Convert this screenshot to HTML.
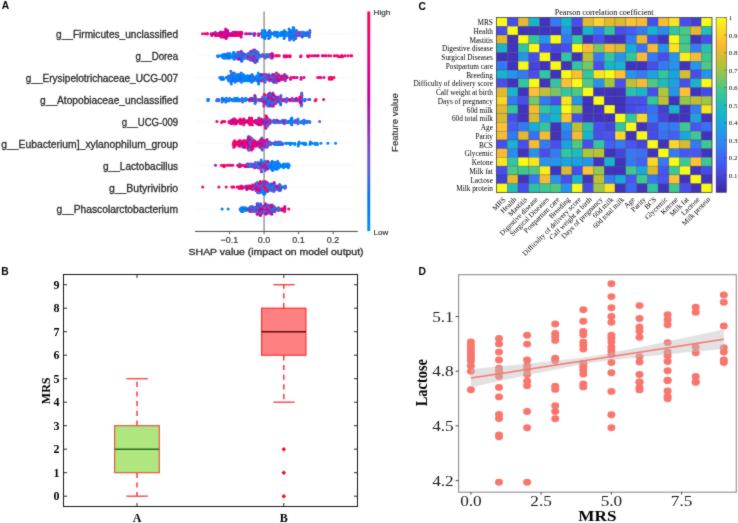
<!DOCTYPE html>
<html><head><meta charset="utf-8"><style>
html,body{margin:0;padding:0;background:#fff;width:738px;height:523px;overflow:hidden}
svg{display:block;will-change:transform}
</style></head><body>
<svg width="738" height="523" viewBox="0 0 738 523">
<defs><filter id="sb" x="0" y="0" width="100%" height="100%" color-interpolation-filters="sRGB"><feConvolveMatrix order="3" kernelMatrix="1 2 1 2 20 2 1 2 1" divisor="32" edgeMode="duplicate"/></filter></defs>
<g filter="url(#sb)">
<rect width="738" height="523" fill="#fff"/>
<text x="1.8" y="9.2" font-family='"Liberation Sans", sans-serif' font-weight="bold" font-size="10.3" fill="#000">A</text>
<text x="56.0" y="38.2" font-family='"Liberation Sans", sans-serif' font-size="10.3" fill="#2a2a2a" stroke="#2a2a2a" stroke-width="0.3" textLength="122.1" lengthAdjust="spacingAndGlyphs">g__Firmicutes_unclassified</text>
<line x1="196" x2="357" y1="33.8" y2="33.8" stroke="#ccc" stroke-width="0.6" stroke-dasharray="0.6 2.4"/>
<text x="135.5" y="60.1" font-family='"Liberation Sans", sans-serif' font-size="10.3" fill="#2a2a2a" stroke="#2a2a2a" stroke-width="0.3" textLength="42.6" lengthAdjust="spacingAndGlyphs">g__Dorea</text>
<line x1="196" x2="357" y1="55.7" y2="55.7" stroke="#ccc" stroke-width="0.6" stroke-dasharray="0.6 2.4"/>
<text x="25.8" y="82.0" font-family='"Liberation Sans", sans-serif' font-size="10.3" fill="#2a2a2a" stroke="#2a2a2a" stroke-width="0.3" textLength="152.3" lengthAdjust="spacingAndGlyphs">g__Erysipelotrichaceae_UCG-007</text>
<line x1="196" x2="357" y1="77.6" y2="77.6" stroke="#ccc" stroke-width="0.6" stroke-dasharray="0.6 2.4"/>
<text x="40.1" y="103.9" font-family='"Liberation Sans", sans-serif' font-size="10.3" fill="#2a2a2a" stroke="#2a2a2a" stroke-width="0.3" textLength="138.0" lengthAdjust="spacingAndGlyphs">g__Atopobiaceae_unclassified</text>
<line x1="196" x2="357" y1="99.5" y2="99.5" stroke="#ccc" stroke-width="0.6" stroke-dasharray="0.6 2.4"/>
<text x="121.8" y="125.8" font-family='"Liberation Sans", sans-serif' font-size="10.3" fill="#2a2a2a" stroke="#2a2a2a" stroke-width="0.3" textLength="56.3" lengthAdjust="spacingAndGlyphs">g__UCG-009</text>
<line x1="196" x2="357" y1="121.4" y2="121.4" stroke="#ccc" stroke-width="0.6" stroke-dasharray="0.6 2.4"/>
<text x="1.3" y="147.7" font-family='"Liberation Sans", sans-serif' font-size="10.3" fill="#2a2a2a" stroke="#2a2a2a" stroke-width="0.3" textLength="176.8" lengthAdjust="spacingAndGlyphs">g__Eubacterium]_xylanophilum_group</text>
<line x1="196" x2="357" y1="143.3" y2="143.3" stroke="#ccc" stroke-width="0.6" stroke-dasharray="0.6 2.4"/>
<text x="103.0" y="169.6" font-family='"Liberation Sans", sans-serif' font-size="10.3" fill="#2a2a2a" stroke="#2a2a2a" stroke-width="0.3" textLength="75.1" lengthAdjust="spacingAndGlyphs">g__Lactobacillus</text>
<line x1="196" x2="357" y1="165.2" y2="165.2" stroke="#ccc" stroke-width="0.6" stroke-dasharray="0.6 2.4"/>
<text x="108.9" y="191.5" font-family='"Liberation Sans", sans-serif' font-size="10.3" fill="#2a2a2a" stroke="#2a2a2a" stroke-width="0.3" textLength="69.2" lengthAdjust="spacingAndGlyphs">g__Butyrivibrio</text>
<line x1="196" x2="357" y1="187.1" y2="187.1" stroke="#ccc" stroke-width="0.6" stroke-dasharray="0.6 2.4"/>
<text x="56.6" y="213.4" font-family='"Liberation Sans", sans-serif' font-size="10.3" fill="#2a2a2a" stroke="#2a2a2a" stroke-width="0.3" textLength="121.5" lengthAdjust="spacingAndGlyphs">g__Phascolarctobacterium</text>
<line x1="196" x2="357" y1="209.0" y2="209.0" stroke="#ccc" stroke-width="0.6" stroke-dasharray="0.6 2.4"/>
<line x1="264.1" x2="264.1" y1="11.6" y2="231" stroke="#999" stroke-width="1.5"/>
<line x1="195.0" x2="357.8" y1="231.45" y2="231.45" stroke="#444" stroke-width="1"/>
<line x1="229.6" x2="229.6" y1="231.4" y2="234.2" stroke="#444" stroke-width="0.9"/>
<text x="229.4" y="242.9" text-anchor="middle" font-family='"Liberation Sans", sans-serif' font-size="9" fill="#333" stroke="#333" stroke-width="0.2">−0.1</text>
<line x1="264.1" x2="264.1" y1="231.4" y2="234.2" stroke="#444" stroke-width="0.9"/>
<text x="263.9" y="242.9" text-anchor="middle" font-family='"Liberation Sans", sans-serif' font-size="9" fill="#333" stroke="#333" stroke-width="0.2">0.0</text>
<line x1="298.7" x2="298.7" y1="231.4" y2="234.2" stroke="#444" stroke-width="0.9"/>
<text x="298.5" y="242.9" text-anchor="middle" font-family='"Liberation Sans", sans-serif' font-size="9" fill="#333" stroke="#333" stroke-width="0.2">0.1</text>
<line x1="333.2" x2="333.2" y1="231.4" y2="234.2" stroke="#444" stroke-width="0.9"/>
<text x="333.0" y="242.9" text-anchor="middle" font-family='"Liberation Sans", sans-serif' font-size="9" fill="#333" stroke="#333" stroke-width="0.2">0.2</text>
<text x="188.6" y="255" font-family='"Liberation Sans", sans-serif' font-size="9.6" fill="#2a2a2a" stroke="#2a2a2a" stroke-width="0.3" textLength="175" lengthAdjust="spacingAndGlyphs">SHAP value (impact on model output)</text>
<defs><linearGradient id="shapg" x1="0" y1="0" x2="0" y2="1"><stop offset="0.00" stop-color="#ff0051"/><stop offset="0.05" stop-color="#fe005c"/><stop offset="0.10" stop-color="#f90067"/><stop offset="0.15" stop-color="#f20072"/><stop offset="0.20" stop-color="#e9007c"/><stop offset="0.25" stop-color="#e00086"/><stop offset="0.30" stop-color="#d5008f"/><stop offset="0.35" stop-color="#c90098"/><stop offset="0.40" stop-color="#bb00a0"/><stop offset="0.45" stop-color="#ac16a7"/><stop offset="0.50" stop-color="#9b23ad"/><stop offset="0.55" stop-color="#9135ba"/><stop offset="0.60" stop-color="#8443c6"/><stop offset="0.65" stop-color="#754fd1"/><stop offset="0.70" stop-color="#635adb"/><stop offset="0.75" stop-color="#4b63e3"/><stop offset="0.80" stop-color="#246cea"/><stop offset="0.85" stop-color="#0075f0"/><stop offset="0.90" stop-color="#007cf5"/><stop offset="0.95" stop-color="#0084f9"/><stop offset="1.00" stop-color="#008bfb"/></linearGradient></defs>
<rect x="367.3" y="11.5" width="2.9" height="219.6" fill="url(#shapg)"/>
<text x="373.6" y="15.0" font-family='"Liberation Sans", sans-serif' font-size="8.1" fill="#333" stroke="#333" stroke-width="0.2">High</text>
<text x="373.6" y="234.8" font-family='"Liberation Sans", sans-serif' font-size="8.0" fill="#333" stroke="#333" stroke-width="0.2">Low</text>
<text transform="translate(398.4,122.6) rotate(-90)" text-anchor="middle" font-family='"Liberation Sans", sans-serif' font-size="9.6" fill="#333" stroke="#333" stroke-width="0.2">Feature value</text>
<g><circle cx="301.5" cy="35.4" r="1.5" fill="#007bf4"/><circle cx="260.3" cy="33.8" r="1.5" fill="#fd005f"/><circle cx="309.4" cy="37.0" r="1.5" fill="#4465e5"/><circle cx="233.7" cy="33.8" r="1.5" fill="#d20091"/><circle cx="215.3" cy="32.2" r="1.5" fill="#794ccf"/><circle cx="292.9" cy="33.8" r="1.5" fill="#0081f8"/><circle cx="240.8" cy="35.4" r="1.5" fill="#f7006a"/><circle cx="291.0" cy="32.2" r="1.5" fill="#0076f1"/><circle cx="215.4" cy="33.8" r="1.5" fill="#a61caa"/><circle cx="291.5" cy="38.5" r="1.5" fill="#774ed0"/><circle cx="269.1" cy="33.8" r="1.5" fill="#3c68e7"/><circle cx="272.0" cy="33.8" r="1.5" fill="#007bf4"/><circle cx="258.4" cy="33.8" r="1.5" fill="#6658d9"/><circle cx="241.4" cy="33.8" r="1.5" fill="#9f21ac"/><circle cx="220.9" cy="32.2" r="1.5" fill="#f5006e"/><circle cx="241.9" cy="33.8" r="1.5" fill="#d30091"/><circle cx="258.6" cy="35.4" r="1.5" fill="#d7008d"/><circle cx="225.7" cy="32.2" r="1.5" fill="#ef0075"/><circle cx="229.3" cy="33.8" r="1.5" fill="#db008b"/><circle cx="225.5" cy="32.2" r="1.5" fill="#e00086"/><circle cx="217.8" cy="35.4" r="1.5" fill="#c5009a"/><circle cx="241.2" cy="37.0" r="1.5" fill="#c3009c"/><circle cx="276.1" cy="33.8" r="1.5" fill="#007df5"/><circle cx="272.9" cy="33.8" r="1.5" fill="#0072ef"/><circle cx="290.3" cy="33.8" r="1.5" fill="#0074f0"/><circle cx="281.4" cy="33.8" r="1.5" fill="#0080f7"/><circle cx="305.6" cy="33.8" r="1.5" fill="#9136ba"/><circle cx="275.1" cy="35.4" r="1.5" fill="#0084f9"/><circle cx="247.1" cy="33.8" r="1.5" fill="#8740c4"/><circle cx="235.9" cy="35.4" r="1.5" fill="#ea007b"/><circle cx="289.5" cy="38.5" r="1.5" fill="#008bfb"/><circle cx="226.0" cy="33.8" r="1.5" fill="#e50081"/><circle cx="292.6" cy="35.4" r="1.5" fill="#0081f7"/><circle cx="234.7" cy="35.4" r="1.5" fill="#fb0062"/><circle cx="250.9" cy="33.8" r="1.5" fill="#0077f2"/><circle cx="274.3" cy="32.2" r="1.5" fill="#008bfb"/><circle cx="295.6" cy="35.4" r="1.5" fill="#ae13a6"/><circle cx="268.7" cy="38.5" r="1.5" fill="#0071ee"/><circle cx="212.7" cy="33.8" r="1.5" fill="#e30083"/><circle cx="207.5" cy="33.8" r="1.5" fill="#f6006b"/><circle cx="299.4" cy="33.8" r="1.5" fill="#008bfb"/><circle cx="232.4" cy="33.8" r="1.5" fill="#f80069"/><circle cx="296.6" cy="35.4" r="1.5" fill="#4f62e2"/><circle cx="264.9" cy="38.5" r="1.5" fill="#007cf5"/><circle cx="211.8" cy="35.4" r="1.5" fill="#c70099"/><circle cx="295.6" cy="38.5" r="1.5" fill="#9430b6"/><circle cx="222.9" cy="33.8" r="1.5" fill="#cd0095"/><circle cx="308.3" cy="35.4" r="1.5" fill="#8641c4"/><circle cx="238.1" cy="35.4" r="1.5" fill="#a61ca9"/><circle cx="284.3" cy="30.6" r="1.5" fill="#008bfb"/><circle cx="290.5" cy="38.5" r="1.5" fill="#008bfb"/><circle cx="283.0" cy="35.4" r="1.5" fill="#007bf4"/><circle cx="239.4" cy="33.8" r="1.5" fill="#de0088"/><circle cx="262.4" cy="32.2" r="1.5" fill="#0076f2"/><circle cx="305.2" cy="35.4" r="1.5" fill="#008bfb"/><circle cx="222.0" cy="35.4" r="1.5" fill="#9a26af"/><circle cx="222.9" cy="32.2" r="1.5" fill="#a020ab"/><circle cx="276.6" cy="35.4" r="1.5" fill="#0085f9"/><circle cx="291.5" cy="30.6" r="1.5" fill="#008bfb"/><circle cx="245.6" cy="33.8" r="1.5" fill="#cc0096"/><circle cx="286.2" cy="35.4" r="1.5" fill="#0083f8"/><circle cx="277.4" cy="33.8" r="1.5" fill="#007cf5"/><circle cx="292.6" cy="32.2" r="1.5" fill="#754fd1"/><circle cx="219.8" cy="35.4" r="1.5" fill="#c70099"/><circle cx="292.0" cy="35.4" r="1.5" fill="#008bfb"/><circle cx="280.0" cy="35.4" r="1.5" fill="#007ef6"/><circle cx="264.5" cy="35.4" r="1.5" fill="#006fed"/><circle cx="309.8" cy="30.6" r="1.5" fill="#126eec"/><circle cx="237.8" cy="33.8" r="1.5" fill="#e20084"/><circle cx="303.3" cy="33.8" r="1.5" fill="#0072ef"/><circle cx="283.8" cy="33.8" r="1.5" fill="#0084f9"/><circle cx="262.1" cy="37.0" r="1.5" fill="#0088fa"/><circle cx="262.5" cy="35.4" r="1.5" fill="#0089fa"/><circle cx="280.6" cy="33.8" r="1.5" fill="#008bfb"/><circle cx="224.3" cy="37.0" r="1.5" fill="#ff0051"/><circle cx="290.8" cy="35.4" r="1.5" fill="#008bfb"/><circle cx="216.3" cy="33.8" r="1.5" fill="#9332b7"/><circle cx="230.2" cy="35.4" r="1.5" fill="#ff0051"/><circle cx="289.5" cy="35.4" r="1.5" fill="#008bfb"/><circle cx="254.4" cy="33.8" r="1.5" fill="#f30070"/><circle cx="277.8" cy="32.2" r="1.5" fill="#0085f9"/><circle cx="214.0" cy="33.8" r="1.5" fill="#af12a6"/><circle cx="224.2" cy="32.2" r="1.5" fill="#e8007d"/><circle cx="211.0" cy="33.8" r="1.5" fill="#e10085"/><circle cx="288.6" cy="32.2" r="1.5" fill="#0087fa"/><circle cx="280.6" cy="35.4" r="1.5" fill="#007df6"/><circle cx="221.4" cy="32.2" r="1.5" fill="#a41daa"/><circle cx="226.3" cy="37.0" r="1.5" fill="#c90098"/><circle cx="274.8" cy="33.8" r="1.5" fill="#0088fa"/><circle cx="286.0" cy="32.2" r="1.5" fill="#0073ef"/><circle cx="263.6" cy="37.0" r="1.5" fill="#0081f7"/><circle cx="264.8" cy="30.6" r="1.5" fill="#0082f8"/><circle cx="307.9" cy="33.8" r="1.5" fill="#0070ed"/><circle cx="236.7" cy="35.4" r="1.5" fill="#ec0079"/><circle cx="225.5" cy="33.8" r="1.5" fill="#bc009f"/><circle cx="265.2" cy="32.2" r="1.5" fill="#046fed"/><circle cx="296.4" cy="30.6" r="1.5" fill="#0070ee"/><circle cx="308.4" cy="33.8" r="1.5" fill="#007cf5"/><circle cx="235.0" cy="33.8" r="1.5" fill="#c0009d"/><circle cx="232.7" cy="35.4" r="1.5" fill="#cc0096"/><circle cx="294.3" cy="32.2" r="1.5" fill="#0087fa"/><circle cx="298.4" cy="32.2" r="1.5" fill="#8146c9"/><circle cx="241.6" cy="32.2" r="1.5" fill="#fe005c"/><circle cx="207.1" cy="33.8" r="1.5" fill="#f20072"/><circle cx="240.1" cy="32.2" r="1.5" fill="#ad15a6"/><circle cx="295.8" cy="32.2" r="1.5" fill="#008bfb"/><circle cx="304.1" cy="35.4" r="1.5" fill="#754fd1"/><circle cx="232.0" cy="35.4" r="1.5" fill="#d00093"/><circle cx="224.6" cy="37.0" r="1.5" fill="#c3009c"/><circle cx="291.4" cy="32.2" r="1.5" fill="#006fed"/><circle cx="240.1" cy="35.4" r="1.5" fill="#e7007e"/><circle cx="293.5" cy="33.8" r="1.5" fill="#0083f8"/><circle cx="262.5" cy="33.8" r="1.5" fill="#4b63e3"/><circle cx="217.6" cy="33.8" r="1.5" fill="#ee0077"/><circle cx="303.1" cy="35.4" r="1.5" fill="#008bfb"/><circle cx="284.1" cy="38.5" r="1.5" fill="#007af4"/><circle cx="289.4" cy="37.0" r="1.5" fill="#6b55d7"/><circle cx="227.0" cy="37.0" r="1.5" fill="#eb007a"/><circle cx="301.8" cy="32.2" r="1.5" fill="#7251d3"/><circle cx="221.0" cy="37.0" r="1.5" fill="#e50081"/><circle cx="269.5" cy="37.0" r="1.5" fill="#0078f2"/><circle cx="282.5" cy="32.2" r="1.5" fill="#007ff7"/><circle cx="268.5" cy="32.2" r="1.5" fill="#0070ed"/><circle cx="293.2" cy="35.4" r="1.5" fill="#0072ee"/><circle cx="300.3" cy="32.2" r="1.5" fill="#3b68e7"/><circle cx="202.5" cy="33.8" r="1.5" fill="#f20071"/><circle cx="275.5" cy="33.8" r="1.5" fill="#0086f9"/><circle cx="297.3" cy="33.8" r="1.5" fill="#008bfb"/><circle cx="290.4" cy="30.6" r="1.5" fill="#008bfb"/><circle cx="222.7" cy="37.0" r="1.5" fill="#a81aa9"/><circle cx="232.9" cy="32.2" r="1.5" fill="#d10092"/><circle cx="220.2" cy="32.2" r="1.5" fill="#be009e"/><circle cx="293.9" cy="29.1" r="1.5" fill="#0077f2"/><circle cx="288.7" cy="33.8" r="1.5" fill="#0073ef"/><circle cx="299.9" cy="33.8" r="1.5" fill="#a11fab"/><circle cx="227.7" cy="35.4" r="1.5" fill="#a81aa9"/><circle cx="271.5" cy="33.8" r="1.5" fill="#0072ef"/><circle cx="261.9" cy="33.8" r="1.5" fill="#008afb"/><circle cx="267.4" cy="35.4" r="1.5" fill="#007cf5"/><circle cx="293.9" cy="37.0" r="1.5" fill="#0087fa"/><circle cx="269.5" cy="30.6" r="1.5" fill="#0073ef"/><circle cx="289.6" cy="40.1" r="1.5" fill="#6758d9"/><circle cx="281.2" cy="32.2" r="1.5" fill="#007df5"/><circle cx="284.2" cy="32.2" r="1.5" fill="#0076f2"/><circle cx="297.7" cy="35.4" r="1.5" fill="#8641c4"/><circle cx="293.8" cy="40.1" r="1.5" fill="#0087fa"/><circle cx="267.7" cy="33.8" r="1.5" fill="#5161e1"/><circle cx="288.3" cy="35.4" r="1.5" fill="#007af4"/><circle cx="254.2" cy="35.4" r="1.5" fill="#982ab2"/><circle cx="284.2" cy="35.4" r="1.5" fill="#0081f7"/><circle cx="218.5" cy="33.8" r="1.5" fill="#b40ba3"/><circle cx="225.3" cy="35.4" r="1.5" fill="#f10073"/><circle cx="309.4" cy="33.8" r="1.5" fill="#007af4"/><circle cx="225.7" cy="29.1" r="1.5" fill="#fd005e"/><circle cx="231.3" cy="33.8" r="1.5" fill="#c5009a"/><circle cx="307.2" cy="35.4" r="1.5" fill="#008bfb"/><circle cx="264.0" cy="33.8" r="1.5" fill="#0075f1"/><circle cx="253.3" cy="33.8" r="1.5" fill="#5a5ede"/><circle cx="285.2" cy="33.8" r="1.5" fill="#007af4"/><circle cx="233.3" cy="32.2" r="1.5" fill="#9332b7"/><circle cx="292.0" cy="37.0" r="1.5" fill="#0072ee"/><circle cx="293.0" cy="37.0" r="1.5" fill="#007ff7"/><circle cx="309.4" cy="35.4" r="1.5" fill="#595edf"/><circle cx="219.6" cy="33.8" r="1.5" fill="#f6006c"/><circle cx="230.0" cy="33.8" r="1.5" fill="#b509a3"/><circle cx="235.6" cy="33.8" r="1.5" fill="#e8007e"/><circle cx="255.0" cy="33.8" r="1.5" fill="#dd0089"/><circle cx="225.8" cy="30.6" r="1.5" fill="#b804a2"/><circle cx="234.7" cy="32.2" r="1.5" fill="#cb0096"/><circle cx="288.9" cy="33.8" r="1.5" fill="#008bfb"/><circle cx="223.2" cy="35.4" r="1.5" fill="#fd0060"/><circle cx="262.4" cy="30.6" r="1.5" fill="#0082f8"/><circle cx="274.6" cy="35.4" r="1.5" fill="#008bfb"/><circle cx="289.0" cy="29.1" r="1.5" fill="#2c6bea"/><circle cx="234.0" cy="35.4" r="1.5" fill="#e8007e"/><circle cx="301.9" cy="35.4" r="1.5" fill="#0078f3"/><circle cx="227.7" cy="30.6" r="1.5" fill="#db008a"/><circle cx="227.8" cy="35.4" r="1.5" fill="#f30070"/><circle cx="215.2" cy="35.4" r="1.5" fill="#ff0059"/><circle cx="249.0" cy="33.8" r="1.5" fill="#d8008c"/><circle cx="295.4" cy="33.8" r="1.5" fill="#6f53d5"/><circle cx="309.8" cy="32.2" r="1.5" fill="#8a3ec1"/><circle cx="269.8" cy="35.4" r="1.5" fill="#007cf5"/><circle cx="293.5" cy="38.5" r="1.5" fill="#008bfb"/><circle cx="269.6" cy="35.4" r="1.5" fill="#226deb"/><circle cx="303.7" cy="32.2" r="1.5" fill="#3a68e7"/><circle cx="298.1" cy="33.8" r="1.5" fill="#7152d4"/><circle cx="240.0" cy="33.8" r="1.5" fill="#b30da4"/><circle cx="222.3" cy="33.8" r="1.5" fill="#c6009a"/><circle cx="301.7" cy="32.2" r="1.5" fill="#6758d9"/><circle cx="295.3" cy="35.4" r="1.5" fill="#9037bb"/><circle cx="228.6" cy="33.8" r="1.5" fill="#ea007b"/><circle cx="270.3" cy="37.0" r="1.5" fill="#008bfb"/><circle cx="275.6" cy="32.2" r="1.5" fill="#0072ee"/><circle cx="307.1" cy="35.4" r="1.5" fill="#007ff6"/><circle cx="289.4" cy="32.2" r="1.5" fill="#007df6"/><circle cx="290.0" cy="30.6" r="1.5" fill="#0081f7"/><circle cx="299.9" cy="35.4" r="1.5" fill="#336ae8"/><circle cx="280.0" cy="33.8" r="1.5" fill="#008bfb"/><circle cx="293.7" cy="30.6" r="1.5" fill="#008bfb"/><circle cx="302.1" cy="33.8" r="1.5" fill="#4366e5"/><circle cx="227.7" cy="32.2" r="1.5" fill="#d30090"/><circle cx="237.9" cy="32.2" r="1.5" fill="#ff0051"/><circle cx="306.6" cy="33.8" r="1.5" fill="#0082f8"/><circle cx="205.1" cy="33.8" r="1.5" fill="#e7007f"/><circle cx="220.9" cy="35.4" r="1.5" fill="#f70069"/><circle cx="267.3" cy="33.8" r="1.5" fill="#0089fa"/><circle cx="270.6" cy="32.2" r="1.5" fill="#6857d8"/><circle cx="294.3" cy="33.8" r="1.5" fill="#754fd1"/><circle cx="286.6" cy="33.8" r="1.5" fill="#008afb"/><circle cx="216.8" cy="35.4" r="1.5" fill="#e00085"/><circle cx="213.1" cy="33.8" r="1.5" fill="#d5008f"/><circle cx="218.4" cy="35.4" r="1.5" fill="#f00074"/><circle cx="220.6" cy="33.8" r="1.5" fill="#c2009c"/><circle cx="224.3" cy="35.4" r="1.5" fill="#cc0096"/><circle cx="226.5" cy="35.4" r="1.5" fill="#ca0097"/><circle cx="296.0" cy="37.0" r="1.5" fill="#008bfb"/><circle cx="293.3" cy="27.5" r="1.5" fill="#0077f2"/><circle cx="236.5" cy="33.8" r="1.5" fill="#fe005c"/><circle cx="295.2" cy="32.2" r="1.5" fill="#5b5dde"/><circle cx="277.4" cy="37.0" r="1.5" fill="#008bfb"/><circle cx="287.8" cy="33.8" r="1.5" fill="#008bfb"/><circle cx="265.3" cy="33.8" r="1.5" fill="#008bfb"/><circle cx="263.8" cy="35.4" r="1.5" fill="#0081f7"/><circle cx="270.4" cy="33.8" r="1.5" fill="#007ff7"/><circle cx="306.8" cy="32.2" r="1.5" fill="#0080f7"/><circle cx="290.1" cy="37.0" r="1.5" fill="#276cea"/><circle cx="224.5" cy="33.8" r="1.5" fill="#f20072"/><circle cx="292.0" cy="33.8" r="1.5" fill="#0084f9"/><circle cx="226.7" cy="33.8" r="1.5" fill="#aa18a8"/><circle cx="263.4" cy="32.2" r="1.5" fill="#008bfb"/><circle cx="265.2" cy="37.0" r="1.5" fill="#007ff6"/><circle cx="302.2" cy="37.0" r="1.5" fill="#a021ac"/><circle cx="277.7" cy="35.4" r="1.5" fill="#008bfb"/><circle cx="226.1" cy="38.5" r="1.5" fill="#ce0094"/><circle cx="235.8" cy="32.2" r="1.5" fill="#da008b"/><circle cx="305.0" cy="33.8" r="1.5" fill="#1a6deb"/><circle cx="301.8" cy="33.8" r="1.5" fill="#008bfb"/><circle cx="282.7" cy="33.8" r="1.5" fill="#0072ef"/><circle cx="284.4" cy="37.0" r="1.5" fill="#0085f9"/><circle cx="253.4" cy="58.0" r="1.5" fill="#9928b0"/><circle cx="241.7" cy="61.3" r="1.5" fill="#0077f2"/><circle cx="237.9" cy="52.3" r="1.5" fill="#0078f3"/><circle cx="265.4" cy="58.0" r="1.5" fill="#008bfb"/><circle cx="250.2" cy="55.7" r="1.5" fill="#8047c9"/><circle cx="238.8" cy="52.3" r="1.5" fill="#9234b9"/><circle cx="258.2" cy="58.0" r="1.5" fill="#4565e5"/><circle cx="309.6" cy="55.7" r="1.5" fill="#fb0062"/><circle cx="222.5" cy="55.7" r="1.5" fill="#006fed"/><circle cx="252.0" cy="56.8" r="1.5" fill="#5161e1"/><circle cx="241.8" cy="52.3" r="1.5" fill="#6d54d6"/><circle cx="314.1" cy="55.7" r="1.5" fill="#e8007e"/><circle cx="251.9" cy="59.1" r="1.5" fill="#8d3abe"/><circle cx="243.3" cy="53.4" r="1.5" fill="#008bfb"/><circle cx="244.5" cy="58.0" r="1.5" fill="#0089fa"/><circle cx="272.9" cy="55.7" r="1.5" fill="#8c3cc0"/><circle cx="240.0" cy="53.4" r="1.5" fill="#c2009c"/><circle cx="234.6" cy="53.4" r="1.5" fill="#196eec"/><circle cx="262.7" cy="54.6" r="1.5" fill="#9233b8"/><circle cx="266.7" cy="56.8" r="1.5" fill="#c60099"/><circle cx="248.3" cy="53.4" r="1.5" fill="#0088fa"/><circle cx="239.2" cy="58.0" r="1.5" fill="#6b55d7"/><circle cx="248.0" cy="58.0" r="1.5" fill="#0073ef"/><circle cx="226.2" cy="54.6" r="1.5" fill="#4b63e3"/><circle cx="326.0" cy="55.7" r="1.5" fill="#fc0061"/><circle cx="237.9" cy="55.7" r="1.5" fill="#008bfb"/><circle cx="347.9" cy="55.7" r="1.5" fill="#f90067"/><circle cx="277.4" cy="55.7" r="1.5" fill="#e9007d"/><circle cx="248.6" cy="55.7" r="1.5" fill="#3968e7"/><circle cx="253.4" cy="54.6" r="1.5" fill="#8047c9"/><circle cx="252.4" cy="58.0" r="1.5" fill="#982bb2"/><circle cx="250.7" cy="56.8" r="1.5" fill="#2b6bea"/><circle cx="234.4" cy="59.1" r="1.5" fill="#0084f9"/><circle cx="241.6" cy="58.0" r="1.5" fill="#186eec"/><circle cx="244.6" cy="54.6" r="1.5" fill="#0070ed"/><circle cx="236.0" cy="56.8" r="1.5" fill="#007cf5"/><circle cx="255.6" cy="59.1" r="1.5" fill="#b011a5"/><circle cx="219.8" cy="55.7" r="1.5" fill="#008bfb"/><circle cx="245.3" cy="54.6" r="1.5" fill="#9234b9"/><circle cx="233.5" cy="53.4" r="1.5" fill="#0071ee"/><circle cx="248.3" cy="59.1" r="1.5" fill="#008afb"/><circle cx="221.3" cy="55.7" r="1.5" fill="#0080f7"/><circle cx="241.0" cy="56.8" r="1.5" fill="#007ef6"/><circle cx="227.2" cy="54.6" r="1.5" fill="#3a68e7"/><circle cx="268.4" cy="56.8" r="1.5" fill="#7b4bcd"/><circle cx="257.1" cy="61.3" r="1.5" fill="#0086f9"/><circle cx="253.9" cy="59.1" r="1.5" fill="#5d5cdd"/><circle cx="312.0" cy="55.7" r="1.5" fill="#e8007d"/><circle cx="254.5" cy="56.8" r="1.5" fill="#c70099"/><circle cx="255.0" cy="52.3" r="1.5" fill="#952fb5"/><circle cx="254.9" cy="55.7" r="1.5" fill="#a120ab"/><circle cx="247.2" cy="54.6" r="1.5" fill="#6b55d7"/><circle cx="271.0" cy="54.6" r="1.5" fill="#6d54d6"/><circle cx="253.4" cy="52.3" r="1.5" fill="#3968e7"/><circle cx="245.2" cy="55.7" r="1.5" fill="#6d54d6"/><circle cx="230.3" cy="56.8" r="1.5" fill="#0083f8"/><circle cx="243.4" cy="56.8" r="1.5" fill="#952fb5"/><circle cx="246.6" cy="58.0" r="1.5" fill="#0072ef"/><circle cx="243.9" cy="55.7" r="1.5" fill="#0076f2"/><circle cx="232.1" cy="55.7" r="1.5" fill="#0083f8"/><circle cx="253.1" cy="52.3" r="1.5" fill="#6b56d7"/><circle cx="287.8" cy="55.7" r="1.5" fill="#f5006d"/><circle cx="238.1" cy="58.0" r="1.5" fill="#0076f2"/><circle cx="229.5" cy="54.6" r="1.5" fill="#007ef6"/><circle cx="250.6" cy="52.3" r="1.5" fill="#8b3cc0"/><circle cx="248.9" cy="54.6" r="1.5" fill="#1b6deb"/><circle cx="254.9" cy="58.0" r="1.5" fill="#0084f9"/><circle cx="300.6" cy="56.8" r="1.5" fill="#e40082"/><circle cx="224.7" cy="56.8" r="1.5" fill="#0078f3"/><circle cx="259.8" cy="55.7" r="1.5" fill="#a120ab"/><circle cx="264.7" cy="55.7" r="1.5" fill="#8c3bbf"/><circle cx="266.1" cy="56.8" r="1.5" fill="#4b63e3"/><circle cx="235.0" cy="54.6" r="1.5" fill="#0073ef"/><circle cx="230.2" cy="58.0" r="1.5" fill="#007ff6"/><circle cx="251.3" cy="53.4" r="1.5" fill="#a71ba9"/><circle cx="254.7" cy="50.1" r="1.5" fill="#982bb2"/><circle cx="271.4" cy="55.7" r="1.5" fill="#5b5dde"/><circle cx="325.4" cy="55.7" r="1.5" fill="#fd005e"/><circle cx="255.2" cy="62.5" r="1.5" fill="#972bb3"/><circle cx="258.3" cy="55.7" r="1.5" fill="#7251d3"/><circle cx="228.6" cy="56.8" r="1.5" fill="#007ef6"/><circle cx="239.3" cy="56.8" r="1.5" fill="#4665e4"/><circle cx="256.4" cy="58.0" r="1.5" fill="#4e62e2"/><circle cx="228.3" cy="58.0" r="1.5" fill="#0078f3"/><circle cx="345.0" cy="55.7" r="1.5" fill="#e10085"/><circle cx="255.9" cy="52.3" r="1.5" fill="#cf0094"/><circle cx="272.0" cy="53.4" r="1.5" fill="#e30083"/><circle cx="237.7" cy="56.8" r="1.5" fill="#5261e1"/><circle cx="251.5" cy="59.1" r="1.5" fill="#e30083"/><circle cx="237.7" cy="59.1" r="1.5" fill="#9928b0"/><circle cx="223.0" cy="54.6" r="1.5" fill="#007df6"/><circle cx="250.8" cy="51.2" r="1.5" fill="#ff0057"/><circle cx="243.1" cy="59.1" r="1.5" fill="#4c63e3"/><circle cx="257.3" cy="54.6" r="1.5" fill="#8840c3"/><circle cx="255.4" cy="54.6" r="1.5" fill="#7f48ca"/><circle cx="217.9" cy="56.8" r="1.5" fill="#0086f9"/><circle cx="350.7" cy="55.7" r="1.5" fill="#e20084"/><circle cx="279.2" cy="55.7" r="1.5" fill="#fd005f"/><circle cx="242.1" cy="56.8" r="1.5" fill="#306ae9"/><circle cx="254.0" cy="61.3" r="1.5" fill="#8245c8"/><circle cx="269.8" cy="54.6" r="1.5" fill="#dc0089"/><circle cx="307.5" cy="55.7" r="1.5" fill="#f30070"/><circle cx="328.6" cy="55.7" r="1.5" fill="#e50081"/><circle cx="241.4" cy="59.1" r="1.5" fill="#8542c5"/><circle cx="251.1" cy="58.0" r="1.5" fill="#8741c4"/><circle cx="250.0" cy="56.8" r="1.5" fill="#db008a"/><circle cx="257.8" cy="56.8" r="1.5" fill="#0077f2"/><circle cx="240.4" cy="59.1" r="1.5" fill="#0070ed"/><circle cx="341.2" cy="56.8" r="1.5" fill="#e50081"/><circle cx="234.0" cy="59.1" r="1.5" fill="#5062e2"/><circle cx="256.0" cy="54.6" r="1.5" fill="#007df6"/><circle cx="258.5" cy="56.8" r="1.5" fill="#008bfb"/><circle cx="242.1" cy="53.4" r="1.5" fill="#6c54d6"/><circle cx="246.4" cy="58.0" r="1.5" fill="#0088fa"/><circle cx="245.2" cy="56.8" r="1.5" fill="#605bdc"/><circle cx="227.7" cy="58.0" r="1.5" fill="#0076f1"/><circle cx="239.5" cy="53.4" r="1.5" fill="#7e49cb"/><circle cx="255.3" cy="56.8" r="1.5" fill="#bf009e"/><circle cx="261.6" cy="55.7" r="1.5" fill="#5360e1"/><circle cx="272.2" cy="58.0" r="1.5" fill="#7a4bce"/><circle cx="250.7" cy="60.2" r="1.5" fill="#7450d2"/><circle cx="341.3" cy="55.7" r="1.5" fill="#d20091"/><circle cx="222.3" cy="56.8" r="1.5" fill="#007ff7"/><circle cx="241.3" cy="51.2" r="1.5" fill="#962eb4"/><circle cx="322.3" cy="55.7" r="1.5" fill="#ef0076"/><circle cx="275.9" cy="55.7" r="1.5" fill="#ff0051"/><circle cx="240.6" cy="58.0" r="1.5" fill="#0078f3"/><circle cx="239.1" cy="54.6" r="1.5" fill="#ce0094"/><circle cx="256.5" cy="51.2" r="1.5" fill="#008bfb"/><circle cx="273.0" cy="56.8" r="1.5" fill="#f6006c"/><circle cx="254.7" cy="51.2" r="1.5" fill="#4764e4"/><circle cx="287.3" cy="56.8" r="1.5" fill="#ff0059"/><circle cx="271.4" cy="56.8" r="1.5" fill="#c3009c"/><circle cx="228.5" cy="54.6" r="1.5" fill="#0e6eec"/><circle cx="258.6" cy="54.6" r="1.5" fill="#0070ed"/><circle cx="330.6" cy="55.7" r="1.5" fill="#ff0051"/><circle cx="252.6" cy="54.6" r="1.5" fill="#7f48ca"/><circle cx="240.5" cy="55.7" r="1.5" fill="#008bfb"/><circle cx="268.6" cy="55.7" r="1.5" fill="#c90098"/><circle cx="253.1" cy="53.4" r="1.5" fill="#0071ee"/><circle cx="227.8" cy="53.4" r="1.5" fill="#0081f8"/><circle cx="317.5" cy="55.7" r="1.5" fill="#f7006a"/><circle cx="255.1" cy="61.3" r="1.5" fill="#0077f2"/><circle cx="232.9" cy="56.8" r="1.5" fill="#4465e5"/><circle cx="253.2" cy="60.2" r="1.5" fill="#8740c4"/><circle cx="315.7" cy="55.7" r="1.5" fill="#e9007d"/><circle cx="253.8" cy="51.2" r="1.5" fill="#0074f0"/><circle cx="227.2" cy="55.7" r="1.5" fill="#0078f3"/><circle cx="269.5" cy="55.7" r="1.5" fill="#7450d2"/><circle cx="234.3" cy="55.7" r="1.5" fill="#4266e6"/><circle cx="228.3" cy="55.7" r="1.5" fill="#6c55d6"/><circle cx="256.8" cy="56.8" r="1.5" fill="#7c4acc"/><circle cx="257.1" cy="59.1" r="1.5" fill="#008bfb"/><circle cx="217.6" cy="55.7" r="1.5" fill="#0082f8"/><circle cx="276.8" cy="55.7" r="1.5" fill="#ff0055"/><circle cx="256.7" cy="53.4" r="1.5" fill="#0075f1"/><circle cx="255.7" cy="53.4" r="1.5" fill="#9431b7"/><circle cx="284.3" cy="56.8" r="1.5" fill="#fb0064"/><circle cx="260.4" cy="55.7" r="1.5" fill="#0076f2"/><circle cx="229.2" cy="55.7" r="1.5" fill="#0b6fec"/><circle cx="241.8" cy="54.6" r="1.5" fill="#008bfb"/><circle cx="235.6" cy="55.7" r="1.5" fill="#a31eab"/><circle cx="251.9" cy="55.7" r="1.5" fill="#575fdf"/><circle cx="234.8" cy="56.8" r="1.5" fill="#0071ee"/><circle cx="226.0" cy="56.8" r="1.5" fill="#0072ef"/><circle cx="260.1" cy="56.8" r="1.5" fill="#6956d8"/><circle cx="338.8" cy="56.8" r="1.5" fill="#fe005e"/><circle cx="238.1" cy="53.4" r="1.5" fill="#883fc3"/><circle cx="247.4" cy="55.7" r="1.5" fill="#8146c8"/><circle cx="234.1" cy="56.8" r="1.5" fill="#2f6ae9"/><circle cx="249.5" cy="54.6" r="1.5" fill="#008bfb"/><circle cx="241.4" cy="60.2" r="1.5" fill="#0073ef"/><circle cx="266.0" cy="55.7" r="1.5" fill="#8d3abe"/><circle cx="234.5" cy="58.0" r="1.5" fill="#0071ee"/><circle cx="290.0" cy="56.8" r="1.5" fill="#ea007b"/><circle cx="308.1" cy="56.8" r="1.5" fill="#e9007c"/><circle cx="266.7" cy="55.7" r="1.5" fill="#7d49cc"/><circle cx="250.3" cy="58.0" r="1.5" fill="#a51daa"/><circle cx="318.3" cy="55.7" r="1.5" fill="#da008b"/><circle cx="250.8" cy="54.6" r="1.5" fill="#008bfb"/><circle cx="238.0" cy="54.6" r="1.5" fill="#316ae9"/><circle cx="245.0" cy="56.8" r="1.5" fill="#008bfb"/><circle cx="257.6" cy="59.1" r="1.5" fill="#4c63e3"/><circle cx="251.6" cy="55.7" r="1.5" fill="#7d49cb"/><circle cx="253.7" cy="55.7" r="1.5" fill="#9928b0"/><circle cx="253.1" cy="60.2" r="1.5" fill="#e9007d"/><circle cx="267.2" cy="54.6" r="1.5" fill="#4f62e2"/><circle cx="230.0" cy="53.4" r="1.5" fill="#008bfb"/><circle cx="225.7" cy="58.0" r="1.5" fill="#0080f7"/><circle cx="233.3" cy="58.0" r="1.5" fill="#008bfb"/><circle cx="290.2" cy="55.7" r="1.5" fill="#ef0076"/><circle cx="257.9" cy="53.4" r="1.5" fill="#0081f7"/><circle cx="242.7" cy="54.6" r="1.5" fill="#0075f1"/><circle cx="224.9" cy="54.6" r="1.5" fill="#007af4"/><circle cx="247.3" cy="56.8" r="1.5" fill="#008bfb"/><circle cx="256.3" cy="60.2" r="1.5" fill="#be009e"/><circle cx="223.2" cy="58.0" r="1.5" fill="#0083f8"/><circle cx="247.9" cy="56.8" r="1.5" fill="#af13a6"/><circle cx="337.8" cy="55.7" r="1.5" fill="#f80068"/><circle cx="242.1" cy="55.7" r="1.5" fill="#6559da"/><circle cx="233.0" cy="54.6" r="1.5" fill="#0089fa"/><circle cx="271.4" cy="58.0" r="1.5" fill="#9430b6"/><circle cx="285.4" cy="56.8" r="1.5" fill="#e60080"/><circle cx="234.3" cy="54.6" r="1.5" fill="#008bfb"/><circle cx="254.7" cy="60.2" r="1.5" fill="#1c6deb"/><circle cx="323.1" cy="55.7" r="1.5" fill="#d20091"/><circle cx="301.1" cy="55.7" r="1.5" fill="#f90066"/><circle cx="334.2" cy="55.7" r="1.5" fill="#fa0065"/><circle cx="342.2" cy="55.7" r="1.5" fill="#e00086"/><circle cx="342.5" cy="56.8" r="1.5" fill="#f90067"/><circle cx="225.7" cy="55.7" r="1.5" fill="#0071ee"/><circle cx="235.9" cy="55.7" r="1.5" fill="#156eec"/><circle cx="242.7" cy="55.7" r="1.5" fill="#0070ed"/><circle cx="224.0" cy="55.7" r="1.5" fill="#007ff6"/><circle cx="239.7" cy="55.7" r="1.5" fill="#0072ef"/><circle cx="250.1" cy="52.3" r="1.5" fill="#0072ef"/><circle cx="284.1" cy="55.7" r="1.5" fill="#da008b"/><circle cx="240.1" cy="54.6" r="1.5" fill="#4d63e3"/><circle cx="351.8" cy="55.7" r="1.5" fill="#f7006b"/><circle cx="226.9" cy="56.8" r="1.5" fill="#007af4"/><circle cx="225.0" cy="58.0" r="1.5" fill="#008afb"/><circle cx="263.1" cy="55.7" r="1.5" fill="#6e53d5"/><circle cx="239.2" cy="59.1" r="1.5" fill="#be009e"/><circle cx="230.4" cy="55.7" r="1.5" fill="#0085f9"/><circle cx="257.9" cy="52.3" r="1.5" fill="#7d49cc"/><circle cx="253.5" cy="50.1" r="1.5" fill="#9135ba"/><circle cx="243.6" cy="58.0" r="1.5" fill="#605bdc"/><circle cx="336.2" cy="55.7" r="1.5" fill="#fa0064"/><circle cx="263.6" cy="56.8" r="1.5" fill="#7a4bce"/><circle cx="285.7" cy="55.7" r="1.5" fill="#f80069"/><circle cx="253.5" cy="53.4" r="1.5" fill="#008bfb"/><circle cx="266.3" cy="54.6" r="1.5" fill="#008bfb"/><circle cx="272.9" cy="54.6" r="1.5" fill="#b20ea4"/><circle cx="250.0" cy="53.4" r="1.5" fill="#605bdc"/><circle cx="269.6" cy="56.8" r="1.5" fill="#7350d2"/><circle cx="231.0" cy="56.8" r="1.5" fill="#0082f8"/><circle cx="256.4" cy="55.7" r="1.5" fill="#008bfb"/><circle cx="233.6" cy="52.3" r="1.5" fill="#0089fa"/><circle cx="249.2" cy="59.1" r="1.5" fill="#5c5ddd"/><circle cx="260.7" cy="79.2" r="1.5" fill="#0087fa"/><circle cx="252.7" cy="77.6" r="1.5" fill="#126eec"/><circle cx="235.1" cy="82.3" r="1.5" fill="#008bfb"/><circle cx="293.6" cy="77.6" r="1.5" fill="#f90067"/><circle cx="241.2" cy="79.2" r="1.5" fill="#008bfb"/><circle cx="290.8" cy="77.6" r="1.5" fill="#ff0051"/><circle cx="242.0" cy="80.8" r="1.5" fill="#0079f3"/><circle cx="276.9" cy="80.8" r="1.5" fill="#0074f0"/><circle cx="229.9" cy="76.0" r="1.5" fill="#0086f9"/><circle cx="281.2" cy="76.0" r="1.5" fill="#fb0063"/><circle cx="238.9" cy="79.2" r="1.5" fill="#008bfb"/><circle cx="266.2" cy="77.6" r="1.5" fill="#0076f1"/><circle cx="252.9" cy="79.2" r="1.5" fill="#0086f9"/><circle cx="237.3" cy="77.6" r="1.5" fill="#008bfb"/><circle cx="276.5" cy="79.2" r="1.5" fill="#9234b9"/><circle cx="228.5" cy="76.0" r="1.5" fill="#0075f1"/><circle cx="262.4" cy="77.6" r="1.5" fill="#8c3bbf"/><circle cx="219.8" cy="77.6" r="1.5" fill="#0082f8"/><circle cx="258.7" cy="82.3" r="1.5" fill="#286cea"/><circle cx="235.0" cy="79.2" r="1.5" fill="#007df6"/><circle cx="222.9" cy="77.6" r="1.5" fill="#0085f9"/><circle cx="268.0" cy="77.6" r="1.5" fill="#008afb"/><circle cx="234.2" cy="76.0" r="1.5" fill="#007af4"/><circle cx="271.1" cy="77.6" r="1.5" fill="#952fb5"/><circle cx="264.0" cy="77.6" r="1.5" fill="#008bfb"/><circle cx="249.6" cy="80.8" r="1.5" fill="#008bfb"/><circle cx="266.0" cy="74.4" r="1.5" fill="#e10085"/><circle cx="261.5" cy="76.0" r="1.5" fill="#4166e6"/><circle cx="267.3" cy="79.2" r="1.5" fill="#006fed"/><circle cx="283.2" cy="77.6" r="1.5" fill="#7e48cb"/><circle cx="258.8" cy="77.6" r="1.5" fill="#008afb"/><circle cx="230.9" cy="82.3" r="1.5" fill="#008afb"/><circle cx="243.2" cy="80.8" r="1.5" fill="#007ff7"/><circle cx="271.5" cy="76.0" r="1.5" fill="#bb00a0"/><circle cx="229.7" cy="77.6" r="1.5" fill="#0076f2"/><circle cx="275.4" cy="79.2" r="1.5" fill="#9a26af"/><circle cx="272.4" cy="79.2" r="1.5" fill="#c3009b"/><circle cx="250.3" cy="79.2" r="1.5" fill="#0079f3"/><circle cx="240.8" cy="76.0" r="1.5" fill="#0083f8"/><circle cx="334.0" cy="77.6" r="1.5" fill="#ff0057"/><circle cx="282.2" cy="79.2" r="1.5" fill="#c6009a"/><circle cx="279.4" cy="80.8" r="1.5" fill="#e9007c"/><circle cx="283.9" cy="77.6" r="1.5" fill="#df0087"/><circle cx="260.9" cy="76.0" r="1.5" fill="#6c55d6"/><circle cx="284.4" cy="77.6" r="1.5" fill="#7152d4"/><circle cx="231.0" cy="77.6" r="1.5" fill="#007af4"/><circle cx="285.5" cy="79.2" r="1.5" fill="#9e22ac"/><circle cx="246.4" cy="79.2" r="1.5" fill="#0075f1"/><circle cx="276.0" cy="80.8" r="1.5" fill="#8344c7"/><circle cx="265.2" cy="80.8" r="1.5" fill="#3469e8"/><circle cx="275.8" cy="82.3" r="1.5" fill="#e9007c"/><circle cx="284.7" cy="79.2" r="1.5" fill="#5a5ede"/><circle cx="228.5" cy="80.8" r="1.5" fill="#008bfb"/><circle cx="277.2" cy="76.0" r="1.5" fill="#bb00a0"/><circle cx="329.4" cy="79.2" r="1.5" fill="#ff0058"/><circle cx="252.0" cy="77.6" r="1.5" fill="#0074f0"/><circle cx="231.8" cy="72.9" r="1.5" fill="#4765e4"/><circle cx="250.8" cy="76.0" r="1.5" fill="#008bfb"/><circle cx="238.5" cy="77.6" r="1.5" fill="#0077f2"/><circle cx="239.5" cy="80.8" r="1.5" fill="#7053d4"/><circle cx="254.9" cy="77.6" r="1.5" fill="#007ef6"/><circle cx="269.8" cy="77.6" r="1.5" fill="#7251d3"/><circle cx="250.7" cy="77.6" r="1.5" fill="#4864e4"/><circle cx="232.8" cy="80.8" r="1.5" fill="#8146c9"/><circle cx="222.2" cy="77.6" r="1.5" fill="#0084f9"/><circle cx="247.0" cy="77.6" r="1.5" fill="#0088fa"/><circle cx="242.2" cy="76.0" r="1.5" fill="#5161e1"/><circle cx="290.6" cy="79.2" r="1.5" fill="#da008b"/><circle cx="273.6" cy="77.6" r="1.5" fill="#e10085"/><circle cx="240.6" cy="77.6" r="1.5" fill="#008bfb"/><circle cx="255.0" cy="79.2" r="1.5" fill="#0072ee"/><circle cx="254.5" cy="77.6" r="1.5" fill="#7b4bcd"/><circle cx="261.4" cy="77.6" r="1.5" fill="#0072ef"/><circle cx="241.7" cy="76.0" r="1.5" fill="#008bfb"/><circle cx="256.6" cy="79.2" r="1.5" fill="#0086f9"/><circle cx="251.7" cy="80.8" r="1.5" fill="#008bfb"/><circle cx="245.0" cy="79.2" r="1.5" fill="#008bfb"/><circle cx="229.1" cy="79.2" r="1.5" fill="#0088fa"/><circle cx="257.4" cy="77.6" r="1.5" fill="#0085f9"/><circle cx="275.2" cy="79.2" r="1.5" fill="#0075f1"/><circle cx="249.6" cy="79.2" r="1.5" fill="#0086f9"/><circle cx="247.9" cy="76.0" r="1.5" fill="#007df6"/><circle cx="241.2" cy="72.9" r="1.5" fill="#0077f2"/><circle cx="329.3" cy="77.6" r="1.5" fill="#fa0065"/><circle cx="248.8" cy="77.6" r="1.5" fill="#0072ef"/><circle cx="248.7" cy="79.2" r="1.5" fill="#0073f0"/><circle cx="272.7" cy="74.4" r="1.5" fill="#9e22ac"/><circle cx="264.1" cy="79.2" r="1.5" fill="#4c63e3"/><circle cx="269.3" cy="76.0" r="1.5" fill="#c3009b"/><circle cx="262.1" cy="80.8" r="1.5" fill="#4964e4"/><circle cx="256.8" cy="80.8" r="1.5" fill="#0077f2"/><circle cx="243.7" cy="80.8" r="1.5" fill="#5a5ede"/><circle cx="231.5" cy="74.4" r="1.5" fill="#0076f1"/><circle cx="220.9" cy="77.6" r="1.5" fill="#007ff7"/><circle cx="244.4" cy="77.6" r="1.5" fill="#008bfb"/><circle cx="234.3" cy="72.9" r="1.5" fill="#007df5"/><circle cx="243.3" cy="74.4" r="1.5" fill="#008bfb"/><circle cx="251.2" cy="80.8" r="1.5" fill="#0072ef"/><circle cx="268.4" cy="79.2" r="1.5" fill="#ae14a6"/><circle cx="240.9" cy="79.2" r="1.5" fill="#0075f1"/><circle cx="234.5" cy="80.8" r="1.5" fill="#007ff6"/><circle cx="273.8" cy="82.3" r="1.5" fill="#9c23ad"/><circle cx="252.9" cy="76.0" r="1.5" fill="#7450d2"/><circle cx="279.0" cy="76.0" r="1.5" fill="#f90067"/><circle cx="293.4" cy="77.6" r="1.5" fill="#f80069"/><circle cx="243.3" cy="79.2" r="1.5" fill="#008bfb"/><circle cx="230.8" cy="71.3" r="1.5" fill="#3869e8"/><circle cx="264.0" cy="74.4" r="1.5" fill="#9234b9"/><circle cx="261.4" cy="80.8" r="1.5" fill="#b10fa5"/><circle cx="265.7" cy="77.6" r="1.5" fill="#0076f2"/><circle cx="236.2" cy="76.0" r="1.5" fill="#0080f7"/><circle cx="273.3" cy="80.8" r="1.5" fill="#b40aa3"/><circle cx="234.6" cy="77.6" r="1.5" fill="#0076f2"/><circle cx="243.2" cy="77.6" r="1.5" fill="#0085f9"/><circle cx="271.5" cy="79.2" r="1.5" fill="#e20084"/><circle cx="229.9" cy="80.8" r="1.5" fill="#008bfb"/><circle cx="265.1" cy="79.2" r="1.5" fill="#008bfb"/><circle cx="264.9" cy="82.3" r="1.5" fill="#8146c9"/><circle cx="274.5" cy="77.6" r="1.5" fill="#7152d4"/><circle cx="258.5" cy="76.0" r="1.5" fill="#326ae9"/><circle cx="273.6" cy="79.2" r="1.5" fill="#9929b1"/><circle cx="235.8" cy="77.6" r="1.5" fill="#007ef6"/><circle cx="317.7" cy="77.6" r="1.5" fill="#fb0063"/><circle cx="278.6" cy="77.6" r="1.5" fill="#ff0051"/><circle cx="268.9" cy="74.4" r="1.5" fill="#0083f8"/><circle cx="278.0" cy="80.8" r="1.5" fill="#cc0096"/><circle cx="276.7" cy="82.3" r="1.5" fill="#3869e8"/><circle cx="285.1" cy="76.0" r="1.5" fill="#9431b6"/><circle cx="261.7" cy="79.2" r="1.5" fill="#4e62e2"/><circle cx="251.9" cy="76.0" r="1.5" fill="#0087fa"/><circle cx="233.8" cy="77.6" r="1.5" fill="#0084f9"/><circle cx="253.5" cy="80.8" r="1.5" fill="#0079f3"/><circle cx="246.5" cy="76.0" r="1.5" fill="#007ef6"/><circle cx="236.0" cy="79.2" r="1.5" fill="#008bfb"/><circle cx="249.4" cy="76.0" r="1.5" fill="#046fed"/><circle cx="270.4" cy="76.0" r="1.5" fill="#8245c8"/><circle cx="286.2" cy="77.6" r="1.5" fill="#f4006f"/><circle cx="247.1" cy="80.8" r="1.5" fill="#0087fa"/><circle cx="287.4" cy="77.6" r="1.5" fill="#b509a3"/><circle cx="276.5" cy="72.9" r="1.5" fill="#e9007d"/><circle cx="251.6" cy="82.3" r="1.5" fill="#0083f8"/><circle cx="275.5" cy="77.6" r="1.5" fill="#a31eaa"/><circle cx="301.1" cy="77.6" r="1.5" fill="#db008a"/><circle cx="294.6" cy="77.6" r="1.5" fill="#d8008d"/><circle cx="320.8" cy="77.6" r="1.5" fill="#f90067"/><circle cx="227.8" cy="77.6" r="1.5" fill="#0081f8"/><circle cx="272.9" cy="76.0" r="1.5" fill="#982bb2"/><circle cx="237.9" cy="79.2" r="1.5" fill="#007bf5"/><circle cx="330.6" cy="77.6" r="1.5" fill="#ff005b"/><circle cx="264.3" cy="76.0" r="1.5" fill="#7c4acc"/><circle cx="273.5" cy="76.0" r="1.5" fill="#bb00a0"/><circle cx="258.2" cy="72.9" r="1.5" fill="#008bfb"/><circle cx="258.7" cy="74.4" r="1.5" fill="#008bfb"/><circle cx="236.9" cy="79.2" r="1.5" fill="#007ff7"/><circle cx="277.8" cy="79.2" r="1.5" fill="#b40ca4"/><circle cx="258.6" cy="83.9" r="1.5" fill="#007bf5"/><circle cx="244.9" cy="77.6" r="1.5" fill="#006fed"/><circle cx="257.1" cy="76.0" r="1.5" fill="#0074f0"/><circle cx="241.4" cy="82.3" r="1.5" fill="#008bfb"/><circle cx="253.8" cy="79.2" r="1.5" fill="#0077f2"/><circle cx="297.0" cy="77.6" r="1.5" fill="#c80098"/><circle cx="239.6" cy="77.6" r="1.5" fill="#007af4"/><circle cx="244.0" cy="76.0" r="1.5" fill="#0076f1"/><circle cx="241.0" cy="74.4" r="1.5" fill="#008bfb"/><circle cx="249.3" cy="77.6" r="1.5" fill="#0073ef"/><circle cx="239.2" cy="74.4" r="1.5" fill="#007cf5"/><circle cx="278.4" cy="74.4" r="1.5" fill="#e7007f"/><circle cx="271.9" cy="80.8" r="1.5" fill="#286cea"/><circle cx="319.6" cy="77.6" r="1.5" fill="#f30070"/><circle cx="247.1" cy="79.2" r="1.5" fill="#0077f2"/><circle cx="231.3" cy="83.9" r="1.5" fill="#3a68e7"/><circle cx="264.1" cy="80.8" r="1.5" fill="#4366e5"/><circle cx="304.0" cy="77.6" r="1.5" fill="#d20092"/><circle cx="331.8" cy="79.2" r="1.5" fill="#f6006b"/><circle cx="282.1" cy="76.0" r="1.5" fill="#f6006b"/><circle cx="223.6" cy="79.2" r="1.5" fill="#0077f2"/><circle cx="256.7" cy="76.0" r="1.5" fill="#008afb"/><circle cx="269.5" cy="80.8" r="1.5" fill="#774ed0"/><circle cx="226.1" cy="77.6" r="1.5" fill="#007df5"/><circle cx="237.5" cy="74.4" r="1.5" fill="#007cf5"/><circle cx="251.6" cy="79.2" r="1.5" fill="#0088fa"/><circle cx="233.1" cy="79.2" r="1.5" fill="#007df6"/><circle cx="232.4" cy="79.2" r="1.5" fill="#007af4"/><circle cx="231.9" cy="77.6" r="1.5" fill="#166eec"/><circle cx="269.3" cy="77.6" r="1.5" fill="#008bfb"/><circle cx="283.9" cy="76.0" r="1.5" fill="#0074f0"/><circle cx="231.8" cy="76.0" r="1.5" fill="#0087fa"/><circle cx="245.0" cy="76.0" r="1.5" fill="#008afb"/><circle cx="231.5" cy="79.2" r="1.5" fill="#008bfb"/><circle cx="247.5" cy="76.0" r="1.5" fill="#0084f9"/><circle cx="323.9" cy="77.6" r="1.5" fill="#dc0089"/><circle cx="227.2" cy="77.6" r="1.5" fill="#0082f8"/><circle cx="231.7" cy="80.8" r="1.5" fill="#0076f2"/><circle cx="258.8" cy="79.2" r="1.5" fill="#0084f9"/><circle cx="257.1" cy="79.2" r="1.5" fill="#306ae9"/><circle cx="301.1" cy="79.2" r="1.5" fill="#e40082"/><circle cx="260.7" cy="74.4" r="1.5" fill="#4d63e3"/><circle cx="221.1" cy="79.2" r="1.5" fill="#0087fa"/><circle cx="331.6" cy="77.6" r="1.5" fill="#f7006a"/><circle cx="248.1" cy="80.8" r="1.5" fill="#007cf5"/><circle cx="286.3" cy="76.0" r="1.5" fill="#a31eab"/><circle cx="222.4" cy="79.2" r="1.5" fill="#0077f2"/><circle cx="273.5" cy="74.4" r="1.5" fill="#a61ca9"/><circle cx="275.4" cy="76.0" r="1.5" fill="#4e62e2"/><circle cx="228.2" cy="79.2" r="1.5" fill="#3d67e7"/><circle cx="277.5" cy="76.0" r="1.5" fill="#da008b"/><circle cx="241.8" cy="77.6" r="1.5" fill="#007ef6"/><circle cx="279.6" cy="79.2" r="1.5" fill="#f10072"/><circle cx="276.4" cy="77.6" r="1.5" fill="#9b25ae"/><circle cx="268.3" cy="76.0" r="1.5" fill="#e40081"/><circle cx="285.3" cy="80.8" r="1.5" fill="#6658d9"/><circle cx="237.7" cy="76.0" r="1.5" fill="#4c63e3"/><circle cx="230.3" cy="79.2" r="1.5" fill="#0086fa"/><circle cx="284.6" cy="74.4" r="1.5" fill="#a51daa"/><circle cx="265.1" cy="76.0" r="1.5" fill="#6d54d6"/><circle cx="239.2" cy="76.0" r="1.5" fill="#0073ef"/><circle cx="272.3" cy="77.6" r="1.5" fill="#7053d4"/><circle cx="232.0" cy="76.0" r="1.5" fill="#0082f8"/><circle cx="258.4" cy="80.8" r="1.5" fill="#0070ed"/><circle cx="263.5" cy="77.6" r="1.5" fill="#3a68e7"/><circle cx="262.9" cy="76.0" r="1.5" fill="#008bfb"/><circle cx="256.8" cy="77.6" r="1.5" fill="#008bfb"/><circle cx="244.8" cy="80.8" r="1.5" fill="#0083f8"/><circle cx="245.6" cy="77.6" r="1.5" fill="#0089fa"/><circle cx="252.0" cy="74.4" r="1.5" fill="#007ff6"/><circle cx="279.6" cy="77.6" r="1.5" fill="#8047c9"/><circle cx="237.4" cy="76.0" r="1.5" fill="#0089fa"/><circle cx="259.9" cy="77.6" r="1.5" fill="#0080f7"/><circle cx="275.5" cy="74.4" r="1.5" fill="#9a25ae"/><circle cx="281.1" cy="79.2" r="1.5" fill="#ff0051"/><circle cx="237.3" cy="80.8" r="1.5" fill="#0073f0"/><circle cx="283.2" cy="79.2" r="1.5" fill="#fc0062"/><circle cx="234.7" cy="74.4" r="1.5" fill="#6658d9"/><circle cx="276.8" cy="74.4" r="1.5" fill="#5e5cdd"/><circle cx="270.2" cy="79.2" r="1.5" fill="#cf0093"/><circle cx="229.3" cy="77.6" r="1.5" fill="#4c63e3"/><circle cx="282.0" cy="77.6" r="1.5" fill="#e60080"/><circle cx="263.1" cy="79.2" r="1.5" fill="#8e39bd"/><circle cx="261.6" cy="74.4" r="1.5" fill="#b803a1"/><circle cx="242.9" cy="79.2" r="1.5" fill="#0080f7"/><circle cx="266.3" cy="99.5" r="1.5" fill="#f30071"/><circle cx="301.5" cy="98.2" r="1.5" fill="#625adb"/><circle cx="225.8" cy="100.8" r="1.5" fill="#4764e4"/><circle cx="280.5" cy="99.5" r="1.5" fill="#0073ef"/><circle cx="247.5" cy="99.5" r="1.5" fill="#4465e5"/><circle cx="267.7" cy="95.6" r="1.5" fill="#008bfb"/><circle cx="299.6" cy="100.8" r="1.5" fill="#007ef6"/><circle cx="273.2" cy="104.8" r="1.5" fill="#2e6be9"/><circle cx="259.7" cy="100.8" r="1.5" fill="#8c3bbf"/><circle cx="281.4" cy="99.5" r="1.5" fill="#8047ca"/><circle cx="262.2" cy="100.8" r="1.5" fill="#7152d3"/><circle cx="262.6" cy="98.2" r="1.5" fill="#5061e2"/><circle cx="273.1" cy="102.1" r="1.5" fill="#ca0097"/><circle cx="264.5" cy="96.9" r="1.5" fill="#9233b8"/><circle cx="276.1" cy="102.1" r="1.5" fill="#007cf5"/><circle cx="270.0" cy="96.9" r="1.5" fill="#8f37bc"/><circle cx="261.4" cy="99.5" r="1.5" fill="#7d49cc"/><circle cx="273.8" cy="99.5" r="1.5" fill="#0081f7"/><circle cx="245.4" cy="100.8" r="1.5" fill="#008bfb"/><circle cx="244.9" cy="99.5" r="1.5" fill="#0084f9"/><circle cx="264.9" cy="102.1" r="1.5" fill="#0080f7"/><circle cx="274.9" cy="99.5" r="1.5" fill="#c80099"/><circle cx="222.1" cy="99.5" r="1.5" fill="#007bf4"/><circle cx="272.9" cy="103.4" r="1.5" fill="#c90098"/><circle cx="234.6" cy="100.8" r="1.5" fill="#0073f0"/><circle cx="301.7" cy="100.8" r="1.5" fill="#5a5dde"/><circle cx="270.8" cy="98.2" r="1.5" fill="#0086fa"/><circle cx="218.7" cy="99.5" r="1.5" fill="#0075f1"/><circle cx="256.2" cy="99.5" r="1.5" fill="#6f53d5"/><circle cx="208.6" cy="99.5" r="1.5" fill="#0083f8"/><circle cx="274.6" cy="100.8" r="1.5" fill="#0087fa"/><circle cx="208.0" cy="100.8" r="1.5" fill="#007ff7"/><circle cx="274.3" cy="103.4" r="1.5" fill="#db008a"/><circle cx="254.5" cy="99.5" r="1.5" fill="#9b24ad"/><circle cx="280.6" cy="103.4" r="1.5" fill="#0079f4"/><circle cx="275.7" cy="98.2" r="1.5" fill="#ae14a6"/><circle cx="269.6" cy="99.5" r="1.5" fill="#eb007a"/><circle cx="299.9" cy="98.2" r="1.5" fill="#bd009f"/><circle cx="223.8" cy="99.5" r="1.5" fill="#007cf5"/><circle cx="218.8" cy="100.8" r="1.5" fill="#0075f1"/><circle cx="250.9" cy="99.5" r="1.5" fill="#ab16a7"/><circle cx="249.6" cy="100.8" r="1.5" fill="#b508a3"/><circle cx="300.0" cy="102.1" r="1.5" fill="#9c23ad"/><circle cx="287.3" cy="99.5" r="1.5" fill="#f90067"/><circle cx="251.4" cy="99.5" r="1.5" fill="#007ff7"/><circle cx="279.5" cy="100.8" r="1.5" fill="#8047ca"/><circle cx="246.2" cy="99.5" r="1.5" fill="#0081f7"/><circle cx="255.7" cy="102.1" r="1.5" fill="#9037bb"/><circle cx="279.9" cy="98.2" r="1.5" fill="#7a4cce"/><circle cx="272.1" cy="106.1" r="1.5" fill="#0070ed"/><circle cx="229.1" cy="100.8" r="1.5" fill="#754fd1"/><circle cx="271.3" cy="96.9" r="1.5" fill="#de0088"/><circle cx="280.3" cy="102.1" r="1.5" fill="#0075f1"/><circle cx="242.6" cy="102.1" r="1.5" fill="#4665e4"/><circle cx="288.4" cy="99.5" r="1.5" fill="#ea007c"/><circle cx="217.3" cy="99.5" r="1.5" fill="#216deb"/><circle cx="286.2" cy="99.5" r="1.5" fill="#ba00a0"/><circle cx="236.9" cy="99.5" r="1.5" fill="#8245c8"/><circle cx="291.7" cy="99.5" r="1.5" fill="#f6006c"/><circle cx="255.0" cy="100.8" r="1.5" fill="#0077f2"/><circle cx="271.9" cy="99.5" r="1.5" fill="#e9007d"/><circle cx="231.2" cy="99.5" r="1.5" fill="#007df5"/><circle cx="269.7" cy="102.1" r="1.5" fill="#008bfb"/><circle cx="301.5" cy="94.2" r="1.5" fill="#5f5bdc"/><circle cx="286.1" cy="102.1" r="1.5" fill="#8d3abe"/><circle cx="296.3" cy="98.2" r="1.5" fill="#b40ba3"/><circle cx="273.4" cy="106.1" r="1.5" fill="#e7007e"/><circle cx="271.5" cy="100.8" r="1.5" fill="#e00086"/><circle cx="277.4" cy="98.2" r="1.5" fill="#ff0051"/><circle cx="263.8" cy="106.1" r="1.5" fill="#f30070"/><circle cx="227.9" cy="100.8" r="1.5" fill="#0079f3"/><circle cx="271.4" cy="102.1" r="1.5" fill="#982ab2"/><circle cx="250.6" cy="100.8" r="1.5" fill="#246cea"/><circle cx="275.5" cy="100.8" r="1.5" fill="#6f53d5"/><circle cx="237.1" cy="98.2" r="1.5" fill="#007ff7"/><circle cx="292.7" cy="100.8" r="1.5" fill="#e8007e"/><circle cx="229.9" cy="99.5" r="1.5" fill="#008bfb"/><circle cx="262.9" cy="100.8" r="1.5" fill="#5161e2"/><circle cx="242.2" cy="99.5" r="1.5" fill="#008bfb"/><circle cx="272.1" cy="95.6" r="1.5" fill="#585edf"/><circle cx="267.5" cy="100.8" r="1.5" fill="#8245c8"/><circle cx="278.2" cy="98.2" r="1.5" fill="#f80068"/><circle cx="239.5" cy="100.8" r="1.5" fill="#4166e6"/><circle cx="301.7" cy="92.9" r="1.5" fill="#2b6bea"/><circle cx="275.3" cy="98.2" r="1.5" fill="#9036bb"/><circle cx="272.9" cy="92.9" r="1.5" fill="#6459da"/><circle cx="300.8" cy="103.4" r="1.5" fill="#d6008f"/><circle cx="265.2" cy="98.2" r="1.5" fill="#007af4"/><circle cx="255.4" cy="96.9" r="1.5" fill="#5261e1"/><circle cx="255.0" cy="98.2" r="1.5" fill="#8c3bbf"/><circle cx="264.4" cy="98.2" r="1.5" fill="#8444c7"/><circle cx="265.3" cy="100.8" r="1.5" fill="#a51daa"/><circle cx="217.8" cy="99.5" r="1.5" fill="#575fdf"/><circle cx="273.8" cy="98.2" r="1.5" fill="#008bfb"/><circle cx="232.5" cy="100.8" r="1.5" fill="#166eec"/><circle cx="253.1" cy="100.8" r="1.5" fill="#af13a6"/><circle cx="254.8" cy="95.6" r="1.5" fill="#b509a3"/><circle cx="272.4" cy="104.8" r="1.5" fill="#ab16a7"/><circle cx="274.5" cy="96.9" r="1.5" fill="#5560e0"/><circle cx="225.7" cy="102.1" r="1.5" fill="#0073ef"/><circle cx="228.5" cy="99.5" r="1.5" fill="#3b68e7"/><circle cx="287.1" cy="100.8" r="1.5" fill="#ae13a6"/><circle cx="295.7" cy="99.5" r="1.5" fill="#ae13a6"/><circle cx="264.1" cy="99.5" r="1.5" fill="#008bfb"/><circle cx="304.4" cy="99.5" r="1.5" fill="#4e62e2"/><circle cx="237.3" cy="98.2" r="1.5" fill="#008bfb"/><circle cx="236.8" cy="100.8" r="1.5" fill="#625adb"/><circle cx="264.5" cy="103.4" r="1.5" fill="#b30da4"/><circle cx="300.8" cy="99.5" r="1.5" fill="#a919a8"/><circle cx="263.2" cy="98.2" r="1.5" fill="#4964e4"/><circle cx="267.1" cy="100.8" r="1.5" fill="#e40082"/><circle cx="296.2" cy="100.8" r="1.5" fill="#ff0055"/><circle cx="270.1" cy="98.2" r="1.5" fill="#9b25ae"/><circle cx="276.1" cy="96.9" r="1.5" fill="#ae14a6"/><circle cx="235.0" cy="100.8" r="1.5" fill="#007bf4"/><circle cx="294.6" cy="100.8" r="1.5" fill="#5062e2"/><circle cx="301.2" cy="103.4" r="1.5" fill="#9c23ad"/><circle cx="285.5" cy="99.5" r="1.5" fill="#4b63e3"/><circle cx="238.7" cy="99.5" r="1.5" fill="#008bfb"/><circle cx="258.7" cy="100.8" r="1.5" fill="#008bfb"/><circle cx="278.4" cy="99.5" r="1.5" fill="#b509a3"/><circle cx="285.3" cy="100.8" r="1.5" fill="#4565e5"/><circle cx="247.9" cy="99.5" r="1.5" fill="#2b6bea"/><circle cx="237.8" cy="99.5" r="1.5" fill="#007af4"/><circle cx="239.8" cy="99.5" r="1.5" fill="#008bfb"/><circle cx="273.9" cy="102.1" r="1.5" fill="#0071ee"/><circle cx="275.6" cy="99.5" r="1.5" fill="#962eb4"/><circle cx="245.6" cy="98.2" r="1.5" fill="#008bfb"/><circle cx="301.7" cy="96.9" r="1.5" fill="#d40090"/><circle cx="279.7" cy="99.5" r="1.5" fill="#0083f8"/><circle cx="323.6" cy="99.5" r="1.5" fill="#f6006b"/><circle cx="275.8" cy="103.4" r="1.5" fill="#8d3abe"/><circle cx="294.6" cy="99.5" r="1.5" fill="#c90098"/><circle cx="277.6" cy="99.5" r="1.5" fill="#007ff6"/><circle cx="207.6" cy="99.5" r="1.5" fill="#0089fa"/><circle cx="272.4" cy="100.8" r="1.5" fill="#fa0064"/><circle cx="304.7" cy="100.8" r="1.5" fill="#9b25ae"/><circle cx="234.7" cy="98.2" r="1.5" fill="#0074f0"/><circle cx="264.3" cy="100.8" r="1.5" fill="#6459da"/><circle cx="239.4" cy="100.8" r="1.5" fill="#008bfb"/><circle cx="231.9" cy="99.5" r="1.5" fill="#0081f7"/><circle cx="301.8" cy="104.8" r="1.5" fill="#3469e8"/><circle cx="273.3" cy="94.2" r="1.5" fill="#3b68e7"/><circle cx="253.0" cy="99.5" r="1.5" fill="#794cce"/><circle cx="270.5" cy="103.4" r="1.5" fill="#e50080"/><circle cx="292.2" cy="98.2" r="1.5" fill="#8c3bbf"/><circle cx="233.7" cy="99.5" r="1.5" fill="#2b6bea"/><circle cx="255.1" cy="103.4" r="1.5" fill="#0085f9"/><circle cx="267.7" cy="99.5" r="1.5" fill="#0081f7"/><circle cx="299.7" cy="99.5" r="1.5" fill="#c0009d"/><circle cx="301.8" cy="99.5" r="1.5" fill="#db008b"/><circle cx="302.4" cy="99.5" r="1.5" fill="#008bfb"/><circle cx="262.5" cy="99.5" r="1.5" fill="#006fed"/><circle cx="252.9" cy="98.2" r="1.5" fill="#0071ee"/><circle cx="308.6" cy="99.5" r="1.5" fill="#5460e0"/><circle cx="309.8" cy="99.5" r="1.5" fill="#166eec"/><circle cx="284.7" cy="99.5" r="1.5" fill="#952fb5"/><circle cx="302.0" cy="95.6" r="1.5" fill="#7a4bce"/><circle cx="265.0" cy="95.6" r="1.5" fill="#eb007a"/><circle cx="272.7" cy="98.2" r="1.5" fill="#f90067"/><circle cx="265.9" cy="99.5" r="1.5" fill="#007bf4"/><circle cx="255.7" cy="99.5" r="1.5" fill="#972bb2"/><circle cx="227.0" cy="99.5" r="1.5" fill="#008afb"/><circle cx="241.8" cy="99.5" r="1.5" fill="#4b63e3"/><circle cx="316.0" cy="99.5" r="1.5" fill="#ff0058"/><circle cx="276.9" cy="100.8" r="1.5" fill="#5b5dde"/><circle cx="299.8" cy="96.9" r="1.5" fill="#f90067"/><circle cx="273.8" cy="100.8" r="1.5" fill="#6f53d5"/><circle cx="264.4" cy="94.2" r="1.5" fill="#fb0064"/><circle cx="238.0" cy="100.8" r="1.5" fill="#0082f8"/><circle cx="280.9" cy="95.6" r="1.5" fill="#3968e7"/><circle cx="270.5" cy="104.8" r="1.5" fill="#eb007b"/><circle cx="269.7" cy="95.6" r="1.5" fill="#7052d4"/><circle cx="249.6" cy="99.5" r="1.5" fill="#da008b"/><circle cx="263.7" cy="99.5" r="1.5" fill="#8c3bbf"/><circle cx="269.6" cy="98.2" r="1.5" fill="#ad15a6"/><circle cx="267.5" cy="104.8" r="1.5" fill="#8443c6"/><circle cx="268.2" cy="94.2" r="1.5" fill="#a919a8"/><circle cx="283.2" cy="100.8" r="1.5" fill="#cd0095"/><circle cx="222.1" cy="102.1" r="1.5" fill="#008bfb"/><circle cx="300.1" cy="100.8" r="1.5" fill="#9135ba"/><circle cx="265.5" cy="102.1" r="1.5" fill="#de0088"/><circle cx="269.8" cy="92.9" r="1.5" fill="#f20071"/><circle cx="278.2" cy="102.1" r="1.5" fill="#2b6bea"/><circle cx="305.5" cy="99.5" r="1.5" fill="#008bfb"/><circle cx="235.0" cy="99.5" r="1.5" fill="#0082f8"/><circle cx="224.4" cy="99.5" r="1.5" fill="#086fec"/><circle cx="315.2" cy="100.8" r="1.5" fill="#fe005c"/><circle cx="268.1" cy="96.9" r="1.5" fill="#e40082"/><circle cx="222.5" cy="100.8" r="1.5" fill="#2a6bea"/><circle cx="226.1" cy="98.2" r="1.5" fill="#0075f1"/><circle cx="289.8" cy="100.8" r="1.5" fill="#8443c6"/><circle cx="274.7" cy="102.1" r="1.5" fill="#7251d3"/><circle cx="242.2" cy="98.2" r="1.5" fill="#3868e8"/><circle cx="242.6" cy="100.8" r="1.5" fill="#7152d4"/><circle cx="297.4" cy="100.8" r="1.5" fill="#6658d9"/><circle cx="216.6" cy="100.8" r="1.5" fill="#3e67e6"/><circle cx="273.0" cy="99.5" r="1.5" fill="#c4009b"/><circle cx="250.8" cy="98.2" r="1.5" fill="#ac16a7"/><circle cx="266.1" cy="103.4" r="1.5" fill="#9928b0"/><circle cx="280.7" cy="98.2" r="1.5" fill="#9333b8"/><circle cx="272.4" cy="94.2" r="1.5" fill="#c5009a"/><circle cx="268.9" cy="99.5" r="1.5" fill="#8344c7"/><circle cx="272.6" cy="96.9" r="1.5" fill="#e6007f"/><circle cx="273.5" cy="96.9" r="1.5" fill="#008bfb"/><circle cx="301.1" cy="102.1" r="1.5" fill="#bd009f"/><circle cx="280.5" cy="100.8" r="1.5" fill="#625adb"/><circle cx="228.6" cy="100.8" r="1.5" fill="#4565e5"/><circle cx="268.4" cy="102.1" r="1.5" fill="#008bfb"/><circle cx="301.2" cy="106.1" r="1.5" fill="#5b5dde"/><circle cx="296.6" cy="99.5" r="1.5" fill="#dd0088"/><circle cx="258.3" cy="99.5" r="1.5" fill="#6359da"/><circle cx="268.3" cy="103.4" r="1.5" fill="#0078f3"/><circle cx="269.3" cy="100.8" r="1.5" fill="#5f5cdc"/><circle cx="263.2" cy="102.1" r="1.5" fill="#a120ab"/><circle cx="289.6" cy="99.5" r="1.5" fill="#d20091"/><circle cx="280.9" cy="96.9" r="1.5" fill="#8741c4"/><circle cx="270.1" cy="100.8" r="1.5" fill="#0079f3"/><circle cx="226.1" cy="99.5" r="1.5" fill="#008bfb"/><circle cx="286.7" cy="98.2" r="1.5" fill="#5161e2"/><circle cx="265.2" cy="96.9" r="1.5" fill="#008bfb"/><circle cx="270.2" cy="94.2" r="1.5" fill="#0074f0"/><circle cx="274.2" cy="95.6" r="1.5" fill="#e20084"/><circle cx="277.9" cy="100.8" r="1.5" fill="#9c23ad"/><circle cx="283.5" cy="99.5" r="1.5" fill="#9234b9"/><circle cx="233.7" cy="99.5" r="1.5" fill="#008bfb"/><circle cx="243.5" cy="99.5" r="1.5" fill="#008bfb"/><circle cx="269.7" cy="106.1" r="1.5" fill="#b30ca4"/><circle cx="267.6" cy="106.1" r="1.5" fill="#008bfb"/><circle cx="278.1" cy="96.9" r="1.5" fill="#972db3"/><circle cx="222.3" cy="98.2" r="1.5" fill="#0072ef"/><circle cx="264.1" cy="104.8" r="1.5" fill="#8344c7"/><circle cx="268.0" cy="98.2" r="1.5" fill="#aa18a8"/><circle cx="271.9" cy="103.4" r="1.5" fill="#008bfb"/><circle cx="286.5" cy="100.8" r="1.5" fill="#5460e0"/><circle cx="293.5" cy="99.5" r="1.5" fill="#3b68e7"/><circle cx="229.5" cy="98.2" r="1.5" fill="#008bfb"/><circle cx="262.7" cy="96.9" r="1.5" fill="#575fe0"/><circle cx="280.7" cy="104.8" r="1.5" fill="#176eec"/><circle cx="259.8" cy="99.5" r="1.5" fill="#f90067"/><circle cx="234.4" cy="123.7" r="1.5" fill="#c5009a"/><circle cx="291.9" cy="121.4" r="1.5" fill="#0075f1"/><circle cx="294.8" cy="121.4" r="1.5" fill="#7b4bcd"/><circle cx="283.5" cy="122.5" r="1.5" fill="#0d6fec"/><circle cx="238.5" cy="121.4" r="1.5" fill="#f90067"/><circle cx="303.4" cy="122.5" r="1.5" fill="#007bf5"/><circle cx="267.6" cy="119.1" r="1.5" fill="#565fe0"/><circle cx="306.2" cy="122.5" r="1.5" fill="#0085f9"/><circle cx="265.0" cy="119.1" r="1.5" fill="#6f53d5"/><circle cx="243.8" cy="124.8" r="1.5" fill="#e9007d"/><circle cx="291.9" cy="123.7" r="1.5" fill="#008bfb"/><circle cx="269.8" cy="123.7" r="1.5" fill="#4d63e3"/><circle cx="288.8" cy="121.4" r="1.5" fill="#0078f3"/><circle cx="291.9" cy="118.0" r="1.5" fill="#0077f2"/><circle cx="240.7" cy="120.3" r="1.5" fill="#ff0056"/><circle cx="258.7" cy="120.3" r="1.5" fill="#9233b8"/><circle cx="248.3" cy="120.3" r="1.5" fill="#e7007f"/><circle cx="304.3" cy="120.3" r="1.5" fill="#3968e7"/><circle cx="267.3" cy="123.7" r="1.5" fill="#6a56d7"/><circle cx="234.3" cy="120.3" r="1.5" fill="#d10092"/><circle cx="255.6" cy="121.4" r="1.5" fill="#a81aa9"/><circle cx="259.4" cy="123.7" r="1.5" fill="#ec0079"/><circle cx="297.6" cy="120.3" r="1.5" fill="#0088fa"/><circle cx="231.1" cy="121.4" r="1.5" fill="#ff0051"/><circle cx="248.9" cy="122.5" r="1.5" fill="#e60080"/><circle cx="308.6" cy="121.4" r="1.5" fill="#008bfb"/><circle cx="233.5" cy="119.1" r="1.5" fill="#e00086"/><circle cx="265.5" cy="123.7" r="1.5" fill="#cd0095"/><circle cx="248.8" cy="121.4" r="1.5" fill="#ff0051"/><circle cx="291.0" cy="119.1" r="1.5" fill="#0075f1"/><circle cx="257.1" cy="120.3" r="1.5" fill="#8d3abe"/><circle cx="288.2" cy="121.4" r="1.5" fill="#226deb"/><circle cx="252.3" cy="124.8" r="1.5" fill="#c1009d"/><circle cx="266.0" cy="120.3" r="1.5" fill="#f30071"/><circle cx="300.9" cy="122.5" r="1.5" fill="#aa18a8"/><circle cx="239.0" cy="120.3" r="1.5" fill="#c70099"/><circle cx="235.2" cy="120.3" r="1.5" fill="#c3009c"/><circle cx="280.2" cy="121.4" r="1.5" fill="#6d54d6"/><circle cx="230.8" cy="122.5" r="1.5" fill="#ee0077"/><circle cx="265.7" cy="127.0" r="1.5" fill="#c60099"/><circle cx="298.4" cy="121.4" r="1.5" fill="#0076f1"/><circle cx="251.2" cy="121.4" r="1.5" fill="#d9008c"/><circle cx="229.2" cy="121.4" r="1.5" fill="#ff0051"/><circle cx="267.2" cy="118.0" r="1.5" fill="#952fb5"/><circle cx="261.0" cy="120.3" r="1.5" fill="#ac16a7"/><circle cx="258.6" cy="122.5" r="1.5" fill="#7350d2"/><circle cx="245.3" cy="122.5" r="1.5" fill="#f5006d"/><circle cx="230.1" cy="121.4" r="1.5" fill="#db008a"/><circle cx="264.8" cy="120.3" r="1.5" fill="#e7007e"/><circle cx="239.5" cy="122.5" r="1.5" fill="#d7008d"/><circle cx="250.2" cy="120.3" r="1.5" fill="#ad15a6"/><circle cx="295.7" cy="120.3" r="1.5" fill="#2a6bea"/><circle cx="305.6" cy="121.4" r="1.5" fill="#008bfb"/><circle cx="277.7" cy="122.5" r="1.5" fill="#5261e1"/><circle cx="233.6" cy="121.4" r="1.5" fill="#ff0051"/><circle cx="250.0" cy="123.7" r="1.5" fill="#f20071"/><circle cx="267.7" cy="124.8" r="1.5" fill="#008bfb"/><circle cx="278.5" cy="121.4" r="1.5" fill="#086fec"/><circle cx="236.4" cy="123.7" r="1.5" fill="#ff005b"/><circle cx="240.4" cy="122.5" r="1.5" fill="#ff0053"/><circle cx="251.5" cy="122.5" r="1.5" fill="#cb0096"/><circle cx="273.4" cy="121.4" r="1.5" fill="#008bfb"/><circle cx="266.4" cy="122.5" r="1.5" fill="#8641c4"/><circle cx="235.8" cy="123.7" r="1.5" fill="#ff0051"/><circle cx="292.3" cy="120.3" r="1.5" fill="#008bfb"/><circle cx="279.6" cy="121.4" r="1.5" fill="#6f53d4"/><circle cx="251.6" cy="119.1" r="1.5" fill="#e8007d"/><circle cx="286.2" cy="122.5" r="1.5" fill="#1a6deb"/><circle cx="262.8" cy="122.5" r="1.5" fill="#962db4"/><circle cx="249.5" cy="122.5" r="1.5" fill="#ff0055"/><circle cx="275.8" cy="121.4" r="1.5" fill="#008afb"/><circle cx="240.5" cy="123.7" r="1.5" fill="#c0009d"/><circle cx="233.5" cy="123.7" r="1.5" fill="#ef0075"/><circle cx="270.4" cy="120.3" r="1.5" fill="#6658d9"/><circle cx="294.2" cy="121.4" r="1.5" fill="#008bfb"/><circle cx="258.2" cy="120.3" r="1.5" fill="#ff0051"/><circle cx="255.0" cy="122.5" r="1.5" fill="#9928b0"/><circle cx="239.2" cy="121.4" r="1.5" fill="#ce0094"/><circle cx="253.3" cy="121.4" r="1.5" fill="#ed0078"/><circle cx="304.4" cy="122.5" r="1.5" fill="#0083f8"/><circle cx="265.8" cy="128.2" r="1.5" fill="#eb007a"/><circle cx="233.8" cy="120.3" r="1.5" fill="#e7007e"/><circle cx="243.2" cy="121.4" r="1.5" fill="#a61ca9"/><circle cx="234.7" cy="119.1" r="1.5" fill="#ec0079"/><circle cx="291.9" cy="122.5" r="1.5" fill="#007bf5"/><circle cx="234.7" cy="122.5" r="1.5" fill="#c3009b"/><circle cx="291.4" cy="119.1" r="1.5" fill="#007df6"/><circle cx="289.0" cy="122.5" r="1.5" fill="#0071ee"/><circle cx="242.7" cy="120.3" r="1.5" fill="#e8007e"/><circle cx="268.6" cy="123.7" r="1.5" fill="#754fd1"/><circle cx="241.4" cy="122.5" r="1.5" fill="#ee0077"/><circle cx="276.8" cy="121.4" r="1.5" fill="#008bfb"/><circle cx="243.2" cy="123.7" r="1.5" fill="#6658d9"/><circle cx="291.8" cy="124.8" r="1.5" fill="#0071ee"/><circle cx="241.3" cy="121.4" r="1.5" fill="#ea007c"/><circle cx="273.8" cy="120.3" r="1.5" fill="#aa18a8"/><circle cx="222.4" cy="121.4" r="1.5" fill="#ff0051"/><circle cx="298.1" cy="122.5" r="1.5" fill="#008bfb"/><circle cx="270.3" cy="121.4" r="1.5" fill="#7450d2"/><circle cx="269.6" cy="122.5" r="1.5" fill="#ad15a7"/><circle cx="262.9" cy="120.3" r="1.5" fill="#9c23ad"/><circle cx="246.5" cy="121.4" r="1.5" fill="#e00086"/><circle cx="267.1" cy="121.4" r="1.5" fill="#de0088"/><circle cx="256.2" cy="122.5" r="1.5" fill="#625adb"/><circle cx="277.4" cy="121.4" r="1.5" fill="#3f67e6"/><circle cx="257.0" cy="122.5" r="1.5" fill="#0084f9"/><circle cx="265.8" cy="119.1" r="1.5" fill="#7d49cc"/><circle cx="260.5" cy="122.5" r="1.5" fill="#f6006b"/><circle cx="270.6" cy="122.5" r="1.5" fill="#4d62e3"/><circle cx="252.0" cy="120.3" r="1.5" fill="#df0087"/><circle cx="231.9" cy="120.3" r="1.5" fill="#f20072"/><circle cx="267.6" cy="125.9" r="1.5" fill="#fa0065"/><circle cx="284.2" cy="121.4" r="1.5" fill="#0072ef"/><circle cx="262.3" cy="122.5" r="1.5" fill="#c3009b"/><circle cx="231.6" cy="120.3" r="1.5" fill="#ee0077"/><circle cx="236.1" cy="120.3" r="1.5" fill="#ff0051"/><circle cx="266.6" cy="118.0" r="1.5" fill="#8a3ec1"/><circle cx="251.6" cy="118.0" r="1.5" fill="#ed0078"/><circle cx="248.2" cy="122.5" r="1.5" fill="#e50081"/><circle cx="276.9" cy="122.5" r="1.5" fill="#0089fa"/><circle cx="303.6" cy="120.3" r="1.5" fill="#8542c5"/><circle cx="260.6" cy="122.5" r="1.5" fill="#ff0051"/><circle cx="303.7" cy="123.7" r="1.5" fill="#007bf5"/><circle cx="232.2" cy="121.4" r="1.5" fill="#ca0097"/><circle cx="285.3" cy="120.3" r="1.5" fill="#754fd1"/><circle cx="257.7" cy="123.7" r="1.5" fill="#754fd1"/><circle cx="306.4" cy="121.4" r="1.5" fill="#0085f9"/><circle cx="268.9" cy="121.4" r="1.5" fill="#3f67e6"/><circle cx="277.1" cy="120.3" r="1.5" fill="#b011a5"/><circle cx="298.1" cy="123.7" r="1.5" fill="#625adb"/><circle cx="244.6" cy="121.4" r="1.5" fill="#e30082"/><circle cx="269.3" cy="120.3" r="1.5" fill="#d10092"/><circle cx="290.1" cy="121.4" r="1.5" fill="#0080f7"/><circle cx="268.5" cy="121.4" r="1.5" fill="#ff0051"/><circle cx="266.6" cy="124.8" r="1.5" fill="#8a3dc1"/><circle cx="297.0" cy="121.4" r="1.5" fill="#008bfb"/><circle cx="258.8" cy="119.1" r="1.5" fill="#8a3ec1"/><circle cx="266.4" cy="123.7" r="1.5" fill="#008bfb"/><circle cx="259.4" cy="121.4" r="1.5" fill="#6e54d5"/><circle cx="301.8" cy="121.4" r="1.5" fill="#585edf"/><circle cx="251.6" cy="123.7" r="1.5" fill="#d20091"/><circle cx="249.4" cy="118.0" r="1.5" fill="#d40090"/><circle cx="319.6" cy="121.4" r="1.5" fill="#5560e0"/><circle cx="287.4" cy="122.5" r="1.5" fill="#5560e0"/><circle cx="291.1" cy="120.3" r="1.5" fill="#007ef6"/><circle cx="267.6" cy="120.3" r="1.5" fill="#df0087"/><circle cx="295.0" cy="122.5" r="1.5" fill="#8344c7"/><circle cx="232.3" cy="122.5" r="1.5" fill="#cd0095"/><circle cx="301.3" cy="121.4" r="1.5" fill="#008bfb"/><circle cx="309.7" cy="121.4" r="1.5" fill="#7b4bcd"/><circle cx="273.8" cy="122.5" r="1.5" fill="#8641c4"/><circle cx="265.0" cy="121.4" r="1.5" fill="#9928b0"/><circle cx="248.0" cy="121.4" r="1.5" fill="#de0088"/><circle cx="254.6" cy="121.4" r="1.5" fill="#ec0079"/><circle cx="251.5" cy="121.4" r="1.5" fill="#ff0055"/><circle cx="307.7" cy="121.4" r="1.5" fill="#007af4"/><circle cx="291.2" cy="123.7" r="1.5" fill="#4466e5"/><circle cx="267.9" cy="122.5" r="1.5" fill="#7151d3"/><circle cx="295.8" cy="121.4" r="1.5" fill="#2e6be9"/><circle cx="242.6" cy="122.5" r="1.5" fill="#f5006d"/><circle cx="263.3" cy="123.7" r="1.5" fill="#ff0051"/><circle cx="260.7" cy="124.8" r="1.5" fill="#ff0051"/><circle cx="275.1" cy="120.3" r="1.5" fill="#3769e8"/><circle cx="260.1" cy="123.7" r="1.5" fill="#ff0051"/><circle cx="243.2" cy="120.3" r="1.5" fill="#ff0052"/><circle cx="267.4" cy="122.5" r="1.5" fill="#8e39bd"/><circle cx="260.8" cy="121.4" r="1.5" fill="#d20091"/><circle cx="284.3" cy="123.7" r="1.5" fill="#8542c5"/><circle cx="283.2" cy="120.3" r="1.5" fill="#3d67e7"/><circle cx="260.4" cy="121.4" r="1.5" fill="#be009e"/><circle cx="266.1" cy="121.4" r="1.5" fill="#0071ee"/><circle cx="250.2" cy="121.4" r="1.5" fill="#ef0076"/><circle cx="286.4" cy="121.4" r="1.5" fill="#008bfb"/><circle cx="258.2" cy="122.5" r="1.5" fill="#f10073"/><circle cx="303.9" cy="121.4" r="1.5" fill="#6359db"/><circle cx="282.8" cy="121.4" r="1.5" fill="#008bfb"/><circle cx="259.7" cy="120.3" r="1.5" fill="#f7006a"/><circle cx="255.5" cy="120.3" r="1.5" fill="#fd005f"/><circle cx="261.4" cy="119.1" r="1.5" fill="#f4006f"/><circle cx="266.6" cy="116.9" r="1.5" fill="#ec007a"/><circle cx="282.5" cy="120.3" r="1.5" fill="#3769e8"/><circle cx="244.3" cy="122.5" r="1.5" fill="#ba00a0"/><circle cx="290.4" cy="121.4" r="1.5" fill="#0074f0"/><circle cx="262.9" cy="121.4" r="1.5" fill="#fe005e"/><circle cx="235.4" cy="122.5" r="1.5" fill="#fc0061"/><circle cx="224.0" cy="121.4" r="1.5" fill="#ff0053"/><circle cx="242.8" cy="121.4" r="1.5" fill="#ec0079"/><circle cx="241.3" cy="120.3" r="1.5" fill="#d40090"/><circle cx="260.8" cy="123.7" r="1.5" fill="#9d22ac"/><circle cx="285.2" cy="122.5" r="1.5" fill="#8840c3"/><circle cx="307.1" cy="122.5" r="1.5" fill="#5460e0"/><circle cx="282.6" cy="122.5" r="1.5" fill="#007bf4"/><circle cx="237.4" cy="121.4" r="1.5" fill="#d7008e"/><circle cx="265.3" cy="122.5" r="1.5" fill="#c5009a"/><circle cx="291.0" cy="122.5" r="1.5" fill="#008bfb"/><circle cx="296.1" cy="122.5" r="1.5" fill="#7251d3"/><circle cx="236.6" cy="121.4" r="1.5" fill="#fe005d"/><circle cx="280.2" cy="122.5" r="1.5" fill="#5a5ede"/><circle cx="258.9" cy="118.0" r="1.5" fill="#952eb5"/><circle cx="244.1" cy="122.5" r="1.5" fill="#e00086"/><circle cx="250.7" cy="122.5" r="1.5" fill="#ff0051"/><circle cx="224.7" cy="121.4" r="1.5" fill="#fb0063"/><circle cx="298.0" cy="119.1" r="1.5" fill="#625adb"/><circle cx="256.7" cy="123.7" r="1.5" fill="#ce0095"/><circle cx="303.3" cy="121.4" r="1.5" fill="#0089fa"/><circle cx="221.6" cy="122.5" r="1.5" fill="#e9007d"/><circle cx="234.1" cy="121.4" r="1.5" fill="#ab17a7"/><circle cx="245.8" cy="121.4" r="1.5" fill="#bd009f"/><circle cx="240.3" cy="119.1" r="1.5" fill="#ff0059"/><circle cx="268.0" cy="120.3" r="1.5" fill="#ec0079"/><circle cx="279.8" cy="122.5" r="1.5" fill="#8345c8"/><circle cx="262.5" cy="121.4" r="1.5" fill="#b508a3"/><circle cx="244.6" cy="120.3" r="1.5" fill="#ff0059"/><circle cx="265.9" cy="115.8" r="1.5" fill="#ff0051"/><circle cx="243.7" cy="119.1" r="1.5" fill="#e40082"/><circle cx="309.8" cy="122.5" r="1.5" fill="#008bfb"/><circle cx="216.9" cy="121.4" r="1.5" fill="#f6006b"/><circle cx="245.2" cy="120.3" r="1.5" fill="#ea007c"/><circle cx="231.0" cy="123.7" r="1.5" fill="#e8007e"/><circle cx="281.6" cy="121.4" r="1.5" fill="#0081f8"/><circle cx="284.3" cy="120.3" r="1.5" fill="#008bfb"/><circle cx="286.1" cy="121.4" r="1.5" fill="#605bdc"/><circle cx="235.1" cy="121.4" r="1.5" fill="#e7007f"/><circle cx="283.6" cy="121.4" r="1.5" fill="#9c23ad"/><circle cx="240.1" cy="121.4" r="1.5" fill="#f5006c"/><circle cx="275.1" cy="122.5" r="1.5" fill="#007ff7"/><circle cx="256.6" cy="121.4" r="1.5" fill="#9530b6"/><circle cx="249.6" cy="119.1" r="1.5" fill="#e8007e"/><circle cx="254.2" cy="121.4" r="1.5" fill="#f20072"/><circle cx="266.7" cy="125.9" r="1.5" fill="#6857d8"/><circle cx="236.0" cy="122.5" r="1.5" fill="#c70099"/><circle cx="268.5" cy="119.1" r="1.5" fill="#5a5ede"/><circle cx="264.7" cy="124.8" r="1.5" fill="#9530b6"/><circle cx="249.8" cy="124.8" r="1.5" fill="#f90067"/><circle cx="241.1" cy="123.7" r="1.5" fill="#f90067"/><circle cx="229.0" cy="122.5" r="1.5" fill="#f90067"/><circle cx="232.9" cy="122.5" r="1.5" fill="#da008b"/><circle cx="258.2" cy="121.4" r="1.5" fill="#e9007c"/><circle cx="264.1" cy="121.4" r="1.5" fill="#9a25ae"/><circle cx="258.8" cy="124.8" r="1.5" fill="#c4009b"/><circle cx="274.3" cy="121.4" r="1.5" fill="#3f67e6"/><circle cx="267.6" cy="144.6" r="1.5" fill="#8245c8"/><circle cx="278.1" cy="142.0" r="1.5" fill="#007bf4"/><circle cx="248.0" cy="145.9" r="1.5" fill="#7053d4"/><circle cx="248.5" cy="140.7" r="1.5" fill="#ab17a7"/><circle cx="261.9" cy="138.0" r="1.5" fill="#615adb"/><circle cx="244.1" cy="145.9" r="1.5" fill="#e10085"/><circle cx="251.7" cy="145.9" r="1.5" fill="#d6008f"/><circle cx="256.9" cy="142.0" r="1.5" fill="#e00086"/><circle cx="263.4" cy="145.9" r="1.5" fill="#774dd0"/><circle cx="274.6" cy="144.6" r="1.5" fill="#0071ee"/><circle cx="249.3" cy="147.2" r="1.5" fill="#d30090"/><circle cx="291.1" cy="143.3" r="1.5" fill="#0075f1"/><circle cx="248.0" cy="148.6" r="1.5" fill="#c4009b"/><circle cx="262.2" cy="149.9" r="1.5" fill="#0082f8"/><circle cx="249.5" cy="149.9" r="1.5" fill="#7f47ca"/><circle cx="247.9" cy="143.3" r="1.5" fill="#c2009c"/><circle cx="276.7" cy="144.6" r="1.5" fill="#0079f3"/><circle cx="263.1" cy="140.7" r="1.5" fill="#008afb"/><circle cx="248.5" cy="147.2" r="1.5" fill="#ec0079"/><circle cx="254.1" cy="140.7" r="1.5" fill="#ff0059"/><circle cx="281.2" cy="144.6" r="1.5" fill="#008bfb"/><circle cx="276.4" cy="143.3" r="1.5" fill="#008bfb"/><circle cx="250.8" cy="143.3" r="1.5" fill="#c80098"/><circle cx="255.5" cy="143.3" r="1.5" fill="#ff005b"/><circle cx="282.5" cy="144.6" r="1.5" fill="#8047c9"/><circle cx="248.7" cy="142.0" r="1.5" fill="#0073f0"/><circle cx="237.5" cy="144.6" r="1.5" fill="#ee0077"/><circle cx="269.7" cy="142.0" r="1.5" fill="#0079f3"/><circle cx="289.7" cy="143.3" r="1.5" fill="#0082f8"/><circle cx="240.7" cy="142.0" r="1.5" fill="#8840c3"/><circle cx="246.0" cy="143.3" r="1.5" fill="#e40082"/><circle cx="241.5" cy="142.0" r="1.5" fill="#d30091"/><circle cx="267.5" cy="143.3" r="1.5" fill="#8146c9"/><circle cx="263.9" cy="144.6" r="1.5" fill="#e10084"/><circle cx="240.3" cy="140.7" r="1.5" fill="#e30083"/><circle cx="261.9" cy="148.6" r="1.5" fill="#fa0065"/><circle cx="241.4" cy="143.3" r="1.5" fill="#c3009b"/><circle cx="261.7" cy="143.3" r="1.5" fill="#0083f8"/><circle cx="257.0" cy="145.9" r="1.5" fill="#9c23ad"/><circle cx="263.8" cy="145.9" r="1.5" fill="#0c6fec"/><circle cx="272.7" cy="143.3" r="1.5" fill="#007bf4"/><circle cx="267.3" cy="143.3" r="1.5" fill="#007bf5"/><circle cx="234.8" cy="143.3" r="1.5" fill="#da008b"/><circle cx="254.8" cy="145.9" r="1.5" fill="#ff0051"/><circle cx="238.9" cy="145.9" r="1.5" fill="#f00074"/><circle cx="304.3" cy="144.6" r="1.5" fill="#0089fa"/><circle cx="234.1" cy="144.6" r="1.5" fill="#bd009f"/><circle cx="265.1" cy="147.2" r="1.5" fill="#316ae9"/><circle cx="249.3" cy="144.6" r="1.5" fill="#ff005b"/><circle cx="236.2" cy="143.3" r="1.5" fill="#d5008f"/><circle cx="244.0" cy="144.6" r="1.5" fill="#d8008d"/><circle cx="277.5" cy="143.3" r="1.5" fill="#0082f8"/><circle cx="260.6" cy="145.9" r="1.5" fill="#605bdc"/><circle cx="287.9" cy="143.3" r="1.5" fill="#0082f8"/><circle cx="290.1" cy="143.3" r="1.5" fill="#0083f8"/><circle cx="244.7" cy="142.0" r="1.5" fill="#f30070"/><circle cx="270.6" cy="144.6" r="1.5" fill="#007bf4"/><circle cx="315.4" cy="143.3" r="1.5" fill="#007bf4"/><circle cx="248.6" cy="149.9" r="1.5" fill="#3669e8"/><circle cx="265.1" cy="144.6" r="1.5" fill="#c70099"/><circle cx="242.9" cy="144.6" r="1.5" fill="#fd005f"/><circle cx="275.4" cy="142.0" r="1.5" fill="#9332b7"/><circle cx="248.6" cy="145.9" r="1.5" fill="#d10092"/><circle cx="260.5" cy="147.2" r="1.5" fill="#ff0051"/><circle cx="267.4" cy="145.9" r="1.5" fill="#008bfb"/><circle cx="251.5" cy="142.0" r="1.5" fill="#ff0056"/><circle cx="243.5" cy="142.0" r="1.5" fill="#9b25ae"/><circle cx="271.5" cy="143.3" r="1.5" fill="#972bb2"/><circle cx="275.1" cy="143.3" r="1.5" fill="#0078f3"/><circle cx="299.5" cy="143.3" r="1.5" fill="#007ef6"/><circle cx="252.3" cy="147.2" r="1.5" fill="#e60080"/><circle cx="247.5" cy="147.2" r="1.5" fill="#9929b1"/><circle cx="305.5" cy="143.3" r="1.5" fill="#0087fa"/><circle cx="234.2" cy="143.3" r="1.5" fill="#c2009c"/><circle cx="294.7" cy="144.6" r="1.5" fill="#0089fa"/><circle cx="233.8" cy="147.2" r="1.5" fill="#dc0089"/><circle cx="243.1" cy="144.6" r="1.5" fill="#f5006d"/><circle cx="281.4" cy="143.3" r="1.5" fill="#007af4"/><circle cx="265.3" cy="142.0" r="1.5" fill="#5f5bdc"/><circle cx="254.0" cy="143.3" r="1.5" fill="#e8007e"/><circle cx="240.1" cy="144.6" r="1.5" fill="#fa0065"/><circle cx="262.8" cy="144.6" r="1.5" fill="#bb00a0"/><circle cx="259.8" cy="140.7" r="1.5" fill="#0078f2"/><circle cx="292.2" cy="143.3" r="1.5" fill="#008bfb"/><circle cx="249.7" cy="140.7" r="1.5" fill="#d7008d"/><circle cx="266.0" cy="142.0" r="1.5" fill="#5a5ede"/><circle cx="260.6" cy="140.7" r="1.5" fill="#b20fa4"/><circle cx="244.3" cy="143.3" r="1.5" fill="#e8007e"/><circle cx="298.3" cy="144.6" r="1.5" fill="#007df6"/><circle cx="280.5" cy="144.6" r="1.5" fill="#7351d3"/><circle cx="261.8" cy="144.6" r="1.5" fill="#8d3abe"/><circle cx="259.4" cy="143.3" r="1.5" fill="#774dd0"/><circle cx="243.7" cy="145.9" r="1.5" fill="#f80068"/><circle cx="264.9" cy="140.7" r="1.5" fill="#7c4acd"/><circle cx="248.1" cy="148.6" r="1.5" fill="#ff0051"/><circle cx="249.3" cy="145.9" r="1.5" fill="#be009e"/><circle cx="303.7" cy="143.3" r="1.5" fill="#0085f9"/><circle cx="285.7" cy="143.3" r="1.5" fill="#0080f7"/><circle cx="251.7" cy="148.6" r="1.5" fill="#d5008f"/><circle cx="259.0" cy="142.0" r="1.5" fill="#c3009b"/><circle cx="254.3" cy="140.7" r="1.5" fill="#c2009c"/><circle cx="249.4" cy="136.7" r="1.5" fill="#0075f0"/><circle cx="252.4" cy="142.0" r="1.5" fill="#8641c4"/><circle cx="240.2" cy="145.9" r="1.5" fill="#e7007f"/><circle cx="267.9" cy="142.0" r="1.5" fill="#f7006b"/><circle cx="251.9" cy="139.4" r="1.5" fill="#d30091"/><circle cx="266.6" cy="140.7" r="1.5" fill="#008bfb"/><circle cx="239.1" cy="140.7" r="1.5" fill="#ff0051"/><circle cx="263.3" cy="143.3" r="1.5" fill="#9136ba"/><circle cx="256.4" cy="144.6" r="1.5" fill="#c70099"/><circle cx="263.7" cy="142.0" r="1.5" fill="#0088fa"/><circle cx="251.9" cy="143.3" r="1.5" fill="#972db3"/><circle cx="267.7" cy="145.9" r="1.5" fill="#306ae9"/><circle cx="247.3" cy="142.0" r="1.5" fill="#a71aa9"/><circle cx="274.3" cy="143.3" r="1.5" fill="#5e5cdd"/><circle cx="242.2" cy="143.3" r="1.5" fill="#d9008c"/><circle cx="253.7" cy="142.0" r="1.5" fill="#ff0053"/><circle cx="282.3" cy="143.3" r="1.5" fill="#0073f0"/><circle cx="251.9" cy="144.6" r="1.5" fill="#a120ab"/><circle cx="262.2" cy="142.0" r="1.5" fill="#4d63e3"/><circle cx="251.7" cy="149.9" r="1.5" fill="#db008a"/><circle cx="280.3" cy="143.3" r="1.5" fill="#5460e0"/><circle cx="243.3" cy="147.2" r="1.5" fill="#c70099"/><circle cx="290.3" cy="144.6" r="1.5" fill="#007bf5"/><circle cx="244.7" cy="140.7" r="1.5" fill="#aa18a8"/><circle cx="251.3" cy="147.2" r="1.5" fill="#e10085"/><circle cx="248.7" cy="139.4" r="1.5" fill="#a51caa"/><circle cx="241.7" cy="145.9" r="1.5" fill="#8840c3"/><circle cx="251.8" cy="140.7" r="1.5" fill="#9431b6"/><circle cx="235.4" cy="142.0" r="1.5" fill="#db008a"/><circle cx="266.6" cy="144.6" r="1.5" fill="#ff0051"/><circle cx="248.3" cy="136.7" r="1.5" fill="#9530b6"/><circle cx="312.5" cy="143.3" r="1.5" fill="#0085f9"/><circle cx="298.8" cy="143.3" r="1.5" fill="#0080f7"/><circle cx="317.3" cy="144.6" r="1.5" fill="#0084f9"/><circle cx="247.9" cy="140.7" r="1.5" fill="#bb00a0"/><circle cx="259.3" cy="142.0" r="1.5" fill="#8047ca"/><circle cx="320.9" cy="143.3" r="1.5" fill="#0085f9"/><circle cx="310.4" cy="143.3" r="1.5" fill="#008bfb"/><circle cx="327.9" cy="143.3" r="1.5" fill="#007ff7"/><circle cx="234.2" cy="145.9" r="1.5" fill="#fa0065"/><circle cx="259.0" cy="144.6" r="1.5" fill="#ff0051"/><circle cx="259.6" cy="147.2" r="1.5" fill="#008bfb"/><circle cx="263.2" cy="142.0" r="1.5" fill="#8c3bbf"/><circle cx="269.4" cy="143.3" r="1.5" fill="#0073ef"/><circle cx="257.7" cy="143.3" r="1.5" fill="#b804a2"/><circle cx="240.2" cy="143.3" r="1.5" fill="#a31eab"/><circle cx="234.5" cy="140.7" r="1.5" fill="#ff0051"/><circle cx="254.8" cy="143.3" r="1.5" fill="#972cb3"/><circle cx="298.2" cy="145.9" r="1.5" fill="#0088fa"/><circle cx="241.4" cy="144.6" r="1.5" fill="#e8007e"/><circle cx="262.3" cy="140.7" r="1.5" fill="#7d49cc"/><circle cx="249.3" cy="148.6" r="1.5" fill="#5d5cdd"/><circle cx="265.5" cy="140.7" r="1.5" fill="#8d3abe"/><circle cx="264.3" cy="143.3" r="1.5" fill="#5360e1"/><circle cx="275.0" cy="144.6" r="1.5" fill="#007cf5"/><circle cx="259.7" cy="144.6" r="1.5" fill="#d30091"/><circle cx="253.0" cy="148.6" r="1.5" fill="#f00075"/><circle cx="315.1" cy="144.6" r="1.5" fill="#008bfb"/><circle cx="299.1" cy="142.0" r="1.5" fill="#0083f9"/><circle cx="265.5" cy="145.9" r="1.5" fill="#d8008c"/><circle cx="278.2" cy="144.6" r="1.5" fill="#1c6deb"/><circle cx="260.9" cy="142.0" r="1.5" fill="#8245c8"/><circle cx="238.9" cy="142.0" r="1.5" fill="#eb007a"/><circle cx="246.1" cy="142.0" r="1.5" fill="#d8008d"/><circle cx="267.1" cy="139.4" r="1.5" fill="#f5006d"/><circle cx="310.4" cy="142.0" r="1.5" fill="#0078f3"/><circle cx="246.1" cy="143.3" r="1.5" fill="#dc008a"/><circle cx="261.6" cy="139.4" r="1.5" fill="#ba00a0"/><circle cx="249.4" cy="139.4" r="1.5" fill="#ea007b"/><circle cx="270.3" cy="144.6" r="1.5" fill="#8542c5"/><circle cx="305.9" cy="144.6" r="1.5" fill="#0087fa"/><circle cx="261.0" cy="139.4" r="1.5" fill="#ec0079"/><circle cx="304.8" cy="143.3" r="1.5" fill="#008bfb"/><circle cx="279.4" cy="144.6" r="1.5" fill="#006fed"/><circle cx="254.8" cy="144.6" r="1.5" fill="#d7008e"/><circle cx="265.0" cy="143.3" r="1.5" fill="#982ab2"/><circle cx="279.3" cy="143.3" r="1.5" fill="#0089fa"/><circle cx="248.7" cy="138.0" r="1.5" fill="#b30da4"/><circle cx="266.6" cy="142.0" r="1.5" fill="#9234b9"/><circle cx="247.6" cy="139.4" r="1.5" fill="#d5008f"/><circle cx="261.8" cy="147.2" r="1.5" fill="#7e48cb"/><circle cx="249.0" cy="143.3" r="1.5" fill="#8a3ec1"/><circle cx="310.0" cy="144.6" r="1.5" fill="#007ff6"/><circle cx="252.3" cy="143.3" r="1.5" fill="#f00075"/><circle cx="257.0" cy="143.3" r="1.5" fill="#e40082"/><circle cx="245.9" cy="144.6" r="1.5" fill="#fd0060"/><circle cx="267.0" cy="147.2" r="1.5" fill="#6d54d6"/><circle cx="235.0" cy="145.9" r="1.5" fill="#e40082"/><circle cx="255.2" cy="145.9" r="1.5" fill="#f20072"/><circle cx="249.2" cy="138.0" r="1.5" fill="#de0088"/><circle cx="251.5" cy="138.0" r="1.5" fill="#7350d2"/><circle cx="317.0" cy="143.3" r="1.5" fill="#0088fa"/><circle cx="235.2" cy="144.6" r="1.5" fill="#d40090"/><circle cx="254.4" cy="142.0" r="1.5" fill="#ff0059"/><circle cx="259.0" cy="143.3" r="1.5" fill="#db008a"/><circle cx="245.2" cy="142.0" r="1.5" fill="#e8007e"/><circle cx="237.0" cy="142.0" r="1.5" fill="#f90067"/><circle cx="233.2" cy="144.6" r="1.5" fill="#f10073"/><circle cx="253.8" cy="144.6" r="1.5" fill="#f00074"/><circle cx="255.7" cy="144.6" r="1.5" fill="#dc008a"/><circle cx="253.1" cy="140.7" r="1.5" fill="#f80069"/><circle cx="248.7" cy="144.6" r="1.5" fill="#bf009e"/><circle cx="276.9" cy="144.6" r="1.5" fill="#008bfb"/><circle cx="251.0" cy="145.9" r="1.5" fill="#e50081"/><circle cx="243.4" cy="143.3" r="1.5" fill="#d10092"/><circle cx="278.2" cy="143.3" r="1.5" fill="#4465e5"/><circle cx="247.3" cy="144.6" r="1.5" fill="#e8007d"/><circle cx="251.0" cy="142.0" r="1.5" fill="#ff005b"/><circle cx="239.1" cy="143.3" r="1.5" fill="#d9008c"/><circle cx="263.7" cy="140.7" r="1.5" fill="#e40082"/><circle cx="252.3" cy="144.6" r="1.5" fill="#e9007d"/><circle cx="233.9" cy="142.0" r="1.5" fill="#f90066"/><circle cx="252.4" cy="145.9" r="1.5" fill="#d30091"/><circle cx="285.9" cy="143.3" r="1.5" fill="#007ff7"/><circle cx="266.3" cy="144.6" r="1.5" fill="#7b4bcd"/><circle cx="266.4" cy="143.3" r="1.5" fill="#7e48cb"/><circle cx="260.1" cy="145.9" r="1.5" fill="#e50081"/><circle cx="302.2" cy="143.3" r="1.5" fill="#0087fa"/><circle cx="252.4" cy="139.4" r="1.5" fill="#8444c7"/><circle cx="335.5" cy="143.3" r="1.5" fill="#0086f9"/><circle cx="294.8" cy="143.3" r="1.5" fill="#007cf5"/><circle cx="270.1" cy="143.3" r="1.5" fill="#565fe0"/><circle cx="255.2" cy="142.0" r="1.5" fill="#e6007f"/><circle cx="250.0" cy="143.3" r="1.5" fill="#fd005e"/><circle cx="250.4" cy="144.6" r="1.5" fill="#8e39bd"/><circle cx="264.7" cy="145.9" r="1.5" fill="#9929b1"/><circle cx="244.7" cy="147.2" r="1.5" fill="#c0009d"/><circle cx="233.5" cy="143.3" r="1.5" fill="#ff005b"/><circle cx="261.1" cy="143.3" r="1.5" fill="#c0009d"/><circle cx="237.0" cy="143.3" r="1.5" fill="#ff0051"/><circle cx="261.8" cy="145.9" r="1.5" fill="#9b25ae"/><circle cx="280.2" cy="142.0" r="1.5" fill="#5e5cdd"/><circle cx="239.2" cy="144.6" r="1.5" fill="#df0086"/><circle cx="253.2" cy="145.9" r="1.5" fill="#ce0094"/><circle cx="246.1" cy="144.6" r="1.5" fill="#d7008d"/><circle cx="258.1" cy="144.6" r="1.5" fill="#d9008c"/><circle cx="260.5" cy="144.6" r="1.5" fill="#f20071"/><circle cx="303.0" cy="143.3" r="1.5" fill="#0087fa"/><circle cx="243.3" cy="140.7" r="1.5" fill="#ec007a"/><circle cx="249.6" cy="142.0" r="1.5" fill="#007ff6"/><circle cx="224.3" cy="166.5" r="1.5" fill="#df0086"/><circle cx="256.8" cy="166.5" r="1.5" fill="#3868e7"/><circle cx="277.6" cy="161.3" r="1.5" fill="#008bfb"/><circle cx="271.4" cy="167.8" r="1.5" fill="#0088fa"/><circle cx="274.4" cy="166.5" r="1.5" fill="#0083f8"/><circle cx="263.0" cy="163.9" r="1.5" fill="#0080f7"/><circle cx="277.3" cy="169.1" r="1.5" fill="#0077f2"/><circle cx="275.9" cy="165.2" r="1.5" fill="#0078f3"/><circle cx="259.1" cy="167.8" r="1.5" fill="#764ed0"/><circle cx="272.0" cy="166.5" r="1.5" fill="#3e67e6"/><circle cx="271.0" cy="163.9" r="1.5" fill="#605bdc"/><circle cx="287.5" cy="165.2" r="1.5" fill="#007df5"/><circle cx="245.9" cy="165.2" r="1.5" fill="#784dcf"/><circle cx="277.3" cy="162.6" r="1.5" fill="#0086f9"/><circle cx="274.6" cy="167.8" r="1.5" fill="#0074f0"/><circle cx="261.8" cy="162.6" r="1.5" fill="#5c5ddd"/><circle cx="271.4" cy="162.6" r="1.5" fill="#008bfb"/><circle cx="270.8" cy="167.8" r="1.5" fill="#0087fa"/><circle cx="266.6" cy="167.8" r="1.5" fill="#883fc3"/><circle cx="275.3" cy="163.9" r="1.5" fill="#007cf5"/><circle cx="269.3" cy="163.9" r="1.5" fill="#0083f8"/><circle cx="258.1" cy="167.8" r="1.5" fill="#8a3dc1"/><circle cx="248.0" cy="163.9" r="1.5" fill="#3469e8"/><circle cx="266.2" cy="165.2" r="1.5" fill="#008bfb"/><circle cx="283.5" cy="166.5" r="1.5" fill="#0082f8"/><circle cx="260.3" cy="163.9" r="1.5" fill="#5a5ede"/><circle cx="284.1" cy="165.2" r="1.5" fill="#2e6be9"/><circle cx="274.4" cy="162.6" r="1.5" fill="#0089fa"/><circle cx="265.0" cy="162.6" r="1.5" fill="#0086f9"/><circle cx="278.9" cy="167.8" r="1.5" fill="#0088fa"/><circle cx="224.2" cy="165.2" r="1.5" fill="#fd005f"/><circle cx="254.1" cy="166.5" r="1.5" fill="#5b5dde"/><circle cx="272.1" cy="163.9" r="1.5" fill="#007ff6"/><circle cx="259.6" cy="167.8" r="1.5" fill="#f00075"/><circle cx="285.6" cy="163.9" r="1.5" fill="#008bfb"/><circle cx="245.5" cy="166.5" r="1.5" fill="#cb0096"/><circle cx="263.3" cy="165.2" r="1.5" fill="#c0009d"/><circle cx="262.1" cy="165.2" r="1.5" fill="#4366e5"/><circle cx="257.9" cy="162.6" r="1.5" fill="#4266e5"/><circle cx="260.0" cy="166.5" r="1.5" fill="#0077f2"/><circle cx="268.9" cy="165.2" r="1.5" fill="#9530b6"/><circle cx="263.9" cy="165.2" r="1.5" fill="#007ef6"/><circle cx="261.4" cy="167.8" r="1.5" fill="#5a5ede"/><circle cx="262.9" cy="167.8" r="1.5" fill="#8d3abe"/><circle cx="266.8" cy="165.2" r="1.5" fill="#ff0051"/><circle cx="268.2" cy="162.6" r="1.5" fill="#893fc2"/><circle cx="257.5" cy="166.5" r="1.5" fill="#9332b7"/><circle cx="266.4" cy="162.6" r="1.5" fill="#794cce"/><circle cx="264.5" cy="166.5" r="1.5" fill="#a31eaa"/><circle cx="239.8" cy="165.2" r="1.5" fill="#972cb3"/><circle cx="229.2" cy="165.2" r="1.5" fill="#e30083"/><circle cx="271.8" cy="165.2" r="1.5" fill="#0079f3"/><circle cx="276.5" cy="165.2" r="1.5" fill="#0073f0"/><circle cx="277.7" cy="167.8" r="1.5" fill="#1a6deb"/><circle cx="280.2" cy="166.5" r="1.5" fill="#008bfb"/><circle cx="287.2" cy="165.2" r="1.5" fill="#0083f8"/><circle cx="278.1" cy="165.2" r="1.5" fill="#008bfb"/><circle cx="288.4" cy="163.9" r="1.5" fill="#5161e1"/><circle cx="271.4" cy="163.9" r="1.5" fill="#0078f3"/><circle cx="280.0" cy="165.2" r="1.5" fill="#007af4"/><circle cx="272.6" cy="165.2" r="1.5" fill="#0084f9"/><circle cx="280.7" cy="165.2" r="1.5" fill="#008bfb"/><circle cx="255.7" cy="165.2" r="1.5" fill="#007ef6"/><circle cx="270.8" cy="165.2" r="1.5" fill="#007cf5"/><circle cx="281.9" cy="166.5" r="1.5" fill="#008bfb"/><circle cx="273.4" cy="166.5" r="1.5" fill="#0072ee"/><circle cx="249.4" cy="166.5" r="1.5" fill="#0076f2"/><circle cx="258.9" cy="166.5" r="1.5" fill="#7152d3"/><circle cx="273.8" cy="165.2" r="1.5" fill="#0082f8"/><circle cx="283.5" cy="163.9" r="1.5" fill="#008bfb"/><circle cx="270.0" cy="165.2" r="1.5" fill="#007ef6"/><circle cx="254.6" cy="163.9" r="1.5" fill="#008bfb"/><circle cx="275.1" cy="169.1" r="1.5" fill="#0082f8"/><circle cx="258.4" cy="165.2" r="1.5" fill="#136eec"/><circle cx="265.1" cy="169.1" r="1.5" fill="#9036bb"/><circle cx="275.2" cy="165.2" r="1.5" fill="#007bf5"/><circle cx="258.6" cy="163.9" r="1.5" fill="#226deb"/><circle cx="247.7" cy="165.2" r="1.5" fill="#972cb3"/><circle cx="269.9" cy="166.5" r="1.5" fill="#008bfb"/><circle cx="270.1" cy="163.9" r="1.5" fill="#0087fa"/><circle cx="262.7" cy="165.2" r="1.5" fill="#b011a5"/><circle cx="255.1" cy="166.5" r="1.5" fill="#8f37bc"/><circle cx="239.0" cy="165.2" r="1.5" fill="#8c3bbf"/><circle cx="265.0" cy="161.3" r="1.5" fill="#0084f9"/><circle cx="285.3" cy="166.5" r="1.5" fill="#0083f8"/><circle cx="252.6" cy="165.2" r="1.5" fill="#0081f8"/><circle cx="273.3" cy="167.8" r="1.5" fill="#008afb"/><circle cx="275.5" cy="166.5" r="1.5" fill="#007ff7"/><circle cx="240.5" cy="165.2" r="1.5" fill="#7450d2"/><circle cx="239.8" cy="166.5" r="1.5" fill="#ff0051"/><circle cx="242.6" cy="165.2" r="1.5" fill="#f7006a"/><circle cx="276.4" cy="167.8" r="1.5" fill="#0083f8"/><circle cx="273.3" cy="166.5" r="1.5" fill="#0087fa"/><circle cx="278.4" cy="163.9" r="1.5" fill="#007ef6"/><circle cx="276.9" cy="162.6" r="1.5" fill="#008bfb"/><circle cx="267.9" cy="167.8" r="1.5" fill="#ee0076"/><circle cx="274.2" cy="163.9" r="1.5" fill="#008bfb"/><circle cx="221.4" cy="165.2" r="1.5" fill="#fa0065"/><circle cx="244.9" cy="165.2" r="1.5" fill="#a31eaa"/><circle cx="265.1" cy="170.5" r="1.5" fill="#8a3dc1"/><circle cx="241.5" cy="165.2" r="1.5" fill="#ce0094"/><circle cx="248.8" cy="166.5" r="1.5" fill="#f6006c"/><circle cx="275.2" cy="167.8" r="1.5" fill="#0077f2"/><circle cx="266.4" cy="166.5" r="1.5" fill="#9333b8"/><circle cx="261.6" cy="166.5" r="1.5" fill="#5d5cdd"/><circle cx="254.0" cy="163.9" r="1.5" fill="#007ef6"/><circle cx="261.3" cy="162.6" r="1.5" fill="#008bfb"/><circle cx="247.1" cy="165.2" r="1.5" fill="#0089fa"/><circle cx="254.5" cy="165.2" r="1.5" fill="#cc0096"/><circle cx="273.3" cy="165.2" r="1.5" fill="#0085f9"/><circle cx="240.3" cy="166.5" r="1.5" fill="#f80068"/><circle cx="239.6" cy="163.9" r="1.5" fill="#5161e1"/><circle cx="267.6" cy="166.5" r="1.5" fill="#0070ee"/><circle cx="264.7" cy="167.8" r="1.5" fill="#7a4cce"/><circle cx="260.2" cy="166.5" r="1.5" fill="#7f48ca"/><circle cx="252.7" cy="166.5" r="1.5" fill="#5560e0"/><circle cx="271.4" cy="169.1" r="1.5" fill="#0070ed"/><circle cx="265.5" cy="166.5" r="1.5" fill="#008bfb"/><circle cx="251.7" cy="166.5" r="1.5" fill="#be009e"/><circle cx="284.9" cy="165.2" r="1.5" fill="#007bf4"/><circle cx="223.8" cy="166.5" r="1.5" fill="#f30071"/><circle cx="264.2" cy="167.8" r="1.5" fill="#6757d9"/><circle cx="272.2" cy="162.6" r="1.5" fill="#0077f2"/><circle cx="273.6" cy="167.8" r="1.5" fill="#0084f9"/><circle cx="273.5" cy="162.6" r="1.5" fill="#007cf5"/><circle cx="288.4" cy="167.8" r="1.5" fill="#2c6bea"/><circle cx="232.7" cy="165.2" r="1.5" fill="#e30083"/><circle cx="265.3" cy="163.9" r="1.5" fill="#7052d4"/><circle cx="275.0" cy="162.6" r="1.5" fill="#0088fa"/><circle cx="276.6" cy="166.5" r="1.5" fill="#0089fa"/><circle cx="249.1" cy="165.2" r="1.5" fill="#007ff6"/><circle cx="263.6" cy="166.5" r="1.5" fill="#c3009c"/><circle cx="272.2" cy="161.3" r="1.5" fill="#007df6"/><circle cx="244.6" cy="165.2" r="1.5" fill="#883fc2"/><circle cx="273.6" cy="163.9" r="1.5" fill="#008bfb"/><circle cx="256.0" cy="166.5" r="1.5" fill="#8e38bd"/><circle cx="259.1" cy="165.2" r="1.5" fill="#5361e1"/><circle cx="260.7" cy="165.2" r="1.5" fill="#0086f9"/><circle cx="273.2" cy="163.9" r="1.5" fill="#008bfb"/><circle cx="265.9" cy="169.1" r="1.5" fill="#008bfb"/><circle cx="251.4" cy="165.2" r="1.5" fill="#6956d8"/><circle cx="257.8" cy="165.2" r="1.5" fill="#0085f9"/><circle cx="277.3" cy="165.2" r="1.5" fill="#007df5"/><circle cx="265.2" cy="165.2" r="1.5" fill="#3769e8"/><circle cx="283.6" cy="167.8" r="1.5" fill="#008bfb"/><circle cx="262.1" cy="163.9" r="1.5" fill="#007ff7"/><circle cx="279.5" cy="163.9" r="1.5" fill="#008bfb"/><circle cx="254.7" cy="166.5" r="1.5" fill="#0084f9"/><circle cx="264.7" cy="166.5" r="1.5" fill="#0082f8"/><circle cx="272.3" cy="169.1" r="1.5" fill="#0082f8"/><circle cx="277.5" cy="166.5" r="1.5" fill="#0085f9"/><circle cx="288.6" cy="165.2" r="1.5" fill="#0083f8"/><circle cx="255.2" cy="165.2" r="1.5" fill="#8a3ec1"/><circle cx="265.4" cy="167.8" r="1.5" fill="#aa18a8"/><circle cx="261.5" cy="171.8" r="1.5" fill="#b20ea4"/><circle cx="260.1" cy="167.8" r="1.5" fill="#f5006d"/><circle cx="256.6" cy="165.2" r="1.5" fill="#4864e4"/><circle cx="276.3" cy="169.1" r="1.5" fill="#0077f2"/><circle cx="247.8" cy="166.5" r="1.5" fill="#ea007c"/><circle cx="283.2" cy="165.2" r="1.5" fill="#2d6be9"/><circle cx="268.9" cy="167.8" r="1.5" fill="#e30083"/><circle cx="251.5" cy="163.9" r="1.5" fill="#6459da"/><circle cx="278.1" cy="166.5" r="1.5" fill="#0088fa"/><circle cx="286.2" cy="166.5" r="1.5" fill="#0083f8"/><circle cx="249.9" cy="165.2" r="1.5" fill="#0077f2"/><circle cx="250.7" cy="165.2" r="1.5" fill="#007bf4"/><circle cx="267.6" cy="169.1" r="1.5" fill="#b010a5"/><circle cx="253.1" cy="165.2" r="1.5" fill="#0074f0"/><circle cx="258.6" cy="166.5" r="1.5" fill="#008bfb"/><circle cx="230.8" cy="165.2" r="1.5" fill="#f10073"/><circle cx="278.0" cy="162.6" r="1.5" fill="#5360e1"/><circle cx="260.5" cy="162.6" r="1.5" fill="#4864e4"/><circle cx="260.1" cy="165.2" r="1.5" fill="#5361e1"/><circle cx="275.9" cy="163.9" r="1.5" fill="#008bfb"/><circle cx="226.9" cy="165.2" r="1.5" fill="#f30070"/><circle cx="261.2" cy="165.2" r="1.5" fill="#9234b9"/><circle cx="282.1" cy="165.2" r="1.5" fill="#0086fa"/><circle cx="237.8" cy="165.2" r="1.5" fill="#ff0051"/><circle cx="250.4" cy="163.9" r="1.5" fill="#8641c4"/><circle cx="270.8" cy="166.5" r="1.5" fill="#007af4"/><circle cx="250.2" cy="166.5" r="1.5" fill="#4067e6"/><circle cx="255.3" cy="167.8" r="1.5" fill="#c4009b"/><circle cx="255.4" cy="163.9" r="1.5" fill="#6f53d5"/><circle cx="287.9" cy="166.5" r="1.5" fill="#008bfb"/><circle cx="282.9" cy="165.2" r="1.5" fill="#007df6"/><circle cx="279.7" cy="166.5" r="1.5" fill="#3e67e6"/><circle cx="265.6" cy="165.2" r="1.5" fill="#a919a8"/><circle cx="238.7" cy="166.5" r="1.5" fill="#ef0075"/><circle cx="272.4" cy="167.8" r="1.5" fill="#007af4"/><circle cx="223.6" cy="165.2" r="1.5" fill="#ff0052"/><circle cx="288.5" cy="166.5" r="1.5" fill="#0086f9"/><circle cx="253.8" cy="165.2" r="1.5" fill="#883fc2"/><circle cx="254.3" cy="167.8" r="1.5" fill="#774dd0"/><circle cx="274.1" cy="165.2" r="1.5" fill="#008bfb"/><circle cx="262.4" cy="166.5" r="1.5" fill="#9332b7"/><circle cx="279.0" cy="163.9" r="1.5" fill="#0078f3"/><circle cx="267.6" cy="163.9" r="1.5" fill="#d5008f"/><circle cx="261.3" cy="161.3" r="1.5" fill="#0071ee"/><circle cx="263.6" cy="163.9" r="1.5" fill="#8344c7"/><circle cx="278.4" cy="167.8" r="1.5" fill="#008bfb"/><circle cx="250.6" cy="166.5" r="1.5" fill="#008bfb"/><circle cx="247.3" cy="163.9" r="1.5" fill="#e00086"/><circle cx="269.5" cy="165.2" r="1.5" fill="#0087fa"/><circle cx="277.1" cy="163.9" r="1.5" fill="#007ff6"/><circle cx="286.4" cy="165.2" r="1.5" fill="#0072ee"/><circle cx="266.5" cy="163.9" r="1.5" fill="#3469e8"/><circle cx="265.1" cy="163.9" r="1.5" fill="#8e39be"/><circle cx="270.2" cy="167.8" r="1.5" fill="#0089fa"/><circle cx="261.3" cy="170.5" r="1.5" fill="#6a56d7"/><circle cx="262.1" cy="167.8" r="1.5" fill="#8f37bc"/><circle cx="258.4" cy="163.9" r="1.5" fill="#007bf5"/><circle cx="246.6" cy="165.2" r="1.5" fill="#0082f8"/><circle cx="287.5" cy="163.9" r="1.5" fill="#008bfb"/><circle cx="264.5" cy="163.9" r="1.5" fill="#f5006d"/><circle cx="245.0" cy="166.5" r="1.5" fill="#d10092"/><circle cx="261.2" cy="169.1" r="1.5" fill="#008bfb"/><circle cx="262.3" cy="166.5" r="1.5" fill="#a31eab"/><circle cx="260.9" cy="163.9" r="1.5" fill="#0083f8"/><circle cx="260.8" cy="169.1" r="1.5" fill="#575fdf"/><circle cx="241.8" cy="165.2" r="1.5" fill="#ff005b"/><circle cx="261.2" cy="159.9" r="1.5" fill="#008bfb"/><circle cx="268.3" cy="163.9" r="1.5" fill="#008bfb"/><circle cx="276.3" cy="163.9" r="1.5" fill="#3769e8"/><circle cx="285.4" cy="165.2" r="1.5" fill="#0087fa"/><circle cx="279.1" cy="166.5" r="1.5" fill="#007cf5"/><circle cx="275.6" cy="166.5" r="1.5" fill="#0083f8"/><circle cx="268.9" cy="166.5" r="1.5" fill="#8641c4"/><circle cx="246.9" cy="166.5" r="1.5" fill="#f4006f"/><circle cx="272.6" cy="170.5" r="1.5" fill="#0081f7"/><circle cx="260.0" cy="163.9" r="1.5" fill="#ce0094"/><circle cx="249.0" cy="165.2" r="1.5" fill="#0082f8"/><circle cx="289.2" cy="165.2" r="1.5" fill="#0082f8"/><circle cx="265.8" cy="162.6" r="1.5" fill="#5c5dde"/><circle cx="278.9" cy="165.2" r="1.5" fill="#008bfb"/><circle cx="268.1" cy="165.2" r="1.5" fill="#744fd1"/><circle cx="267.7" cy="161.3" r="1.5" fill="#b10fa5"/><circle cx="271.4" cy="166.5" r="1.5" fill="#007af4"/><circle cx="269.2" cy="166.5" r="1.5" fill="#007cf5"/><circle cx="215.5" cy="165.2" r="1.5" fill="#b20da4"/><circle cx="255.5" cy="162.6" r="1.5" fill="#4665e5"/><circle cx="250.5" cy="186.0" r="1.5" fill="#a51caa"/><circle cx="259.7" cy="191.6" r="1.5" fill="#c80098"/><circle cx="272.7" cy="190.5" r="1.5" fill="#9f21ac"/><circle cx="266.9" cy="184.8" r="1.5" fill="#008bfb"/><circle cx="255.9" cy="190.5" r="1.5" fill="#8146c8"/><circle cx="258.6" cy="186.0" r="1.5" fill="#ec0079"/><circle cx="267.0" cy="191.6" r="1.5" fill="#b010a5"/><circle cx="248.1" cy="188.2" r="1.5" fill="#f80068"/><circle cx="246.6" cy="187.1" r="1.5" fill="#c90097"/><circle cx="261.4" cy="188.2" r="1.5" fill="#b010a5"/><circle cx="245.0" cy="187.1" r="1.5" fill="#ac15a7"/><circle cx="277.6" cy="188.2" r="1.5" fill="#ac16a7"/><circle cx="263.5" cy="190.5" r="1.5" fill="#0088fa"/><circle cx="264.7" cy="187.1" r="1.5" fill="#b30da4"/><circle cx="282.5" cy="187.1" r="1.5" fill="#4e62e2"/><circle cx="278.5" cy="186.0" r="1.5" fill="#9036bb"/><circle cx="270.7" cy="186.0" r="1.5" fill="#008bfb"/><circle cx="238.8" cy="187.1" r="1.5" fill="#e40082"/><circle cx="265.3" cy="182.6" r="1.5" fill="#7c4acc"/><circle cx="226.2" cy="187.1" r="1.5" fill="#ff0056"/><circle cx="276.0" cy="187.1" r="1.5" fill="#6f53d5"/><circle cx="262.9" cy="186.0" r="1.5" fill="#c3009c"/><circle cx="272.6" cy="188.2" r="1.5" fill="#007df5"/><circle cx="262.9" cy="189.4" r="1.5" fill="#d5008f"/><circle cx="251.3" cy="188.2" r="1.5" fill="#e20084"/><circle cx="256.5" cy="187.1" r="1.5" fill="#d10092"/><circle cx="232.7" cy="187.1" r="1.5" fill="#ff0058"/><circle cx="266.5" cy="183.7" r="1.5" fill="#ce0094"/><circle cx="273.7" cy="187.1" r="1.5" fill="#7450d2"/><circle cx="278.0" cy="187.1" r="1.5" fill="#a71ba9"/><circle cx="257.1" cy="183.7" r="1.5" fill="#9234b9"/><circle cx="256.8" cy="186.0" r="1.5" fill="#9f21ac"/><circle cx="274.0" cy="188.2" r="1.5" fill="#008bfb"/><circle cx="241.5" cy="187.1" r="1.5" fill="#ee0077"/><circle cx="239.6" cy="187.1" r="1.5" fill="#db008a"/><circle cx="264.1" cy="187.1" r="1.5" fill="#8047ca"/><circle cx="262.8" cy="186.0" r="1.5" fill="#007ff6"/><circle cx="276.5" cy="188.2" r="1.5" fill="#7d49cc"/><circle cx="262.9" cy="192.7" r="1.5" fill="#4366e5"/><circle cx="267.0" cy="186.0" r="1.5" fill="#1a6deb"/><circle cx="264.2" cy="186.0" r="1.5" fill="#784dcf"/><circle cx="273.0" cy="186.0" r="1.5" fill="#4a63e3"/><circle cx="244.2" cy="187.1" r="1.5" fill="#f80069"/><circle cx="270.4" cy="184.8" r="1.5" fill="#008bfb"/><circle cx="278.9" cy="188.2" r="1.5" fill="#962eb4"/><circle cx="267.2" cy="182.6" r="1.5" fill="#ff0051"/><circle cx="266.2" cy="184.8" r="1.5" fill="#6658d9"/><circle cx="272.0" cy="184.8" r="1.5" fill="#ce0094"/><circle cx="267.0" cy="188.2" r="1.5" fill="#007cf5"/><circle cx="271.5" cy="188.2" r="1.5" fill="#008bfb"/><circle cx="250.3" cy="187.1" r="1.5" fill="#d5008f"/><circle cx="279.6" cy="187.1" r="1.5" fill="#b40aa3"/><circle cx="260.5" cy="189.4" r="1.5" fill="#286cea"/><circle cx="268.3" cy="188.2" r="1.5" fill="#5f5bdc"/><circle cx="270.9" cy="183.7" r="1.5" fill="#008bfb"/><circle cx="252.7" cy="187.1" r="1.5" fill="#9f21ac"/><circle cx="270.6" cy="190.5" r="1.5" fill="#0083f8"/><circle cx="264.4" cy="188.2" r="1.5" fill="#ff0051"/><circle cx="268.9" cy="188.2" r="1.5" fill="#9a25ae"/><circle cx="267.6" cy="187.1" r="1.5" fill="#008bfb"/><circle cx="249.8" cy="188.2" r="1.5" fill="#d9008c"/><circle cx="280.1" cy="186.0" r="1.5" fill="#7a4cce"/><circle cx="252.8" cy="188.2" r="1.5" fill="#ff0051"/><circle cx="258.6" cy="189.4" r="1.5" fill="#f6006c"/><circle cx="260.8" cy="186.0" r="1.5" fill="#4266e6"/><circle cx="259.8" cy="183.7" r="1.5" fill="#585edf"/><circle cx="272.2" cy="186.0" r="1.5" fill="#e40082"/><circle cx="265.7" cy="183.7" r="1.5" fill="#6658d9"/><circle cx="271.2" cy="189.4" r="1.5" fill="#9431b7"/><circle cx="263.2" cy="181.5" r="1.5" fill="#a71ba9"/><circle cx="257.2" cy="182.6" r="1.5" fill="#0080f7"/><circle cx="267.3" cy="188.2" r="1.5" fill="#0073f0"/><circle cx="234.0" cy="187.1" r="1.5" fill="#fd0060"/><circle cx="231.9" cy="187.1" r="1.5" fill="#ff005b"/><circle cx="260.1" cy="184.8" r="1.5" fill="#4864e4"/><circle cx="258.9" cy="188.2" r="1.5" fill="#8444c7"/><circle cx="279.0" cy="187.1" r="1.5" fill="#216deb"/><circle cx="255.1" cy="187.1" r="1.5" fill="#cb0097"/><circle cx="274.3" cy="190.5" r="1.5" fill="#008bfb"/><circle cx="237.3" cy="187.1" r="1.5" fill="#ff0055"/><circle cx="251.2" cy="188.2" r="1.5" fill="#e7007f"/><circle cx="260.6" cy="187.1" r="1.5" fill="#e10085"/><circle cx="259.6" cy="188.2" r="1.5" fill="#008bfb"/><circle cx="254.6" cy="187.1" r="1.5" fill="#d20092"/><circle cx="268.3" cy="186.0" r="1.5" fill="#008bfb"/><circle cx="276.4" cy="186.0" r="1.5" fill="#c6009a"/><circle cx="264.1" cy="189.4" r="1.5" fill="#6459da"/><circle cx="252.5" cy="189.4" r="1.5" fill="#bd009f"/><circle cx="264.6" cy="183.7" r="1.5" fill="#6c55d6"/><circle cx="247.4" cy="187.1" r="1.5" fill="#c0009d"/><circle cx="257.7" cy="190.5" r="1.5" fill="#ca0097"/><circle cx="280.2" cy="190.5" r="1.5" fill="#4864e4"/><circle cx="218.9" cy="187.1" r="1.5" fill="#ff0052"/><circle cx="258.3" cy="188.2" r="1.5" fill="#d7008d"/><circle cx="265.3" cy="191.6" r="1.5" fill="#b40aa3"/><circle cx="259.7" cy="187.1" r="1.5" fill="#3e67e6"/><circle cx="258.4" cy="187.1" r="1.5" fill="#d40090"/><circle cx="262.0" cy="184.8" r="1.5" fill="#246cea"/><circle cx="261.3" cy="187.1" r="1.5" fill="#7b4bcd"/><circle cx="273.7" cy="191.6" r="1.5" fill="#7151d3"/><circle cx="256.6" cy="184.8" r="1.5" fill="#bc009f"/><circle cx="262.0" cy="191.6" r="1.5" fill="#007df6"/><circle cx="257.4" cy="188.2" r="1.5" fill="#fd0060"/><circle cx="266.2" cy="187.1" r="1.5" fill="#008bfb"/><circle cx="256.8" cy="188.2" r="1.5" fill="#c70099"/><circle cx="267.3" cy="189.4" r="1.5" fill="#226deb"/><circle cx="283.0" cy="187.1" r="1.5" fill="#0079f3"/><circle cx="266.5" cy="187.1" r="1.5" fill="#cf0093"/><circle cx="263.3" cy="189.4" r="1.5" fill="#0081f8"/><circle cx="241.4" cy="186.0" r="1.5" fill="#f30071"/><circle cx="255.6" cy="187.1" r="1.5" fill="#008bfb"/><circle cx="263.4" cy="188.2" r="1.5" fill="#fa0065"/><circle cx="284.6" cy="187.1" r="1.5" fill="#0089fa"/><circle cx="276.5" cy="189.4" r="1.5" fill="#8146c9"/><circle cx="245.7" cy="187.1" r="1.5" fill="#8542c5"/><circle cx="274.3" cy="186.0" r="1.5" fill="#e50081"/><circle cx="264.9" cy="190.5" r="1.5" fill="#206deb"/><circle cx="260.2" cy="182.6" r="1.5" fill="#c4009b"/><circle cx="274.4" cy="183.7" r="1.5" fill="#625adb"/><circle cx="263.3" cy="183.7" r="1.5" fill="#a919a8"/><circle cx="259.8" cy="192.7" r="1.5" fill="#0080f7"/><circle cx="252.7" cy="184.8" r="1.5" fill="#9333b8"/><circle cx="263.6" cy="193.9" r="1.5" fill="#0077f2"/><circle cx="279.1" cy="190.5" r="1.5" fill="#3e67e6"/><circle cx="265.3" cy="181.5" r="1.5" fill="#fb0064"/><circle cx="272.0" cy="184.8" r="1.5" fill="#c4009b"/><circle cx="242.6" cy="187.1" r="1.5" fill="#fd005e"/><circle cx="239.0" cy="188.2" r="1.5" fill="#f30070"/><circle cx="261.9" cy="182.6" r="1.5" fill="#3e67e6"/><circle cx="257.5" cy="187.1" r="1.5" fill="#9d22ad"/><circle cx="241.1" cy="187.1" r="1.5" fill="#f5006d"/><circle cx="252.9" cy="186.0" r="1.5" fill="#ca0097"/><circle cx="255.9" cy="189.4" r="1.5" fill="#008bfb"/><circle cx="255.9" cy="186.0" r="1.5" fill="#8c3bbf"/><circle cx="266.8" cy="189.4" r="1.5" fill="#f6006b"/><circle cx="264.7" cy="186.0" r="1.5" fill="#6857d8"/><circle cx="255.6" cy="183.7" r="1.5" fill="#008bfb"/><circle cx="265.6" cy="188.2" r="1.5" fill="#008bfb"/><circle cx="285.1" cy="188.2" r="1.5" fill="#4266e6"/><circle cx="273.7" cy="187.1" r="1.5" fill="#008bfb"/><circle cx="267.8" cy="183.7" r="1.5" fill="#0089fa"/><circle cx="261.9" cy="183.7" r="1.5" fill="#e30082"/><circle cx="272.2" cy="187.1" r="1.5" fill="#008bfb"/><circle cx="251.1" cy="187.1" r="1.5" fill="#ff0051"/><circle cx="261.6" cy="190.5" r="1.5" fill="#007ef6"/><circle cx="253.7" cy="187.1" r="1.5" fill="#754fd1"/><circle cx="258.7" cy="184.8" r="1.5" fill="#6558da"/><circle cx="272.9" cy="189.4" r="1.5" fill="#008bfb"/><circle cx="261.1" cy="184.8" r="1.5" fill="#4c63e3"/><circle cx="259.4" cy="184.8" r="1.5" fill="#8642c5"/><circle cx="261.7" cy="189.4" r="1.5" fill="#794dcf"/><circle cx="271.7" cy="186.0" r="1.5" fill="#ec0079"/><circle cx="202.7" cy="187.1" r="1.5" fill="#fd0060"/><circle cx="279.9" cy="184.8" r="1.5" fill="#af12a6"/><circle cx="259.3" cy="189.4" r="1.5" fill="#ab16a7"/><circle cx="242.2" cy="188.2" r="1.5" fill="#ff0051"/><circle cx="254.7" cy="188.2" r="1.5" fill="#f3006f"/><circle cx="241.9" cy="188.2" r="1.5" fill="#e00086"/><circle cx="279.6" cy="188.2" r="1.5" fill="#0082f8"/><circle cx="270.8" cy="187.1" r="1.5" fill="#ac15a7"/><circle cx="265.9" cy="191.6" r="1.5" fill="#cd0095"/><circle cx="279.5" cy="189.4" r="1.5" fill="#c60099"/><circle cx="257.5" cy="186.0" r="1.5" fill="#ba00a0"/><circle cx="261.9" cy="186.0" r="1.5" fill="#4964e4"/><circle cx="262.4" cy="187.1" r="1.5" fill="#008bfb"/><circle cx="268.8" cy="187.1" r="1.5" fill="#d9008c"/><circle cx="259.7" cy="190.5" r="1.5" fill="#5c5ddd"/><circle cx="274.5" cy="187.1" r="1.5" fill="#625adb"/><circle cx="273.8" cy="189.4" r="1.5" fill="#774ed0"/><circle cx="240.4" cy="187.1" r="1.5" fill="#f6006c"/><circle cx="273.2" cy="188.2" r="1.5" fill="#0071ee"/><circle cx="261.2" cy="188.2" r="1.5" fill="#f4006e"/><circle cx="278.0" cy="188.2" r="1.5" fill="#0074f0"/><circle cx="267.9" cy="189.4" r="1.5" fill="#0076f1"/><circle cx="259.5" cy="186.0" r="1.5" fill="#893fc2"/><circle cx="257.2" cy="191.6" r="1.5" fill="#8641c5"/><circle cx="267.7" cy="191.6" r="1.5" fill="#008bfb"/><circle cx="270.5" cy="188.2" r="1.5" fill="#8c3bbf"/><circle cx="259.2" cy="190.5" r="1.5" fill="#bd009f"/><circle cx="265.8" cy="189.4" r="1.5" fill="#e20084"/><circle cx="272.5" cy="189.4" r="1.5" fill="#1f6deb"/><circle cx="265.1" cy="192.7" r="1.5" fill="#5d5cdd"/><circle cx="246.5" cy="186.0" r="1.5" fill="#9a27af"/><circle cx="263.2" cy="191.6" r="1.5" fill="#008bfb"/><circle cx="265.0" cy="184.8" r="1.5" fill="#e9007d"/><circle cx="248.3" cy="186.0" r="1.5" fill="#cb0096"/><circle cx="271.9" cy="187.1" r="1.5" fill="#008bfb"/><circle cx="253.2" cy="188.2" r="1.5" fill="#784dcf"/><circle cx="264.6" cy="193.9" r="1.5" fill="#007df5"/><circle cx="273.8" cy="184.8" r="1.5" fill="#0073f0"/><circle cx="256.3" cy="189.4" r="1.5" fill="#ee0076"/><circle cx="263.6" cy="184.8" r="1.5" fill="#8d3abe"/><circle cx="270.1" cy="188.2" r="1.5" fill="#007cf5"/><circle cx="257.6" cy="192.7" r="1.5" fill="#6658d9"/><circle cx="269.5" cy="184.8" r="1.5" fill="#0077f2"/><circle cx="269.9" cy="187.1" r="1.5" fill="#2f6ae9"/><circle cx="269.4" cy="186.0" r="1.5" fill="#2b6bea"/><circle cx="272.9" cy="184.8" r="1.5" fill="#226deb"/><circle cx="249.7" cy="186.0" r="1.5" fill="#f6006b"/><circle cx="240.4" cy="188.2" r="1.5" fill="#e10085"/><circle cx="280.3" cy="189.4" r="1.5" fill="#0078f3"/><circle cx="265.3" cy="189.4" r="1.5" fill="#0072ef"/><circle cx="266.1" cy="186.0" r="1.5" fill="#8047ca"/><circle cx="268.5" cy="187.1" r="1.5" fill="#0086fa"/><circle cx="260.2" cy="181.5" r="1.5" fill="#ff0051"/><circle cx="280.7" cy="188.2" r="1.5" fill="#ae14a6"/><circle cx="278.9" cy="186.0" r="1.5" fill="#007ff7"/><circle cx="255.8" cy="184.8" r="1.5" fill="#f4006f"/><circle cx="251.4" cy="187.1" r="1.5" fill="#ff0058"/><circle cx="259.9" cy="189.4" r="1.5" fill="#972bb2"/><circle cx="267.9" cy="184.8" r="1.5" fill="#d9008c"/><circle cx="259.7" cy="186.0" r="1.5" fill="#4d62e3"/><circle cx="267.4" cy="184.8" r="1.5" fill="#3c67e7"/><circle cx="263.7" cy="187.1" r="1.5" fill="#ff0051"/><circle cx="271.7" cy="189.4" r="1.5" fill="#784dcf"/><circle cx="246.9" cy="189.4" r="1.5" fill="#cc0096"/><circle cx="279.2" cy="184.8" r="1.5" fill="#565fe0"/><circle cx="264.9" cy="188.2" r="1.5" fill="#ff0055"/><circle cx="275.6" cy="188.2" r="1.5" fill="#4d63e3"/><circle cx="257.7" cy="189.4" r="1.5" fill="#da008b"/><circle cx="285.3" cy="186.0" r="1.5" fill="#007df5"/><circle cx="265.7" cy="190.5" r="1.5" fill="#e9007c"/><circle cx="263.4" cy="182.6" r="1.5" fill="#0074f0"/><circle cx="255.5" cy="188.2" r="1.5" fill="#a020ac"/><circle cx="266.4" cy="190.5" r="1.5" fill="#5b5dde"/><circle cx="257.4" cy="184.8" r="1.5" fill="#5460e0"/><circle cx="285.7" cy="187.1" r="1.5" fill="#605bdc"/><circle cx="259.1" cy="187.1" r="1.5" fill="#8e39bd"/><circle cx="267.8" cy="186.0" r="1.5" fill="#615bdc"/><circle cx="277.5" cy="187.1" r="1.5" fill="#8840c3"/><circle cx="259.5" cy="183.7" r="1.5" fill="#eb007b"/><circle cx="269.2" cy="189.4" r="1.5" fill="#326ae9"/><circle cx="280.7" cy="187.1" r="1.5" fill="#007af4"/><circle cx="276.9" cy="187.1" r="1.5" fill="#e50081"/><circle cx="267.5" cy="190.5" r="1.5" fill="#ff0051"/><circle cx="262.6" cy="188.2" r="1.5" fill="#3b68e7"/><circle cx="246.7" cy="188.2" r="1.5" fill="#bf009e"/><circle cx="274.0" cy="182.6" r="1.5" fill="#d10092"/><circle cx="248.0" cy="187.1" r="1.5" fill="#9c23ad"/><circle cx="260.6" cy="207.7" r="1.5" fill="#fe005d"/><circle cx="274.9" cy="207.7" r="1.5" fill="#0078f2"/><circle cx="265.5" cy="203.7" r="1.5" fill="#9f21ac"/><circle cx="256.4" cy="210.3" r="1.5" fill="#3968e7"/><circle cx="262.5" cy="210.3" r="1.5" fill="#c4009b"/><circle cx="267.8" cy="207.7" r="1.5" fill="#d8008d"/><circle cx="250.9" cy="206.4" r="1.5" fill="#4765e4"/><circle cx="257.6" cy="207.7" r="1.5" fill="#0080f7"/><circle cx="263.9" cy="206.4" r="1.5" fill="#ff0051"/><circle cx="284.9" cy="206.4" r="1.5" fill="#8b3cc0"/><circle cx="243.7" cy="210.3" r="1.5" fill="#008bfb"/><circle cx="266.9" cy="211.6" r="1.5" fill="#3a68e7"/><circle cx="272.3" cy="205.1" r="1.5" fill="#8443c6"/><circle cx="257.6" cy="206.4" r="1.5" fill="#d6008e"/><circle cx="243.5" cy="207.7" r="1.5" fill="#0081f7"/><circle cx="271.2" cy="207.7" r="1.5" fill="#5560e0"/><circle cx="252.9" cy="210.3" r="1.5" fill="#605bdc"/><circle cx="255.6" cy="209.0" r="1.5" fill="#7152d4"/><circle cx="242.5" cy="209.0" r="1.5" fill="#0086fa"/><circle cx="256.7" cy="206.4" r="1.5" fill="#5161e1"/><circle cx="256.6" cy="210.3" r="1.5" fill="#a41daa"/><circle cx="260.6" cy="203.7" r="1.5" fill="#595edf"/><circle cx="279.6" cy="209.0" r="1.5" fill="#962eb4"/><circle cx="245.4" cy="209.0" r="1.5" fill="#0085f9"/><circle cx="262.1" cy="212.9" r="1.5" fill="#c70099"/><circle cx="274.8" cy="211.6" r="1.5" fill="#5e5cdd"/><circle cx="260.3" cy="206.4" r="1.5" fill="#8740c4"/><circle cx="271.7" cy="212.9" r="1.5" fill="#8b3cc0"/><circle cx="250.2" cy="207.7" r="1.5" fill="#a020ab"/><circle cx="261.1" cy="207.7" r="1.5" fill="#5062e2"/><circle cx="250.4" cy="209.0" r="1.5" fill="#008bfb"/><circle cx="258.2" cy="211.6" r="1.5" fill="#ce0094"/><circle cx="264.9" cy="207.7" r="1.5" fill="#ff0051"/><circle cx="257.4" cy="212.9" r="1.5" fill="#4665e5"/><circle cx="272.3" cy="211.6" r="1.5" fill="#ff0058"/><circle cx="274.3" cy="210.3" r="1.5" fill="#da008b"/><circle cx="251.1" cy="210.3" r="1.5" fill="#982ab2"/><circle cx="244.8" cy="209.0" r="1.5" fill="#0073f0"/><circle cx="265.5" cy="212.9" r="1.5" fill="#c4009b"/><circle cx="265.5" cy="206.4" r="1.5" fill="#cb0097"/><circle cx="253.6" cy="209.0" r="1.5" fill="#0079f3"/><circle cx="263.5" cy="210.3" r="1.5" fill="#008bfb"/><circle cx="242.6" cy="207.7" r="1.5" fill="#0084f9"/><circle cx="269.0" cy="210.3" r="1.5" fill="#ff0051"/><circle cx="271.0" cy="211.6" r="1.5" fill="#ff0051"/><circle cx="265.9" cy="206.4" r="1.5" fill="#266cea"/><circle cx="271.5" cy="210.3" r="1.5" fill="#8146c9"/><circle cx="265.9" cy="210.3" r="1.5" fill="#008bfb"/><circle cx="267.9" cy="209.0" r="1.5" fill="#962db4"/><circle cx="262.9" cy="209.0" r="1.5" fill="#ce0094"/><circle cx="274.2" cy="207.7" r="1.5" fill="#e8007e"/><circle cx="253.5" cy="210.3" r="1.5" fill="#b902a1"/><circle cx="255.3" cy="207.7" r="1.5" fill="#4765e4"/><circle cx="271.7" cy="207.7" r="1.5" fill="#ac16a7"/><circle cx="260.8" cy="209.0" r="1.5" fill="#6459da"/><circle cx="260.4" cy="210.3" r="1.5" fill="#c80099"/><circle cx="262.4" cy="207.7" r="1.5" fill="#f4006f"/><circle cx="275.4" cy="209.0" r="1.5" fill="#df0087"/><circle cx="260.0" cy="211.6" r="1.5" fill="#7d49cc"/><circle cx="260.5" cy="211.6" r="1.5" fill="#ae13a6"/><circle cx="270.8" cy="205.1" r="1.5" fill="#f7006a"/><circle cx="284.7" cy="211.6" r="1.5" fill="#ee0077"/><circle cx="267.6" cy="209.0" r="1.5" fill="#ec0079"/><circle cx="259.8" cy="207.7" r="1.5" fill="#e30082"/><circle cx="246.8" cy="209.0" r="1.5" fill="#5d5cdd"/><circle cx="279.7" cy="209.0" r="1.5" fill="#e8007e"/><circle cx="228.1" cy="209.0" r="1.5" fill="#0087fa"/><circle cx="254.7" cy="210.3" r="1.5" fill="#be009e"/><circle cx="249.8" cy="211.6" r="1.5" fill="#9332b8"/><circle cx="259.0" cy="209.0" r="1.5" fill="#e10085"/><circle cx="243.0" cy="211.6" r="1.5" fill="#0089fa"/><circle cx="269.5" cy="210.3" r="1.5" fill="#7450d2"/><circle cx="264.6" cy="210.3" r="1.5" fill="#4c63e3"/><circle cx="270.9" cy="210.3" r="1.5" fill="#b509a3"/><circle cx="268.1" cy="210.3" r="1.5" fill="#a919a8"/><circle cx="274.2" cy="211.6" r="1.5" fill="#db008a"/><circle cx="257.9" cy="210.3" r="1.5" fill="#008bfb"/><circle cx="258.9" cy="211.6" r="1.5" fill="#982bb2"/><circle cx="222.1" cy="209.0" r="1.5" fill="#0084f9"/><circle cx="257.6" cy="210.3" r="1.5" fill="#7351d3"/><circle cx="271.4" cy="209.0" r="1.5" fill="#f5006e"/><circle cx="278.4" cy="207.7" r="1.5" fill="#f10073"/><circle cx="246.7" cy="210.3" r="1.5" fill="#007ef6"/><circle cx="274.7" cy="210.3" r="1.5" fill="#f90067"/><circle cx="249.5" cy="210.3" r="1.5" fill="#4c63e3"/><circle cx="243.8" cy="209.0" r="1.5" fill="#007bf4"/><circle cx="257.1" cy="203.7" r="1.5" fill="#b902a1"/><circle cx="256.2" cy="211.6" r="1.5" fill="#6a56d7"/><circle cx="249.0" cy="209.0" r="1.5" fill="#5a5ede"/><circle cx="269.3" cy="209.0" r="1.5" fill="#ef0075"/><circle cx="249.6" cy="207.7" r="1.5" fill="#9036bb"/><circle cx="262.0" cy="211.6" r="1.5" fill="#b30ca4"/><circle cx="265.3" cy="211.6" r="1.5" fill="#a61ca9"/><circle cx="258.2" cy="212.9" r="1.5" fill="#fa0066"/><circle cx="262.0" cy="206.4" r="1.5" fill="#b40ba3"/><circle cx="256.8" cy="207.7" r="1.5" fill="#ae13a6"/><circle cx="275.2" cy="210.3" r="1.5" fill="#764ed1"/><circle cx="259.8" cy="209.0" r="1.5" fill="#d10092"/><circle cx="260.4" cy="210.3" r="1.5" fill="#ff0056"/><circle cx="275.0" cy="209.0" r="1.5" fill="#8d3abe"/><circle cx="266.5" cy="212.9" r="1.5" fill="#952fb5"/><circle cx="270.9" cy="212.9" r="1.5" fill="#e00086"/><circle cx="255.8" cy="207.7" r="1.5" fill="#c6009a"/><circle cx="260.5" cy="206.4" r="1.5" fill="#e50080"/><circle cx="274.0" cy="206.4" r="1.5" fill="#008bfb"/><circle cx="278.4" cy="210.3" r="1.5" fill="#c6009a"/><circle cx="254.5" cy="211.6" r="1.5" fill="#7251d3"/><circle cx="265.7" cy="214.3" r="1.5" fill="#ef0075"/><circle cx="268.2" cy="206.4" r="1.5" fill="#de0088"/><circle cx="260.8" cy="212.9" r="1.5" fill="#a819a8"/><circle cx="256.4" cy="209.0" r="1.5" fill="#ad15a7"/><circle cx="269.4" cy="207.7" r="1.5" fill="#5061e2"/><circle cx="263.6" cy="207.7" r="1.5" fill="#8344c7"/><circle cx="263.2" cy="209.0" r="1.5" fill="#008bfb"/><circle cx="240.6" cy="209.0" r="1.5" fill="#0075f1"/><circle cx="268.0" cy="211.6" r="1.5" fill="#0083f8"/><circle cx="251.0" cy="211.6" r="1.5" fill="#6a56d7"/><circle cx="252.0" cy="207.7" r="1.5" fill="#ed0077"/><circle cx="264.0" cy="211.6" r="1.5" fill="#8146c9"/><circle cx="264.3" cy="209.0" r="1.5" fill="#ee0077"/><circle cx="250.5" cy="209.0" r="1.5" fill="#8840c3"/><circle cx="252.1" cy="211.6" r="1.5" fill="#206deb"/><circle cx="268.3" cy="212.9" r="1.5" fill="#b704a2"/><circle cx="269.0" cy="211.6" r="1.5" fill="#9332b8"/><circle cx="241.6" cy="210.3" r="1.5" fill="#007df6"/><circle cx="256.7" cy="209.0" r="1.5" fill="#8c3cc0"/><circle cx="273.9" cy="209.0" r="1.5" fill="#ed0078"/><circle cx="250.9" cy="207.7" r="1.5" fill="#6857d8"/><circle cx="254.3" cy="210.3" r="1.5" fill="#007df5"/><circle cx="265.7" cy="210.3" r="1.5" fill="#bd009f"/><circle cx="271.4" cy="211.6" r="1.5" fill="#962eb5"/><circle cx="251.4" cy="207.7" r="1.5" fill="#6957d8"/><circle cx="276.2" cy="209.0" r="1.5" fill="#0075f1"/><circle cx="264.0" cy="210.3" r="1.5" fill="#236ceb"/><circle cx="281.6" cy="210.3" r="1.5" fill="#8146c8"/><circle cx="257.9" cy="206.4" r="1.5" fill="#008bfb"/><circle cx="258.4" cy="206.4" r="1.5" fill="#c70099"/><circle cx="243.4" cy="209.0" r="1.5" fill="#007ef6"/><circle cx="262.1" cy="210.3" r="1.5" fill="#d6008f"/><circle cx="261.4" cy="210.3" r="1.5" fill="#8e39bd"/><circle cx="270.4" cy="206.4" r="1.5" fill="#ff0051"/><circle cx="257.8" cy="209.0" r="1.5" fill="#8344c7"/><circle cx="254.6" cy="209.0" r="1.5" fill="#a71ba9"/><circle cx="272.2" cy="209.0" r="1.5" fill="#e30083"/><circle cx="261.1" cy="211.6" r="1.5" fill="#6359db"/><circle cx="270.5" cy="209.0" r="1.5" fill="#962db4"/><circle cx="260.8" cy="205.1" r="1.5" fill="#aa18a8"/><circle cx="269.0" cy="207.7" r="1.5" fill="#ff0051"/><circle cx="285.0" cy="209.0" r="1.5" fill="#8a3dc1"/><circle cx="281.7" cy="209.0" r="1.5" fill="#7151d3"/><circle cx="246.3" cy="209.0" r="1.5" fill="#007ff7"/><circle cx="267.4" cy="211.6" r="1.5" fill="#7052d4"/><circle cx="268.0" cy="205.1" r="1.5" fill="#2d6be9"/><circle cx="254.1" cy="209.0" r="1.5" fill="#7f47ca"/><circle cx="240.7" cy="210.3" r="1.5" fill="#0083f8"/><circle cx="255.3" cy="210.3" r="1.5" fill="#7d49cc"/><circle cx="252.4" cy="206.4" r="1.5" fill="#5f5bdc"/><circle cx="266.7" cy="207.7" r="1.5" fill="#c90098"/><circle cx="266.8" cy="206.4" r="1.5" fill="#8e39bd"/><circle cx="263.7" cy="207.7" r="1.5" fill="#8c3bbf"/><circle cx="265.7" cy="211.6" r="1.5" fill="#ff0058"/><circle cx="265.8" cy="207.7" r="1.5" fill="#1f6deb"/><circle cx="241.6" cy="211.6" r="1.5" fill="#007df5"/><circle cx="252.3" cy="210.3" r="1.5" fill="#7251d3"/><circle cx="242.3" cy="209.0" r="1.5" fill="#006fed"/><circle cx="265.1" cy="205.1" r="1.5" fill="#b012a5"/><circle cx="278.7" cy="209.0" r="1.5" fill="#8146c9"/><circle cx="258.3" cy="214.3" r="1.5" fill="#008bfb"/><circle cx="278.3" cy="209.0" r="1.5" fill="#008bfb"/><circle cx="245.7" cy="210.3" r="1.5" fill="#7450d2"/><circle cx="270.9" cy="207.7" r="1.5" fill="#be009e"/><circle cx="258.8" cy="210.3" r="1.5" fill="#fd0060"/><circle cx="252.7" cy="209.0" r="1.5" fill="#6359db"/><circle cx="269.1" cy="212.9" r="1.5" fill="#4f62e2"/><circle cx="264.4" cy="209.0" r="1.5" fill="#9430b6"/><circle cx="252.7" cy="207.7" r="1.5" fill="#3469e8"/><circle cx="247.1" cy="209.0" r="1.5" fill="#0071ee"/><circle cx="257.5" cy="205.1" r="1.5" fill="#007bf4"/><circle cx="261.7" cy="209.0" r="1.5" fill="#ff0051"/><circle cx="268.6" cy="209.0" r="1.5" fill="#c1009d"/><circle cx="266.4" cy="210.3" r="1.5" fill="#fd005f"/><circle cx="244.4" cy="210.3" r="1.5" fill="#0088fa"/><circle cx="259.0" cy="207.7" r="1.5" fill="#7e49cb"/><circle cx="263.5" cy="211.6" r="1.5" fill="#7e49cb"/><circle cx="283.7" cy="209.0" r="1.5" fill="#a919a8"/><circle cx="269.8" cy="207.7" r="1.5" fill="#a020ac"/><circle cx="267.1" cy="210.3" r="1.5" fill="#6e54d5"/><circle cx="254.9" cy="207.7" r="1.5" fill="#0076f1"/><circle cx="257.6" cy="209.0" r="1.5" fill="#f6006c"/><circle cx="273.2" cy="209.0" r="1.5" fill="#625adb"/><circle cx="260.9" cy="214.3" r="1.5" fill="#246cea"/><circle cx="267.5" cy="207.7" r="1.5" fill="#6f53d4"/><circle cx="257.1" cy="214.3" r="1.5" fill="#ff0051"/><circle cx="271.1" cy="206.4" r="1.5" fill="#9928b0"/><circle cx="284.4" cy="210.3" r="1.5" fill="#fb0063"/><circle cx="261.5" cy="209.0" r="1.5" fill="#c70099"/><circle cx="257.4" cy="211.6" r="1.5" fill="#007df6"/><circle cx="257.9" cy="205.1" r="1.5" fill="#db008a"/><circle cx="260.4" cy="215.6" r="1.5" fill="#c2009c"/><circle cx="253.8" cy="207.7" r="1.5" fill="#0079f3"/><circle cx="266.2" cy="212.9" r="1.5" fill="#cc0096"/><circle cx="264.8" cy="211.6" r="1.5" fill="#625adb"/><circle cx="249.1" cy="209.0" r="1.5" fill="#4e62e2"/><circle cx="245.5" cy="207.7" r="1.5" fill="#0b6fec"/><circle cx="288.7" cy="209.0" r="1.5" fill="#ff0057"/><circle cx="271.9" cy="206.4" r="1.5" fill="#df0087"/><circle cx="261.1" cy="206.4" r="1.5" fill="#7251d3"/><circle cx="282.4" cy="210.3" r="1.5" fill="#f90067"/><circle cx="270.2" cy="210.3" r="1.5" fill="#982ab1"/><circle cx="271.8" cy="214.3" r="1.5" fill="#ac16a7"/><circle cx="258.2" cy="203.7" r="1.5" fill="#0079f3"/><circle cx="241.6" cy="209.0" r="1.5" fill="#008bfb"/><circle cx="266.0" cy="209.0" r="1.5" fill="#4b63e3"/><circle cx="259.4" cy="210.3" r="1.5" fill="#c4009b"/><circle cx="269.6" cy="206.4" r="1.5" fill="#952fb5"/><circle cx="271.8" cy="210.3" r="1.5" fill="#8b3dc0"/><circle cx="250.4" cy="210.3" r="1.5" fill="#4565e5"/><circle cx="284.7" cy="207.7" r="1.5" fill="#ce0094"/><circle cx="259.0" cy="212.9" r="1.5" fill="#9332b8"/><circle cx="259.3" cy="209.0" r="1.5" fill="#c70099"/><circle cx="266.8" cy="209.0" r="1.5" fill="#ba00a0"/><circle cx="256.4" cy="211.6" r="1.5" fill="#2d6be9"/><circle cx="272.8" cy="209.0" r="1.5" fill="#4266e6"/><circle cx="253.8" cy="211.6" r="1.5" fill="#6b55d7"/><circle cx="269.9" cy="209.0" r="1.5" fill="#7e48cb"/><circle cx="265.3" cy="209.0" r="1.5" fill="#ff0051"/><circle cx="269.6" cy="211.6" r="1.5" fill="#9e21ac"/><circle cx="240.1" cy="209.0" r="1.5" fill="#4166e6"/><circle cx="282.8" cy="209.0" r="1.5" fill="#e50081"/><circle cx="278.3" cy="210.3" r="1.5" fill="#774ed0"/><circle cx="242.5" cy="210.3" r="1.5" fill="#007ff7"/><circle cx="257.9" cy="207.7" r="1.5" fill="#0083f8"/><circle cx="250.2" cy="210.3" r="1.5" fill="#f20072"/><circle cx="241.6" cy="207.7" r="1.5" fill="#007ef6"/><circle cx="252.4" cy="209.0" r="1.5" fill="#6e54d5"/><circle cx="272.7" cy="210.3" r="1.5" fill="#007bf5"/><circle cx="251.6" cy="209.0" r="1.5" fill="#9036bb"/><circle cx="248.3" cy="209.0" r="1.5" fill="#0070ed"/><circle cx="265.1" cy="207.7" r="1.5" fill="#7152d4"/><circle cx="282.1" cy="209.0" r="1.5" fill="#e50081"/></g>
<g><rect x="496.50" y="17.60" width="10.78" height="8.74" fill="#f9fb15" stroke="#333" stroke-opacity="0.45" stroke-width="0.5"/><rect x="507.27" y="17.60" width="10.78" height="8.74" fill="#474eed" stroke="#333" stroke-opacity="0.45" stroke-width="0.5"/><rect x="518.05" y="17.60" width="10.78" height="8.74" fill="#e3b92e" stroke="#333" stroke-opacity="0.45" stroke-width="0.5"/><rect x="528.83" y="17.60" width="10.78" height="8.74" fill="#17b5cd" stroke="#333" stroke-opacity="0.45" stroke-width="0.5"/><rect x="539.60" y="17.60" width="10.78" height="8.74" fill="#4133be" stroke="#333" stroke-opacity="0.45" stroke-width="0.5"/><rect x="550.38" y="17.60" width="10.78" height="8.74" fill="#347af6" stroke="#333" stroke-opacity="0.45" stroke-width="0.5"/><rect x="561.15" y="17.60" width="10.78" height="8.74" fill="#17b5cd" stroke="#333" stroke-opacity="0.45" stroke-width="0.5"/><rect x="571.92" y="17.60" width="10.78" height="8.74" fill="#474eed" stroke="#333" stroke-opacity="0.45" stroke-width="0.5"/><rect x="582.70" y="17.60" width="10.78" height="8.74" fill="#e3b92e" stroke="#333" stroke-opacity="0.45" stroke-width="0.5"/><rect x="593.48" y="17.60" width="10.78" height="8.74" fill="#f9d728" stroke="#333" stroke-opacity="0.45" stroke-width="0.5"/><rect x="604.25" y="17.60" width="10.78" height="8.74" fill="#e3b92e" stroke="#333" stroke-opacity="0.45" stroke-width="0.5"/><rect x="615.02" y="17.60" width="10.78" height="8.74" fill="#d7bb30" stroke="#333" stroke-opacity="0.45" stroke-width="0.5"/><rect x="625.80" y="17.60" width="10.78" height="8.74" fill="#fcc233" stroke="#333" stroke-opacity="0.45" stroke-width="0.5"/><rect x="636.58" y="17.60" width="10.78" height="8.74" fill="#f5bc33" stroke="#333" stroke-opacity="0.45" stroke-width="0.5"/><rect x="647.35" y="17.60" width="10.78" height="8.74" fill="#474eed" stroke="#333" stroke-opacity="0.45" stroke-width="0.5"/><rect x="658.12" y="17.60" width="10.78" height="8.74" fill="#f5bc33" stroke="#333" stroke-opacity="0.45" stroke-width="0.5"/><rect x="668.90" y="17.60" width="10.78" height="8.74" fill="#f9e421" stroke="#333" stroke-opacity="0.45" stroke-width="0.5"/><rect x="679.67" y="17.60" width="10.78" height="8.74" fill="#474eed" stroke="#333" stroke-opacity="0.45" stroke-width="0.5"/><rect x="690.45" y="17.60" width="10.78" height="8.74" fill="#433fd3" stroke="#333" stroke-opacity="0.45" stroke-width="0.5"/><rect x="701.23" y="17.60" width="10.78" height="8.74" fill="#f9fb15" stroke="#333" stroke-opacity="0.45" stroke-width="0.5"/><rect x="496.50" y="26.34" width="10.78" height="8.74" fill="#474eed" stroke="#333" stroke-opacity="0.45" stroke-width="0.5"/><rect x="507.27" y="26.34" width="10.78" height="8.74" fill="#f9fb15" stroke="#333" stroke-opacity="0.45" stroke-width="0.5"/><rect x="518.05" y="26.34" width="10.78" height="8.74" fill="#4133be" stroke="#333" stroke-opacity="0.45" stroke-width="0.5"/><rect x="528.83" y="26.34" width="10.78" height="8.74" fill="#4133be" stroke="#333" stroke-opacity="0.45" stroke-width="0.5"/><rect x="539.60" y="26.34" width="10.78" height="8.74" fill="#4133be" stroke="#333" stroke-opacity="0.45" stroke-width="0.5"/><rect x="550.38" y="26.34" width="10.78" height="8.74" fill="#4133be" stroke="#333" stroke-opacity="0.45" stroke-width="0.5"/><rect x="561.15" y="26.34" width="10.78" height="8.74" fill="#2594ed" stroke="#333" stroke-opacity="0.45" stroke-width="0.5"/><rect x="571.92" y="26.34" width="10.78" height="8.74" fill="#4133be" stroke="#333" stroke-opacity="0.45" stroke-width="0.5"/><rect x="582.70" y="26.34" width="10.78" height="8.74" fill="#17b5cd" stroke="#333" stroke-opacity="0.45" stroke-width="0.5"/><rect x="593.48" y="26.34" width="10.78" height="8.74" fill="#347af6" stroke="#333" stroke-opacity="0.45" stroke-width="0.5"/><rect x="604.25" y="26.34" width="10.78" height="8.74" fill="#31c5a0" stroke="#333" stroke-opacity="0.45" stroke-width="0.5"/><rect x="615.02" y="26.34" width="10.78" height="8.74" fill="#474eed" stroke="#333" stroke-opacity="0.45" stroke-width="0.5"/><rect x="625.80" y="26.34" width="10.78" height="8.74" fill="#435cf5" stroke="#333" stroke-opacity="0.45" stroke-width="0.5"/><rect x="636.58" y="26.34" width="10.78" height="8.74" fill="#347af6" stroke="#333" stroke-opacity="0.45" stroke-width="0.5"/><rect x="647.35" y="26.34" width="10.78" height="8.74" fill="#17b5cd" stroke="#333" stroke-opacity="0.45" stroke-width="0.5"/><rect x="658.12" y="26.34" width="10.78" height="8.74" fill="#2b8bf4" stroke="#333" stroke-opacity="0.45" stroke-width="0.5"/><rect x="668.90" y="26.34" width="10.78" height="8.74" fill="#31c5a0" stroke="#333" stroke-opacity="0.45" stroke-width="0.5"/><rect x="679.67" y="26.34" width="10.78" height="8.74" fill="#4ec884" stroke="#333" stroke-opacity="0.45" stroke-width="0.5"/><rect x="690.45" y="26.34" width="10.78" height="8.74" fill="#e3b92e" stroke="#333" stroke-opacity="0.45" stroke-width="0.5"/><rect x="701.23" y="26.34" width="10.78" height="8.74" fill="#24bdb7" stroke="#333" stroke-opacity="0.45" stroke-width="0.5"/><rect x="496.50" y="35.08" width="10.78" height="8.74" fill="#e3b92e" stroke="#333" stroke-opacity="0.45" stroke-width="0.5"/><rect x="507.27" y="35.08" width="10.78" height="8.74" fill="#4133be" stroke="#333" stroke-opacity="0.45" stroke-width="0.5"/><rect x="518.05" y="35.08" width="10.78" height="8.74" fill="#f9fb15" stroke="#333" stroke-opacity="0.45" stroke-width="0.5"/><rect x="528.83" y="35.08" width="10.78" height="8.74" fill="#31c5a0" stroke="#333" stroke-opacity="0.45" stroke-width="0.5"/><rect x="539.60" y="35.08" width="10.78" height="8.74" fill="#2594ed" stroke="#333" stroke-opacity="0.45" stroke-width="0.5"/><rect x="550.38" y="35.08" width="10.78" height="8.74" fill="#f9fb15" stroke="#333" stroke-opacity="0.45" stroke-width="0.5"/><rect x="561.15" y="35.08" width="10.78" height="8.74" fill="#347af6" stroke="#333" stroke-opacity="0.45" stroke-width="0.5"/><rect x="571.92" y="35.08" width="10.78" height="8.74" fill="#31c5a0" stroke="#333" stroke-opacity="0.45" stroke-width="0.5"/><rect x="582.70" y="35.08" width="10.78" height="8.74" fill="#4133be" stroke="#333" stroke-opacity="0.45" stroke-width="0.5"/><rect x="593.48" y="35.08" width="10.78" height="8.74" fill="#474eed" stroke="#333" stroke-opacity="0.45" stroke-width="0.5"/><rect x="604.25" y="35.08" width="10.78" height="8.74" fill="#4133be" stroke="#333" stroke-opacity="0.45" stroke-width="0.5"/><rect x="615.02" y="35.08" width="10.78" height="8.74" fill="#4133be" stroke="#333" stroke-opacity="0.45" stroke-width="0.5"/><rect x="625.80" y="35.08" width="10.78" height="8.74" fill="#347af6" stroke="#333" stroke-opacity="0.45" stroke-width="0.5"/><rect x="636.58" y="35.08" width="10.78" height="8.74" fill="#e3b92e" stroke="#333" stroke-opacity="0.45" stroke-width="0.5"/><rect x="647.35" y="35.08" width="10.78" height="8.74" fill="#474eed" stroke="#333" stroke-opacity="0.45" stroke-width="0.5"/><rect x="658.12" y="35.08" width="10.78" height="8.74" fill="#4133be" stroke="#333" stroke-opacity="0.45" stroke-width="0.5"/><rect x="668.90" y="35.08" width="10.78" height="8.74" fill="#f9fb15" stroke="#333" stroke-opacity="0.45" stroke-width="0.5"/><rect x="679.67" y="35.08" width="10.78" height="8.74" fill="#3ec891" stroke="#333" stroke-opacity="0.45" stroke-width="0.5"/><rect x="690.45" y="35.08" width="10.78" height="8.74" fill="#4133be" stroke="#333" stroke-opacity="0.45" stroke-width="0.5"/><rect x="701.23" y="35.08" width="10.78" height="8.74" fill="#474eed" stroke="#333" stroke-opacity="0.45" stroke-width="0.5"/><rect x="496.50" y="43.82" width="10.78" height="8.74" fill="#17b5cd" stroke="#333" stroke-opacity="0.45" stroke-width="0.5"/><rect x="507.27" y="43.82" width="10.78" height="8.74" fill="#4133be" stroke="#333" stroke-opacity="0.45" stroke-width="0.5"/><rect x="518.05" y="43.82" width="10.78" height="8.74" fill="#31c5a0" stroke="#333" stroke-opacity="0.45" stroke-width="0.5"/><rect x="528.83" y="43.82" width="10.78" height="8.74" fill="#f9fb15" stroke="#333" stroke-opacity="0.45" stroke-width="0.5"/><rect x="539.60" y="43.82" width="10.78" height="8.74" fill="#474eed" stroke="#333" stroke-opacity="0.45" stroke-width="0.5"/><rect x="550.38" y="43.82" width="10.78" height="8.74" fill="#4545dd" stroke="#333" stroke-opacity="0.45" stroke-width="0.5"/><rect x="561.15" y="43.82" width="10.78" height="8.74" fill="#474eed" stroke="#333" stroke-opacity="0.45" stroke-width="0.5"/><rect x="571.92" y="43.82" width="10.78" height="8.74" fill="#f9fb15" stroke="#333" stroke-opacity="0.45" stroke-width="0.5"/><rect x="582.70" y="43.82" width="10.78" height="8.74" fill="#fcbe35" stroke="#333" stroke-opacity="0.45" stroke-width="0.5"/><rect x="593.48" y="43.82" width="10.78" height="8.74" fill="#77c763" stroke="#333" stroke-opacity="0.45" stroke-width="0.5"/><rect x="604.25" y="43.82" width="10.78" height="8.74" fill="#f5bc33" stroke="#333" stroke-opacity="0.45" stroke-width="0.5"/><rect x="615.02" y="43.82" width="10.78" height="8.74" fill="#d7bb30" stroke="#333" stroke-opacity="0.45" stroke-width="0.5"/><rect x="625.80" y="43.82" width="10.78" height="8.74" fill="#13afd8" stroke="#333" stroke-opacity="0.45" stroke-width="0.5"/><rect x="636.58" y="43.82" width="10.78" height="8.74" fill="#3a6ff6" stroke="#333" stroke-opacity="0.45" stroke-width="0.5"/><rect x="647.35" y="43.82" width="10.78" height="8.74" fill="#f5bc33" stroke="#333" stroke-opacity="0.45" stroke-width="0.5"/><rect x="658.12" y="43.82" width="10.78" height="8.74" fill="#2791ef" stroke="#333" stroke-opacity="0.45" stroke-width="0.5"/><rect x="668.90" y="43.82" width="10.78" height="8.74" fill="#f9e421" stroke="#333" stroke-opacity="0.45" stroke-width="0.5"/><rect x="679.67" y="43.82" width="10.78" height="8.74" fill="#4ec884" stroke="#333" stroke-opacity="0.45" stroke-width="0.5"/><rect x="690.45" y="43.82" width="10.78" height="8.74" fill="#347af6" stroke="#333" stroke-opacity="0.45" stroke-width="0.5"/><rect x="701.23" y="43.82" width="10.78" height="8.74" fill="#2ac0ae" stroke="#333" stroke-opacity="0.45" stroke-width="0.5"/><rect x="496.50" y="52.56" width="10.78" height="8.74" fill="#4133be" stroke="#333" stroke-opacity="0.45" stroke-width="0.5"/><rect x="507.27" y="52.56" width="10.78" height="8.74" fill="#4133be" stroke="#333" stroke-opacity="0.45" stroke-width="0.5"/><rect x="518.05" y="52.56" width="10.78" height="8.74" fill="#2594ed" stroke="#333" stroke-opacity="0.45" stroke-width="0.5"/><rect x="528.83" y="52.56" width="10.78" height="8.74" fill="#474eed" stroke="#333" stroke-opacity="0.45" stroke-width="0.5"/><rect x="539.60" y="52.56" width="10.78" height="8.74" fill="#f9fb15" stroke="#333" stroke-opacity="0.45" stroke-width="0.5"/><rect x="550.38" y="52.56" width="10.78" height="8.74" fill="#4133be" stroke="#333" stroke-opacity="0.45" stroke-width="0.5"/><rect x="561.15" y="52.56" width="10.78" height="8.74" fill="#31c5a0" stroke="#333" stroke-opacity="0.45" stroke-width="0.5"/><rect x="571.92" y="52.56" width="10.78" height="8.74" fill="#4133be" stroke="#333" stroke-opacity="0.45" stroke-width="0.5"/><rect x="582.70" y="52.56" width="10.78" height="8.74" fill="#bdc135" stroke="#333" stroke-opacity="0.45" stroke-width="0.5"/><rect x="593.48" y="52.56" width="10.78" height="8.74" fill="#347af6" stroke="#333" stroke-opacity="0.45" stroke-width="0.5"/><rect x="604.25" y="52.56" width="10.78" height="8.74" fill="#31c5a0" stroke="#333" stroke-opacity="0.45" stroke-width="0.5"/><rect x="615.02" y="52.56" width="10.78" height="8.74" fill="#2594ed" stroke="#333" stroke-opacity="0.45" stroke-width="0.5"/><rect x="625.80" y="52.56" width="10.78" height="8.74" fill="#31c5a0" stroke="#333" stroke-opacity="0.45" stroke-width="0.5"/><rect x="636.58" y="52.56" width="10.78" height="8.74" fill="#f5bc33" stroke="#333" stroke-opacity="0.45" stroke-width="0.5"/><rect x="647.35" y="52.56" width="10.78" height="8.74" fill="#347af6" stroke="#333" stroke-opacity="0.45" stroke-width="0.5"/><rect x="658.12" y="52.56" width="10.78" height="8.74" fill="#474eed" stroke="#333" stroke-opacity="0.45" stroke-width="0.5"/><rect x="668.90" y="52.56" width="10.78" height="8.74" fill="#2594ed" stroke="#333" stroke-opacity="0.45" stroke-width="0.5"/><rect x="679.67" y="52.56" width="10.78" height="8.74" fill="#f9ed1c" stroke="#333" stroke-opacity="0.45" stroke-width="0.5"/><rect x="690.45" y="52.56" width="10.78" height="8.74" fill="#f5bc33" stroke="#333" stroke-opacity="0.45" stroke-width="0.5"/><rect x="701.23" y="52.56" width="10.78" height="8.74" fill="#3ec891" stroke="#333" stroke-opacity="0.45" stroke-width="0.5"/><rect x="496.50" y="61.30" width="10.78" height="8.74" fill="#347af6" stroke="#333" stroke-opacity="0.45" stroke-width="0.5"/><rect x="507.27" y="61.30" width="10.78" height="8.74" fill="#4133be" stroke="#333" stroke-opacity="0.45" stroke-width="0.5"/><rect x="518.05" y="61.30" width="10.78" height="8.74" fill="#f9fb15" stroke="#333" stroke-opacity="0.45" stroke-width="0.5"/><rect x="528.83" y="61.30" width="10.78" height="8.74" fill="#4545dd" stroke="#333" stroke-opacity="0.45" stroke-width="0.5"/><rect x="539.60" y="61.30" width="10.78" height="8.74" fill="#4133be" stroke="#333" stroke-opacity="0.45" stroke-width="0.5"/><rect x="550.38" y="61.30" width="10.78" height="8.74" fill="#f9fb15" stroke="#333" stroke-opacity="0.45" stroke-width="0.5"/><rect x="561.15" y="61.30" width="10.78" height="8.74" fill="#4133be" stroke="#333" stroke-opacity="0.45" stroke-width="0.5"/><rect x="571.92" y="61.30" width="10.78" height="8.74" fill="#31c5a0" stroke="#333" stroke-opacity="0.45" stroke-width="0.5"/><rect x="582.70" y="61.30" width="10.78" height="8.74" fill="#77c763" stroke="#333" stroke-opacity="0.45" stroke-width="0.5"/><rect x="593.48" y="61.30" width="10.78" height="8.74" fill="#474eed" stroke="#333" stroke-opacity="0.45" stroke-width="0.5"/><rect x="604.25" y="61.30" width="10.78" height="8.74" fill="#17b5cd" stroke="#333" stroke-opacity="0.45" stroke-width="0.5"/><rect x="615.02" y="61.30" width="10.78" height="8.74" fill="#17b5cd" stroke="#333" stroke-opacity="0.45" stroke-width="0.5"/><rect x="625.80" y="61.30" width="10.78" height="8.74" fill="#4133be" stroke="#333" stroke-opacity="0.45" stroke-width="0.5"/><rect x="636.58" y="61.30" width="10.78" height="8.74" fill="#4133be" stroke="#333" stroke-opacity="0.45" stroke-width="0.5"/><rect x="647.35" y="61.30" width="10.78" height="8.74" fill="#474eed" stroke="#333" stroke-opacity="0.45" stroke-width="0.5"/><rect x="658.12" y="61.30" width="10.78" height="8.74" fill="#347af6" stroke="#333" stroke-opacity="0.45" stroke-width="0.5"/><rect x="668.90" y="61.30" width="10.78" height="8.74" fill="#2594ed" stroke="#333" stroke-opacity="0.45" stroke-width="0.5"/><rect x="679.67" y="61.30" width="10.78" height="8.74" fill="#4133be" stroke="#333" stroke-opacity="0.45" stroke-width="0.5"/><rect x="690.45" y="61.30" width="10.78" height="8.74" fill="#2594ed" stroke="#333" stroke-opacity="0.45" stroke-width="0.5"/><rect x="701.23" y="61.30" width="10.78" height="8.74" fill="#4ec884" stroke="#333" stroke-opacity="0.45" stroke-width="0.5"/><rect x="496.50" y="70.04" width="10.78" height="8.74" fill="#17b5cd" stroke="#333" stroke-opacity="0.45" stroke-width="0.5"/><rect x="507.27" y="70.04" width="10.78" height="8.74" fill="#2594ed" stroke="#333" stroke-opacity="0.45" stroke-width="0.5"/><rect x="518.05" y="70.04" width="10.78" height="8.74" fill="#347af6" stroke="#333" stroke-opacity="0.45" stroke-width="0.5"/><rect x="528.83" y="70.04" width="10.78" height="8.74" fill="#474eed" stroke="#333" stroke-opacity="0.45" stroke-width="0.5"/><rect x="539.60" y="70.04" width="10.78" height="8.74" fill="#31c5a0" stroke="#333" stroke-opacity="0.45" stroke-width="0.5"/><rect x="550.38" y="70.04" width="10.78" height="8.74" fill="#4133be" stroke="#333" stroke-opacity="0.45" stroke-width="0.5"/><rect x="561.15" y="70.04" width="10.78" height="8.74" fill="#f9fb15" stroke="#333" stroke-opacity="0.45" stroke-width="0.5"/><rect x="571.92" y="70.04" width="10.78" height="8.74" fill="#fcbe35" stroke="#333" stroke-opacity="0.45" stroke-width="0.5"/><rect x="582.70" y="70.04" width="10.78" height="8.74" fill="#31c5a0" stroke="#333" stroke-opacity="0.45" stroke-width="0.5"/><rect x="593.48" y="70.04" width="10.78" height="8.74" fill="#f9e421" stroke="#333" stroke-opacity="0.45" stroke-width="0.5"/><rect x="604.25" y="70.04" width="10.78" height="8.74" fill="#f9fb15" stroke="#333" stroke-opacity="0.45" stroke-width="0.5"/><rect x="615.02" y="70.04" width="10.78" height="8.74" fill="#fcc233" stroke="#333" stroke-opacity="0.45" stroke-width="0.5"/><rect x="625.80" y="70.04" width="10.78" height="8.74" fill="#2594ed" stroke="#333" stroke-opacity="0.45" stroke-width="0.5"/><rect x="636.58" y="70.04" width="10.78" height="8.74" fill="#347af6" stroke="#333" stroke-opacity="0.45" stroke-width="0.5"/><rect x="647.35" y="70.04" width="10.78" height="8.74" fill="#1ba3e1" stroke="#333" stroke-opacity="0.45" stroke-width="0.5"/><rect x="658.12" y="70.04" width="10.78" height="8.74" fill="#31c5a0" stroke="#333" stroke-opacity="0.45" stroke-width="0.5"/><rect x="668.90" y="70.04" width="10.78" height="8.74" fill="#1ba3e1" stroke="#333" stroke-opacity="0.45" stroke-width="0.5"/><rect x="679.67" y="70.04" width="10.78" height="8.74" fill="#d7bb30" stroke="#333" stroke-opacity="0.45" stroke-width="0.5"/><rect x="690.45" y="70.04" width="10.78" height="8.74" fill="#474eed" stroke="#333" stroke-opacity="0.45" stroke-width="0.5"/><rect x="701.23" y="70.04" width="10.78" height="8.74" fill="#2594ed" stroke="#333" stroke-opacity="0.45" stroke-width="0.5"/><rect x="496.50" y="78.78" width="10.78" height="8.74" fill="#474eed" stroke="#333" stroke-opacity="0.45" stroke-width="0.5"/><rect x="507.27" y="78.78" width="10.78" height="8.74" fill="#4133be" stroke="#333" stroke-opacity="0.45" stroke-width="0.5"/><rect x="518.05" y="78.78" width="10.78" height="8.74" fill="#31c5a0" stroke="#333" stroke-opacity="0.45" stroke-width="0.5"/><rect x="528.83" y="78.78" width="10.78" height="8.74" fill="#f9fb15" stroke="#333" stroke-opacity="0.45" stroke-width="0.5"/><rect x="539.60" y="78.78" width="10.78" height="8.74" fill="#4133be" stroke="#333" stroke-opacity="0.45" stroke-width="0.5"/><rect x="550.38" y="78.78" width="10.78" height="8.74" fill="#31c5a0" stroke="#333" stroke-opacity="0.45" stroke-width="0.5"/><rect x="561.15" y="78.78" width="10.78" height="8.74" fill="#fcbe35" stroke="#333" stroke-opacity="0.45" stroke-width="0.5"/><rect x="571.92" y="78.78" width="10.78" height="8.74" fill="#f9fb15" stroke="#333" stroke-opacity="0.45" stroke-width="0.5"/><rect x="582.70" y="78.78" width="10.78" height="8.74" fill="#4ec884" stroke="#333" stroke-opacity="0.45" stroke-width="0.5"/><rect x="593.48" y="78.78" width="10.78" height="8.74" fill="#2594ed" stroke="#333" stroke-opacity="0.45" stroke-width="0.5"/><rect x="604.25" y="78.78" width="10.78" height="8.74" fill="#a0c742" stroke="#333" stroke-opacity="0.45" stroke-width="0.5"/><rect x="615.02" y="78.78" width="10.78" height="8.74" fill="#474eed" stroke="#333" stroke-opacity="0.45" stroke-width="0.5"/><rect x="625.80" y="78.78" width="10.78" height="8.74" fill="#bdc135" stroke="#333" stroke-opacity="0.45" stroke-width="0.5"/><rect x="636.58" y="78.78" width="10.78" height="8.74" fill="#f5bc33" stroke="#333" stroke-opacity="0.45" stroke-width="0.5"/><rect x="647.35" y="78.78" width="10.78" height="8.74" fill="#4ec884" stroke="#333" stroke-opacity="0.45" stroke-width="0.5"/><rect x="658.12" y="78.78" width="10.78" height="8.74" fill="#1fb9bf" stroke="#333" stroke-opacity="0.45" stroke-width="0.5"/><rect x="668.90" y="78.78" width="10.78" height="8.74" fill="#1ba3e1" stroke="#333" stroke-opacity="0.45" stroke-width="0.5"/><rect x="679.67" y="78.78" width="10.78" height="8.74" fill="#474eed" stroke="#333" stroke-opacity="0.45" stroke-width="0.5"/><rect x="690.45" y="78.78" width="10.78" height="8.74" fill="#17b5cd" stroke="#333" stroke-opacity="0.45" stroke-width="0.5"/><rect x="701.23" y="78.78" width="10.78" height="8.74" fill="#f9fb15" stroke="#333" stroke-opacity="0.45" stroke-width="0.5"/><rect x="496.50" y="87.52" width="10.78" height="8.74" fill="#e3b92e" stroke="#333" stroke-opacity="0.45" stroke-width="0.5"/><rect x="507.27" y="87.52" width="10.78" height="8.74" fill="#17b5cd" stroke="#333" stroke-opacity="0.45" stroke-width="0.5"/><rect x="518.05" y="87.52" width="10.78" height="8.74" fill="#4133be" stroke="#333" stroke-opacity="0.45" stroke-width="0.5"/><rect x="528.83" y="87.52" width="10.78" height="8.74" fill="#fcbe35" stroke="#333" stroke-opacity="0.45" stroke-width="0.5"/><rect x="539.60" y="87.52" width="10.78" height="8.74" fill="#bdc135" stroke="#333" stroke-opacity="0.45" stroke-width="0.5"/><rect x="550.38" y="87.52" width="10.78" height="8.74" fill="#77c763" stroke="#333" stroke-opacity="0.45" stroke-width="0.5"/><rect x="561.15" y="87.52" width="10.78" height="8.74" fill="#31c5a0" stroke="#333" stroke-opacity="0.45" stroke-width="0.5"/><rect x="571.92" y="87.52" width="10.78" height="8.74" fill="#4ec884" stroke="#333" stroke-opacity="0.45" stroke-width="0.5"/><rect x="582.70" y="87.52" width="10.78" height="8.74" fill="#f9fb15" stroke="#333" stroke-opacity="0.45" stroke-width="0.5"/><rect x="593.48" y="87.52" width="10.78" height="8.74" fill="#4133be" stroke="#333" stroke-opacity="0.45" stroke-width="0.5"/><rect x="604.25" y="87.52" width="10.78" height="8.74" fill="#4133be" stroke="#333" stroke-opacity="0.45" stroke-width="0.5"/><rect x="615.02" y="87.52" width="10.78" height="8.74" fill="#4133be" stroke="#333" stroke-opacity="0.45" stroke-width="0.5"/><rect x="625.80" y="87.52" width="10.78" height="8.74" fill="#2ac0ae" stroke="#333" stroke-opacity="0.45" stroke-width="0.5"/><rect x="636.58" y="87.52" width="10.78" height="8.74" fill="#17b5cd" stroke="#333" stroke-opacity="0.45" stroke-width="0.5"/><rect x="647.35" y="87.52" width="10.78" height="8.74" fill="#474eed" stroke="#333" stroke-opacity="0.45" stroke-width="0.5"/><rect x="658.12" y="87.52" width="10.78" height="8.74" fill="#afc638" stroke="#333" stroke-opacity="0.45" stroke-width="0.5"/><rect x="668.90" y="87.52" width="10.78" height="8.74" fill="#2594ed" stroke="#333" stroke-opacity="0.45" stroke-width="0.5"/><rect x="679.67" y="87.52" width="10.78" height="8.74" fill="#fcc233" stroke="#333" stroke-opacity="0.45" stroke-width="0.5"/><rect x="690.45" y="87.52" width="10.78" height="8.74" fill="#4133be" stroke="#333" stroke-opacity="0.45" stroke-width="0.5"/><rect x="701.23" y="87.52" width="10.78" height="8.74" fill="#464be8" stroke="#333" stroke-opacity="0.45" stroke-width="0.5"/><rect x="496.50" y="96.26" width="10.78" height="8.74" fill="#f9d728" stroke="#333" stroke-opacity="0.45" stroke-width="0.5"/><rect x="507.27" y="96.26" width="10.78" height="8.74" fill="#347af6" stroke="#333" stroke-opacity="0.45" stroke-width="0.5"/><rect x="518.05" y="96.26" width="10.78" height="8.74" fill="#474eed" stroke="#333" stroke-opacity="0.45" stroke-width="0.5"/><rect x="528.83" y="96.26" width="10.78" height="8.74" fill="#77c763" stroke="#333" stroke-opacity="0.45" stroke-width="0.5"/><rect x="539.60" y="96.26" width="10.78" height="8.74" fill="#347af6" stroke="#333" stroke-opacity="0.45" stroke-width="0.5"/><rect x="550.38" y="96.26" width="10.78" height="8.74" fill="#474eed" stroke="#333" stroke-opacity="0.45" stroke-width="0.5"/><rect x="561.15" y="96.26" width="10.78" height="8.74" fill="#f9e421" stroke="#333" stroke-opacity="0.45" stroke-width="0.5"/><rect x="571.92" y="96.26" width="10.78" height="8.74" fill="#2594ed" stroke="#333" stroke-opacity="0.45" stroke-width="0.5"/><rect x="582.70" y="96.26" width="10.78" height="8.74" fill="#4133be" stroke="#333" stroke-opacity="0.45" stroke-width="0.5"/><rect x="593.48" y="96.26" width="10.78" height="8.74" fill="#f9fb15" stroke="#333" stroke-opacity="0.45" stroke-width="0.5"/><rect x="604.25" y="96.26" width="10.78" height="8.74" fill="#4133be" stroke="#333" stroke-opacity="0.45" stroke-width="0.5"/><rect x="615.02" y="96.26" width="10.78" height="8.74" fill="#4133be" stroke="#333" stroke-opacity="0.45" stroke-width="0.5"/><rect x="625.80" y="96.26" width="10.78" height="8.74" fill="#474eed" stroke="#333" stroke-opacity="0.45" stroke-width="0.5"/><rect x="636.58" y="96.26" width="10.78" height="8.74" fill="#474eed" stroke="#333" stroke-opacity="0.45" stroke-width="0.5"/><rect x="647.35" y="96.26" width="10.78" height="8.74" fill="#31c5a0" stroke="#333" stroke-opacity="0.45" stroke-width="0.5"/><rect x="658.12" y="96.26" width="10.78" height="8.74" fill="#bdc135" stroke="#333" stroke-opacity="0.45" stroke-width="0.5"/><rect x="668.90" y="96.26" width="10.78" height="8.74" fill="#4133be" stroke="#333" stroke-opacity="0.45" stroke-width="0.5"/><rect x="679.67" y="96.26" width="10.78" height="8.74" fill="#8fc74f" stroke="#333" stroke-opacity="0.45" stroke-width="0.5"/><rect x="690.45" y="96.26" width="10.78" height="8.74" fill="#bdc135" stroke="#333" stroke-opacity="0.45" stroke-width="0.5"/><rect x="701.23" y="96.26" width="10.78" height="8.74" fill="#a0c742" stroke="#333" stroke-opacity="0.45" stroke-width="0.5"/><rect x="496.50" y="105.00" width="10.78" height="8.74" fill="#e3b92e" stroke="#333" stroke-opacity="0.45" stroke-width="0.5"/><rect x="507.27" y="105.00" width="10.78" height="8.74" fill="#31c5a0" stroke="#333" stroke-opacity="0.45" stroke-width="0.5"/><rect x="518.05" y="105.00" width="10.78" height="8.74" fill="#4133be" stroke="#333" stroke-opacity="0.45" stroke-width="0.5"/><rect x="528.83" y="105.00" width="10.78" height="8.74" fill="#f5bc33" stroke="#333" stroke-opacity="0.45" stroke-width="0.5"/><rect x="539.60" y="105.00" width="10.78" height="8.74" fill="#31c5a0" stroke="#333" stroke-opacity="0.45" stroke-width="0.5"/><rect x="550.38" y="105.00" width="10.78" height="8.74" fill="#17b5cd" stroke="#333" stroke-opacity="0.45" stroke-width="0.5"/><rect x="561.15" y="105.00" width="10.78" height="8.74" fill="#f9fb15" stroke="#333" stroke-opacity="0.45" stroke-width="0.5"/><rect x="571.92" y="105.00" width="10.78" height="8.74" fill="#a0c742" stroke="#333" stroke-opacity="0.45" stroke-width="0.5"/><rect x="582.70" y="105.00" width="10.78" height="8.74" fill="#4133be" stroke="#333" stroke-opacity="0.45" stroke-width="0.5"/><rect x="593.48" y="105.00" width="10.78" height="8.74" fill="#4133be" stroke="#333" stroke-opacity="0.45" stroke-width="0.5"/><rect x="604.25" y="105.00" width="10.78" height="8.74" fill="#f9fb15" stroke="#333" stroke-opacity="0.45" stroke-width="0.5"/><rect x="615.02" y="105.00" width="10.78" height="8.74" fill="#4133be" stroke="#333" stroke-opacity="0.45" stroke-width="0.5"/><rect x="625.80" y="105.00" width="10.78" height="8.74" fill="#464be8" stroke="#333" stroke-opacity="0.45" stroke-width="0.5"/><rect x="636.58" y="105.00" width="10.78" height="8.74" fill="#4655f4" stroke="#333" stroke-opacity="0.45" stroke-width="0.5"/><rect x="647.35" y="105.00" width="10.78" height="8.74" fill="#3a6ff6" stroke="#333" stroke-opacity="0.45" stroke-width="0.5"/><rect x="658.12" y="105.00" width="10.78" height="8.74" fill="#433fd3" stroke="#333" stroke-opacity="0.45" stroke-width="0.5"/><rect x="668.90" y="105.00" width="10.78" height="8.74" fill="#17b5cd" stroke="#333" stroke-opacity="0.45" stroke-width="0.5"/><rect x="679.67" y="105.00" width="10.78" height="8.74" fill="#4133be" stroke="#333" stroke-opacity="0.45" stroke-width="0.5"/><rect x="690.45" y="105.00" width="10.78" height="8.74" fill="#347af6" stroke="#333" stroke-opacity="0.45" stroke-width="0.5"/><rect x="701.23" y="105.00" width="10.78" height="8.74" fill="#f9e421" stroke="#333" stroke-opacity="0.45" stroke-width="0.5"/><rect x="496.50" y="113.74" width="10.78" height="8.74" fill="#d7bb30" stroke="#333" stroke-opacity="0.45" stroke-width="0.5"/><rect x="507.27" y="113.74" width="10.78" height="8.74" fill="#474eed" stroke="#333" stroke-opacity="0.45" stroke-width="0.5"/><rect x="518.05" y="113.74" width="10.78" height="8.74" fill="#4133be" stroke="#333" stroke-opacity="0.45" stroke-width="0.5"/><rect x="528.83" y="113.74" width="10.78" height="8.74" fill="#d7bb30" stroke="#333" stroke-opacity="0.45" stroke-width="0.5"/><rect x="539.60" y="113.74" width="10.78" height="8.74" fill="#2594ed" stroke="#333" stroke-opacity="0.45" stroke-width="0.5"/><rect x="550.38" y="113.74" width="10.78" height="8.74" fill="#17b5cd" stroke="#333" stroke-opacity="0.45" stroke-width="0.5"/><rect x="561.15" y="113.74" width="10.78" height="8.74" fill="#fcc233" stroke="#333" stroke-opacity="0.45" stroke-width="0.5"/><rect x="571.92" y="113.74" width="10.78" height="8.74" fill="#474eed" stroke="#333" stroke-opacity="0.45" stroke-width="0.5"/><rect x="582.70" y="113.74" width="10.78" height="8.74" fill="#4133be" stroke="#333" stroke-opacity="0.45" stroke-width="0.5"/><rect x="593.48" y="113.74" width="10.78" height="8.74" fill="#4133be" stroke="#333" stroke-opacity="0.45" stroke-width="0.5"/><rect x="604.25" y="113.74" width="10.78" height="8.74" fill="#4133be" stroke="#333" stroke-opacity="0.45" stroke-width="0.5"/><rect x="615.02" y="113.74" width="10.78" height="8.74" fill="#f9fb15" stroke="#333" stroke-opacity="0.45" stroke-width="0.5"/><rect x="625.80" y="113.74" width="10.78" height="8.74" fill="#31c5a0" stroke="#333" stroke-opacity="0.45" stroke-width="0.5"/><rect x="636.58" y="113.74" width="10.78" height="8.74" fill="#f9d728" stroke="#333" stroke-opacity="0.45" stroke-width="0.5"/><rect x="647.35" y="113.74" width="10.78" height="8.74" fill="#347af6" stroke="#333" stroke-opacity="0.45" stroke-width="0.5"/><rect x="658.12" y="113.74" width="10.78" height="8.74" fill="#4545dd" stroke="#333" stroke-opacity="0.45" stroke-width="0.5"/><rect x="668.90" y="113.74" width="10.78" height="8.74" fill="#4133be" stroke="#333" stroke-opacity="0.45" stroke-width="0.5"/><rect x="679.67" y="113.74" width="10.78" height="8.74" fill="#4133be" stroke="#333" stroke-opacity="0.45" stroke-width="0.5"/><rect x="690.45" y="113.74" width="10.78" height="8.74" fill="#1ba3e1" stroke="#333" stroke-opacity="0.45" stroke-width="0.5"/><rect x="701.23" y="113.74" width="10.78" height="8.74" fill="#4133be" stroke="#333" stroke-opacity="0.45" stroke-width="0.5"/><rect x="496.50" y="122.48" width="10.78" height="8.74" fill="#fcc233" stroke="#333" stroke-opacity="0.45" stroke-width="0.5"/><rect x="507.27" y="122.48" width="10.78" height="8.74" fill="#435cf5" stroke="#333" stroke-opacity="0.45" stroke-width="0.5"/><rect x="518.05" y="122.48" width="10.78" height="8.74" fill="#347af6" stroke="#333" stroke-opacity="0.45" stroke-width="0.5"/><rect x="528.83" y="122.48" width="10.78" height="8.74" fill="#13afd8" stroke="#333" stroke-opacity="0.45" stroke-width="0.5"/><rect x="539.60" y="122.48" width="10.78" height="8.74" fill="#31c5a0" stroke="#333" stroke-opacity="0.45" stroke-width="0.5"/><rect x="550.38" y="122.48" width="10.78" height="8.74" fill="#4133be" stroke="#333" stroke-opacity="0.45" stroke-width="0.5"/><rect x="561.15" y="122.48" width="10.78" height="8.74" fill="#2594ed" stroke="#333" stroke-opacity="0.45" stroke-width="0.5"/><rect x="571.92" y="122.48" width="10.78" height="8.74" fill="#bdc135" stroke="#333" stroke-opacity="0.45" stroke-width="0.5"/><rect x="582.70" y="122.48" width="10.78" height="8.74" fill="#2ac0ae" stroke="#333" stroke-opacity="0.45" stroke-width="0.5"/><rect x="593.48" y="122.48" width="10.78" height="8.74" fill="#474eed" stroke="#333" stroke-opacity="0.45" stroke-width="0.5"/><rect x="604.25" y="122.48" width="10.78" height="8.74" fill="#4545dd" stroke="#333" stroke-opacity="0.45" stroke-width="0.5"/><rect x="615.02" y="122.48" width="10.78" height="8.74" fill="#31c5a0" stroke="#333" stroke-opacity="0.45" stroke-width="0.5"/><rect x="625.80" y="122.48" width="10.78" height="8.74" fill="#f9fb15" stroke="#333" stroke-opacity="0.45" stroke-width="0.5"/><rect x="636.58" y="122.48" width="10.78" height="8.74" fill="#4133be" stroke="#333" stroke-opacity="0.45" stroke-width="0.5"/><rect x="647.35" y="122.48" width="10.78" height="8.74" fill="#464be8" stroke="#333" stroke-opacity="0.45" stroke-width="0.5"/><rect x="658.12" y="122.48" width="10.78" height="8.74" fill="#347af6" stroke="#333" stroke-opacity="0.45" stroke-width="0.5"/><rect x="668.90" y="122.48" width="10.78" height="8.74" fill="#347af6" stroke="#333" stroke-opacity="0.45" stroke-width="0.5"/><rect x="679.67" y="122.48" width="10.78" height="8.74" fill="#3ec891" stroke="#333" stroke-opacity="0.45" stroke-width="0.5"/><rect x="690.45" y="122.48" width="10.78" height="8.74" fill="#4655f4" stroke="#333" stroke-opacity="0.45" stroke-width="0.5"/><rect x="701.23" y="122.48" width="10.78" height="8.74" fill="#3a6ff6" stroke="#333" stroke-opacity="0.45" stroke-width="0.5"/><rect x="496.50" y="131.22" width="10.78" height="8.74" fill="#f5bc33" stroke="#333" stroke-opacity="0.45" stroke-width="0.5"/><rect x="507.27" y="131.22" width="10.78" height="8.74" fill="#347af6" stroke="#333" stroke-opacity="0.45" stroke-width="0.5"/><rect x="518.05" y="131.22" width="10.78" height="8.74" fill="#e3b92e" stroke="#333" stroke-opacity="0.45" stroke-width="0.5"/><rect x="528.83" y="131.22" width="10.78" height="8.74" fill="#3a6ff6" stroke="#333" stroke-opacity="0.45" stroke-width="0.5"/><rect x="539.60" y="131.22" width="10.78" height="8.74" fill="#f5bc33" stroke="#333" stroke-opacity="0.45" stroke-width="0.5"/><rect x="550.38" y="131.22" width="10.78" height="8.74" fill="#4133be" stroke="#333" stroke-opacity="0.45" stroke-width="0.5"/><rect x="561.15" y="131.22" width="10.78" height="8.74" fill="#347af6" stroke="#333" stroke-opacity="0.45" stroke-width="0.5"/><rect x="571.92" y="131.22" width="10.78" height="8.74" fill="#f5bc33" stroke="#333" stroke-opacity="0.45" stroke-width="0.5"/><rect x="582.70" y="131.22" width="10.78" height="8.74" fill="#17b5cd" stroke="#333" stroke-opacity="0.45" stroke-width="0.5"/><rect x="593.48" y="131.22" width="10.78" height="8.74" fill="#474eed" stroke="#333" stroke-opacity="0.45" stroke-width="0.5"/><rect x="604.25" y="131.22" width="10.78" height="8.74" fill="#4655f4" stroke="#333" stroke-opacity="0.45" stroke-width="0.5"/><rect x="615.02" y="131.22" width="10.78" height="8.74" fill="#f9d728" stroke="#333" stroke-opacity="0.45" stroke-width="0.5"/><rect x="625.80" y="131.22" width="10.78" height="8.74" fill="#4133be" stroke="#333" stroke-opacity="0.45" stroke-width="0.5"/><rect x="636.58" y="131.22" width="10.78" height="8.74" fill="#f9fb15" stroke="#333" stroke-opacity="0.45" stroke-width="0.5"/><rect x="647.35" y="131.22" width="10.78" height="8.74" fill="#464be8" stroke="#333" stroke-opacity="0.45" stroke-width="0.5"/><rect x="658.12" y="131.22" width="10.78" height="8.74" fill="#3a6ff6" stroke="#333" stroke-opacity="0.45" stroke-width="0.5"/><rect x="668.90" y="131.22" width="10.78" height="8.74" fill="#4160f5" stroke="#333" stroke-opacity="0.45" stroke-width="0.5"/><rect x="679.67" y="131.22" width="10.78" height="8.74" fill="#17a9dd" stroke="#333" stroke-opacity="0.45" stroke-width="0.5"/><rect x="690.45" y="131.22" width="10.78" height="8.74" fill="#3ec891" stroke="#333" stroke-opacity="0.45" stroke-width="0.5"/><rect x="701.23" y="131.22" width="10.78" height="8.74" fill="#4133be" stroke="#333" stroke-opacity="0.45" stroke-width="0.5"/><rect x="496.50" y="139.96" width="10.78" height="8.74" fill="#474eed" stroke="#333" stroke-opacity="0.45" stroke-width="0.5"/><rect x="507.27" y="139.96" width="10.78" height="8.74" fill="#17b5cd" stroke="#333" stroke-opacity="0.45" stroke-width="0.5"/><rect x="518.05" y="139.96" width="10.78" height="8.74" fill="#474eed" stroke="#333" stroke-opacity="0.45" stroke-width="0.5"/><rect x="528.83" y="139.96" width="10.78" height="8.74" fill="#f5bc33" stroke="#333" stroke-opacity="0.45" stroke-width="0.5"/><rect x="539.60" y="139.96" width="10.78" height="8.74" fill="#347af6" stroke="#333" stroke-opacity="0.45" stroke-width="0.5"/><rect x="550.38" y="139.96" width="10.78" height="8.74" fill="#474eed" stroke="#333" stroke-opacity="0.45" stroke-width="0.5"/><rect x="561.15" y="139.96" width="10.78" height="8.74" fill="#1ba3e1" stroke="#333" stroke-opacity="0.45" stroke-width="0.5"/><rect x="571.92" y="139.96" width="10.78" height="8.74" fill="#4ec884" stroke="#333" stroke-opacity="0.45" stroke-width="0.5"/><rect x="582.70" y="139.96" width="10.78" height="8.74" fill="#474eed" stroke="#333" stroke-opacity="0.45" stroke-width="0.5"/><rect x="593.48" y="139.96" width="10.78" height="8.74" fill="#31c5a0" stroke="#333" stroke-opacity="0.45" stroke-width="0.5"/><rect x="604.25" y="139.96" width="10.78" height="8.74" fill="#4160f5" stroke="#333" stroke-opacity="0.45" stroke-width="0.5"/><rect x="615.02" y="139.96" width="10.78" height="8.74" fill="#347af6" stroke="#333" stroke-opacity="0.45" stroke-width="0.5"/><rect x="625.80" y="139.96" width="10.78" height="8.74" fill="#4655f4" stroke="#333" stroke-opacity="0.45" stroke-width="0.5"/><rect x="636.58" y="139.96" width="10.78" height="8.74" fill="#4545dd" stroke="#333" stroke-opacity="0.45" stroke-width="0.5"/><rect x="647.35" y="139.96" width="10.78" height="8.74" fill="#f9fb15" stroke="#333" stroke-opacity="0.45" stroke-width="0.5"/><rect x="658.12" y="139.96" width="10.78" height="8.74" fill="#4133be" stroke="#333" stroke-opacity="0.45" stroke-width="0.5"/><rect x="668.90" y="139.96" width="10.78" height="8.74" fill="#f9d728" stroke="#333" stroke-opacity="0.45" stroke-width="0.5"/><rect x="679.67" y="139.96" width="10.78" height="8.74" fill="#d7bb30" stroke="#333" stroke-opacity="0.45" stroke-width="0.5"/><rect x="690.45" y="139.96" width="10.78" height="8.74" fill="#347af6" stroke="#333" stroke-opacity="0.45" stroke-width="0.5"/><rect x="701.23" y="139.96" width="10.78" height="8.74" fill="#3ec891" stroke="#333" stroke-opacity="0.45" stroke-width="0.5"/><rect x="496.50" y="148.70" width="10.78" height="8.74" fill="#f5bc33" stroke="#333" stroke-opacity="0.45" stroke-width="0.5"/><rect x="507.27" y="148.70" width="10.78" height="8.74" fill="#2b8bf4" stroke="#333" stroke-opacity="0.45" stroke-width="0.5"/><rect x="518.05" y="148.70" width="10.78" height="8.74" fill="#4133be" stroke="#333" stroke-opacity="0.45" stroke-width="0.5"/><rect x="528.83" y="148.70" width="10.78" height="8.74" fill="#2791ef" stroke="#333" stroke-opacity="0.45" stroke-width="0.5"/><rect x="539.60" y="148.70" width="10.78" height="8.74" fill="#474eed" stroke="#333" stroke-opacity="0.45" stroke-width="0.5"/><rect x="550.38" y="148.70" width="10.78" height="8.74" fill="#347af6" stroke="#333" stroke-opacity="0.45" stroke-width="0.5"/><rect x="561.15" y="148.70" width="10.78" height="8.74" fill="#31c5a0" stroke="#333" stroke-opacity="0.45" stroke-width="0.5"/><rect x="571.92" y="148.70" width="10.78" height="8.74" fill="#1fb9bf" stroke="#333" stroke-opacity="0.45" stroke-width="0.5"/><rect x="582.70" y="148.70" width="10.78" height="8.74" fill="#afc638" stroke="#333" stroke-opacity="0.45" stroke-width="0.5"/><rect x="593.48" y="148.70" width="10.78" height="8.74" fill="#bdc135" stroke="#333" stroke-opacity="0.45" stroke-width="0.5"/><rect x="604.25" y="148.70" width="10.78" height="8.74" fill="#4133be" stroke="#333" stroke-opacity="0.45" stroke-width="0.5"/><rect x="615.02" y="148.70" width="10.78" height="8.74" fill="#4545dd" stroke="#333" stroke-opacity="0.45" stroke-width="0.5"/><rect x="625.80" y="148.70" width="10.78" height="8.74" fill="#347af6" stroke="#333" stroke-opacity="0.45" stroke-width="0.5"/><rect x="636.58" y="148.70" width="10.78" height="8.74" fill="#3a6ff6" stroke="#333" stroke-opacity="0.45" stroke-width="0.5"/><rect x="647.35" y="148.70" width="10.78" height="8.74" fill="#4133be" stroke="#333" stroke-opacity="0.45" stroke-width="0.5"/><rect x="658.12" y="148.70" width="10.78" height="8.74" fill="#f9fb15" stroke="#333" stroke-opacity="0.45" stroke-width="0.5"/><rect x="668.90" y="148.70" width="10.78" height="8.74" fill="#347af6" stroke="#333" stroke-opacity="0.45" stroke-width="0.5"/><rect x="679.67" y="148.70" width="10.78" height="8.74" fill="#4655f4" stroke="#333" stroke-opacity="0.45" stroke-width="0.5"/><rect x="690.45" y="148.70" width="10.78" height="8.74" fill="#4655f4" stroke="#333" stroke-opacity="0.45" stroke-width="0.5"/><rect x="701.23" y="148.70" width="10.78" height="8.74" fill="#4133be" stroke="#333" stroke-opacity="0.45" stroke-width="0.5"/><rect x="496.50" y="157.44" width="10.78" height="8.74" fill="#f9e421" stroke="#333" stroke-opacity="0.45" stroke-width="0.5"/><rect x="507.27" y="157.44" width="10.78" height="8.74" fill="#31c5a0" stroke="#333" stroke-opacity="0.45" stroke-width="0.5"/><rect x="518.05" y="157.44" width="10.78" height="8.74" fill="#f9fb15" stroke="#333" stroke-opacity="0.45" stroke-width="0.5"/><rect x="528.83" y="157.44" width="10.78" height="8.74" fill="#f9e421" stroke="#333" stroke-opacity="0.45" stroke-width="0.5"/><rect x="539.60" y="157.44" width="10.78" height="8.74" fill="#2594ed" stroke="#333" stroke-opacity="0.45" stroke-width="0.5"/><rect x="550.38" y="157.44" width="10.78" height="8.74" fill="#2594ed" stroke="#333" stroke-opacity="0.45" stroke-width="0.5"/><rect x="561.15" y="157.44" width="10.78" height="8.74" fill="#1ba3e1" stroke="#333" stroke-opacity="0.45" stroke-width="0.5"/><rect x="571.92" y="157.44" width="10.78" height="8.74" fill="#1ba3e1" stroke="#333" stroke-opacity="0.45" stroke-width="0.5"/><rect x="582.70" y="157.44" width="10.78" height="8.74" fill="#2594ed" stroke="#333" stroke-opacity="0.45" stroke-width="0.5"/><rect x="593.48" y="157.44" width="10.78" height="8.74" fill="#4133be" stroke="#333" stroke-opacity="0.45" stroke-width="0.5"/><rect x="604.25" y="157.44" width="10.78" height="8.74" fill="#17b5cd" stroke="#333" stroke-opacity="0.45" stroke-width="0.5"/><rect x="615.02" y="157.44" width="10.78" height="8.74" fill="#4133be" stroke="#333" stroke-opacity="0.45" stroke-width="0.5"/><rect x="625.80" y="157.44" width="10.78" height="8.74" fill="#347af6" stroke="#333" stroke-opacity="0.45" stroke-width="0.5"/><rect x="636.58" y="157.44" width="10.78" height="8.74" fill="#4160f5" stroke="#333" stroke-opacity="0.45" stroke-width="0.5"/><rect x="647.35" y="157.44" width="10.78" height="8.74" fill="#f9d728" stroke="#333" stroke-opacity="0.45" stroke-width="0.5"/><rect x="658.12" y="157.44" width="10.78" height="8.74" fill="#347af6" stroke="#333" stroke-opacity="0.45" stroke-width="0.5"/><rect x="668.90" y="157.44" width="10.78" height="8.74" fill="#f9fb15" stroke="#333" stroke-opacity="0.45" stroke-width="0.5"/><rect x="679.67" y="157.44" width="10.78" height="8.74" fill="#3ec891" stroke="#333" stroke-opacity="0.45" stroke-width="0.5"/><rect x="690.45" y="157.44" width="10.78" height="8.74" fill="#fcc233" stroke="#333" stroke-opacity="0.45" stroke-width="0.5"/><rect x="701.23" y="157.44" width="10.78" height="8.74" fill="#3ec891" stroke="#333" stroke-opacity="0.45" stroke-width="0.5"/><rect x="496.50" y="166.18" width="10.78" height="8.74" fill="#474eed" stroke="#333" stroke-opacity="0.45" stroke-width="0.5"/><rect x="507.27" y="166.18" width="10.78" height="8.74" fill="#4ec884" stroke="#333" stroke-opacity="0.45" stroke-width="0.5"/><rect x="518.05" y="166.18" width="10.78" height="8.74" fill="#3ec891" stroke="#333" stroke-opacity="0.45" stroke-width="0.5"/><rect x="528.83" y="166.18" width="10.78" height="8.74" fill="#4ec884" stroke="#333" stroke-opacity="0.45" stroke-width="0.5"/><rect x="539.60" y="166.18" width="10.78" height="8.74" fill="#f9ed1c" stroke="#333" stroke-opacity="0.45" stroke-width="0.5"/><rect x="550.38" y="166.18" width="10.78" height="8.74" fill="#4133be" stroke="#333" stroke-opacity="0.45" stroke-width="0.5"/><rect x="561.15" y="166.18" width="10.78" height="8.74" fill="#d7bb30" stroke="#333" stroke-opacity="0.45" stroke-width="0.5"/><rect x="571.92" y="166.18" width="10.78" height="8.74" fill="#474eed" stroke="#333" stroke-opacity="0.45" stroke-width="0.5"/><rect x="582.70" y="166.18" width="10.78" height="8.74" fill="#fcc233" stroke="#333" stroke-opacity="0.45" stroke-width="0.5"/><rect x="593.48" y="166.18" width="10.78" height="8.74" fill="#8fc74f" stroke="#333" stroke-opacity="0.45" stroke-width="0.5"/><rect x="604.25" y="166.18" width="10.78" height="8.74" fill="#4133be" stroke="#333" stroke-opacity="0.45" stroke-width="0.5"/><rect x="615.02" y="166.18" width="10.78" height="8.74" fill="#4133be" stroke="#333" stroke-opacity="0.45" stroke-width="0.5"/><rect x="625.80" y="166.18" width="10.78" height="8.74" fill="#3ec891" stroke="#333" stroke-opacity="0.45" stroke-width="0.5"/><rect x="636.58" y="166.18" width="10.78" height="8.74" fill="#17a9dd" stroke="#333" stroke-opacity="0.45" stroke-width="0.5"/><rect x="647.35" y="166.18" width="10.78" height="8.74" fill="#d7bb30" stroke="#333" stroke-opacity="0.45" stroke-width="0.5"/><rect x="658.12" y="166.18" width="10.78" height="8.74" fill="#4655f4" stroke="#333" stroke-opacity="0.45" stroke-width="0.5"/><rect x="668.90" y="166.18" width="10.78" height="8.74" fill="#3ec891" stroke="#333" stroke-opacity="0.45" stroke-width="0.5"/><rect x="679.67" y="166.18" width="10.78" height="8.74" fill="#f9fb15" stroke="#333" stroke-opacity="0.45" stroke-width="0.5"/><rect x="690.45" y="166.18" width="10.78" height="8.74" fill="#4133be" stroke="#333" stroke-opacity="0.45" stroke-width="0.5"/><rect x="701.23" y="166.18" width="10.78" height="8.74" fill="#464be8" stroke="#333" stroke-opacity="0.45" stroke-width="0.5"/><rect x="496.50" y="174.92" width="10.78" height="8.74" fill="#433fd3" stroke="#333" stroke-opacity="0.45" stroke-width="0.5"/><rect x="507.27" y="174.92" width="10.78" height="8.74" fill="#e3b92e" stroke="#333" stroke-opacity="0.45" stroke-width="0.5"/><rect x="518.05" y="174.92" width="10.78" height="8.74" fill="#4133be" stroke="#333" stroke-opacity="0.45" stroke-width="0.5"/><rect x="528.83" y="174.92" width="10.78" height="8.74" fill="#347af6" stroke="#333" stroke-opacity="0.45" stroke-width="0.5"/><rect x="539.60" y="174.92" width="10.78" height="8.74" fill="#f5bc33" stroke="#333" stroke-opacity="0.45" stroke-width="0.5"/><rect x="550.38" y="174.92" width="10.78" height="8.74" fill="#2594ed" stroke="#333" stroke-opacity="0.45" stroke-width="0.5"/><rect x="561.15" y="174.92" width="10.78" height="8.74" fill="#474eed" stroke="#333" stroke-opacity="0.45" stroke-width="0.5"/><rect x="571.92" y="174.92" width="10.78" height="8.74" fill="#17b5cd" stroke="#333" stroke-opacity="0.45" stroke-width="0.5"/><rect x="582.70" y="174.92" width="10.78" height="8.74" fill="#4133be" stroke="#333" stroke-opacity="0.45" stroke-width="0.5"/><rect x="593.48" y="174.92" width="10.78" height="8.74" fill="#bdc135" stroke="#333" stroke-opacity="0.45" stroke-width="0.5"/><rect x="604.25" y="174.92" width="10.78" height="8.74" fill="#347af6" stroke="#333" stroke-opacity="0.45" stroke-width="0.5"/><rect x="615.02" y="174.92" width="10.78" height="8.74" fill="#17a9dd" stroke="#333" stroke-opacity="0.45" stroke-width="0.5"/><rect x="625.80" y="174.92" width="10.78" height="8.74" fill="#4655f4" stroke="#333" stroke-opacity="0.45" stroke-width="0.5"/><rect x="636.58" y="174.92" width="10.78" height="8.74" fill="#3ec891" stroke="#333" stroke-opacity="0.45" stroke-width="0.5"/><rect x="647.35" y="174.92" width="10.78" height="8.74" fill="#347af6" stroke="#333" stroke-opacity="0.45" stroke-width="0.5"/><rect x="658.12" y="174.92" width="10.78" height="8.74" fill="#4655f4" stroke="#333" stroke-opacity="0.45" stroke-width="0.5"/><rect x="668.90" y="174.92" width="10.78" height="8.74" fill="#fcc233" stroke="#333" stroke-opacity="0.45" stroke-width="0.5"/><rect x="679.67" y="174.92" width="10.78" height="8.74" fill="#4133be" stroke="#333" stroke-opacity="0.45" stroke-width="0.5"/><rect x="690.45" y="174.92" width="10.78" height="8.74" fill="#f9fb15" stroke="#333" stroke-opacity="0.45" stroke-width="0.5"/><rect x="701.23" y="174.92" width="10.78" height="8.74" fill="#4133be" stroke="#333" stroke-opacity="0.45" stroke-width="0.5"/><rect x="496.50" y="183.66" width="10.78" height="8.74" fill="#f9fb15" stroke="#333" stroke-opacity="0.45" stroke-width="0.5"/><rect x="507.27" y="183.66" width="10.78" height="8.74" fill="#24bdb7" stroke="#333" stroke-opacity="0.45" stroke-width="0.5"/><rect x="518.05" y="183.66" width="10.78" height="8.74" fill="#474eed" stroke="#333" stroke-opacity="0.45" stroke-width="0.5"/><rect x="528.83" y="183.66" width="10.78" height="8.74" fill="#2ac0ae" stroke="#333" stroke-opacity="0.45" stroke-width="0.5"/><rect x="539.60" y="183.66" width="10.78" height="8.74" fill="#3ec891" stroke="#333" stroke-opacity="0.45" stroke-width="0.5"/><rect x="550.38" y="183.66" width="10.78" height="8.74" fill="#4ec884" stroke="#333" stroke-opacity="0.45" stroke-width="0.5"/><rect x="561.15" y="183.66" width="10.78" height="8.74" fill="#2594ed" stroke="#333" stroke-opacity="0.45" stroke-width="0.5"/><rect x="571.92" y="183.66" width="10.78" height="8.74" fill="#f9fb15" stroke="#333" stroke-opacity="0.45" stroke-width="0.5"/><rect x="582.70" y="183.66" width="10.78" height="8.74" fill="#464be8" stroke="#333" stroke-opacity="0.45" stroke-width="0.5"/><rect x="593.48" y="183.66" width="10.78" height="8.74" fill="#a0c742" stroke="#333" stroke-opacity="0.45" stroke-width="0.5"/><rect x="604.25" y="183.66" width="10.78" height="8.74" fill="#f9e421" stroke="#333" stroke-opacity="0.45" stroke-width="0.5"/><rect x="615.02" y="183.66" width="10.78" height="8.74" fill="#4133be" stroke="#333" stroke-opacity="0.45" stroke-width="0.5"/><rect x="625.80" y="183.66" width="10.78" height="8.74" fill="#3d67f5" stroke="#333" stroke-opacity="0.45" stroke-width="0.5"/><rect x="636.58" y="183.66" width="10.78" height="8.74" fill="#4133be" stroke="#333" stroke-opacity="0.45" stroke-width="0.5"/><rect x="647.35" y="183.66" width="10.78" height="8.74" fill="#31c5a0" stroke="#333" stroke-opacity="0.45" stroke-width="0.5"/><rect x="658.12" y="183.66" width="10.78" height="8.74" fill="#4133be" stroke="#333" stroke-opacity="0.45" stroke-width="0.5"/><rect x="668.90" y="183.66" width="10.78" height="8.74" fill="#3ec891" stroke="#333" stroke-opacity="0.45" stroke-width="0.5"/><rect x="679.67" y="183.66" width="10.78" height="8.74" fill="#474eed" stroke="#333" stroke-opacity="0.45" stroke-width="0.5"/><rect x="690.45" y="183.66" width="10.78" height="8.74" fill="#4133be" stroke="#333" stroke-opacity="0.45" stroke-width="0.5"/><rect x="701.23" y="183.66" width="10.78" height="8.74" fill="#f9fb15" stroke="#333" stroke-opacity="0.45" stroke-width="0.5"/></g>
<rect x="496.5" y="17.6" width="215.50" height="174.80" fill="none" stroke="#222" stroke-width="0.6"/>
<text x="492.9" y="25.2" text-anchor="end" font-family='"Liberation Serif", serif' font-size="7.3" fill="#000">MRS</text>
<text x="492.9" y="33.9" text-anchor="end" font-family='"Liberation Serif", serif' font-size="7.3" fill="#000">Health</text>
<text x="492.9" y="42.7" text-anchor="end" font-family='"Liberation Serif", serif' font-size="7.3" fill="#000">Mastitis</text>
<text x="492.9" y="51.4" text-anchor="end" font-family='"Liberation Serif", serif' font-size="7.3" fill="#000">Digestive disease</text>
<text x="492.9" y="60.1" text-anchor="end" font-family='"Liberation Serif", serif' font-size="7.3" fill="#000">Surgical Diseases</text>
<text x="492.9" y="68.9" text-anchor="end" font-family='"Liberation Serif", serif' font-size="7.3" fill="#000">Postpartum care</text>
<text x="492.9" y="77.6" text-anchor="end" font-family='"Liberation Serif", serif' font-size="7.3" fill="#000">Breeding</text>
<text x="492.9" y="86.4" text-anchor="end" font-family='"Liberation Serif", serif' font-size="7.3" fill="#000">Difficulty of delivery score</text>
<text x="492.9" y="95.1" text-anchor="end" font-family='"Liberation Serif", serif' font-size="7.3" fill="#000">Calf weight at birth</text>
<text x="492.9" y="103.8" text-anchor="end" font-family='"Liberation Serif", serif' font-size="7.3" fill="#000">Days of pregnancy</text>
<text x="492.9" y="112.6" text-anchor="end" font-family='"Liberation Serif", serif' font-size="7.3" fill="#000">60d milk</text>
<text x="492.9" y="121.3" text-anchor="end" font-family='"Liberation Serif", serif' font-size="7.3" fill="#000">60d total milk</text>
<text x="492.9" y="130.0" text-anchor="end" font-family='"Liberation Serif", serif' font-size="7.3" fill="#000">Age</text>
<text x="492.9" y="138.8" text-anchor="end" font-family='"Liberation Serif", serif' font-size="7.3" fill="#000">Parity</text>
<text x="492.9" y="147.5" text-anchor="end" font-family='"Liberation Serif", serif' font-size="7.3" fill="#000">BCS</text>
<text x="492.9" y="156.3" text-anchor="end" font-family='"Liberation Serif", serif' font-size="7.3" fill="#000">Glycemic</text>
<text x="492.9" y="165.0" text-anchor="end" font-family='"Liberation Serif", serif' font-size="7.3" fill="#000">Ketone</text>
<text x="492.9" y="173.8" text-anchor="end" font-family='"Liberation Serif", serif' font-size="7.3" fill="#000">Milk fat</text>
<text x="492.9" y="182.5" text-anchor="end" font-family='"Liberation Serif", serif' font-size="7.3" fill="#000">Lactose</text>
<text x="492.9" y="191.2" text-anchor="end" font-family='"Liberation Serif", serif' font-size="7.3" fill="#000">Milk protein</text>
<text transform="translate(506.1,200.0) rotate(-45)" text-anchor="end" font-family='"Liberation Serif", serif' font-size="7.3" fill="#000">MRS</text>
<text transform="translate(516.9,200.0) rotate(-45)" text-anchor="end" font-family='"Liberation Serif", serif' font-size="7.3" fill="#000">Health</text>
<text transform="translate(527.6,200.0) rotate(-45)" text-anchor="end" font-family='"Liberation Serif", serif' font-size="7.3" fill="#000">Mastitis</text>
<text transform="translate(538.4,200.0) rotate(-45)" text-anchor="end" font-family='"Liberation Serif", serif' font-size="7.3" fill="#000">Digestive disease</text>
<text transform="translate(549.2,200.0) rotate(-45)" text-anchor="end" font-family='"Liberation Serif", serif' font-size="7.3" fill="#000">Surgical Diseases</text>
<text transform="translate(560.0,200.0) rotate(-45)" text-anchor="end" font-family='"Liberation Serif", serif' font-size="7.3" fill="#000">Postpartum care</text>
<text transform="translate(570.7,200.0) rotate(-45)" text-anchor="end" font-family='"Liberation Serif", serif' font-size="7.3" fill="#000">Breeding</text>
<text transform="translate(581.5,200.0) rotate(-45)" text-anchor="end" font-family='"Liberation Serif", serif' font-size="7.3" fill="#000">Difficulty of delivery score</text>
<text transform="translate(592.3,200.0) rotate(-45)" text-anchor="end" font-family='"Liberation Serif", serif' font-size="7.3" fill="#000">Calf weight at birth</text>
<text transform="translate(603.1,200.0) rotate(-45)" text-anchor="end" font-family='"Liberation Serif", serif' font-size="7.3" fill="#000">Days of pregnancy</text>
<text transform="translate(613.8,200.0) rotate(-45)" text-anchor="end" font-family='"Liberation Serif", serif' font-size="7.3" fill="#000">60d milk</text>
<text transform="translate(624.6,200.0) rotate(-45)" text-anchor="end" font-family='"Liberation Serif", serif' font-size="7.3" fill="#000">60d total milk</text>
<text transform="translate(635.4,200.0) rotate(-45)" text-anchor="end" font-family='"Liberation Serif", serif' font-size="7.3" fill="#000">Age</text>
<text transform="translate(646.2,200.0) rotate(-45)" text-anchor="end" font-family='"Liberation Serif", serif' font-size="7.3" fill="#000">Parity</text>
<text transform="translate(656.9,200.0) rotate(-45)" text-anchor="end" font-family='"Liberation Serif", serif' font-size="7.3" fill="#000">BCS</text>
<text transform="translate(667.7,200.0) rotate(-45)" text-anchor="end" font-family='"Liberation Serif", serif' font-size="7.3" fill="#000">Glycemic</text>
<text transform="translate(678.5,200.0) rotate(-45)" text-anchor="end" font-family='"Liberation Serif", serif' font-size="7.3" fill="#000">Ketone</text>
<text transform="translate(689.3,200.0) rotate(-45)" text-anchor="end" font-family='"Liberation Serif", serif' font-size="7.3" fill="#000">Milk fat</text>
<text transform="translate(700.0,200.0) rotate(-45)" text-anchor="end" font-family='"Liberation Serif", serif' font-size="7.3" fill="#000">Lactose</text>
<text transform="translate(710.8,200.0) rotate(-45)" text-anchor="end" font-family='"Liberation Serif", serif' font-size="7.3" fill="#000">Milk protein</text>
<text x="554.8" y="14.6" font-family='"Liberation Serif", serif' font-size="8.3" fill="#000" textLength="98.7" lengthAdjust="spacingAndGlyphs">Pearson correlation coefficient</text>
<text x="418.6" y="9.6" font-family='"Liberation Sans", sans-serif' font-weight="bold" font-size="10.3" fill="#000">C</text>
<defs><linearGradient id="parg" x1="0" y1="0" x2="0" y2="1"><stop offset="0.000" stop-color="#f9fb15"/><stop offset="0.050" stop-color="#f9e421"/><stop offset="0.100" stop-color="#facf2d"/><stop offset="0.150" stop-color="#f9bc35"/><stop offset="0.200" stop-color="#e3b92e"/><stop offset="0.250" stop-color="#c4bf33"/><stop offset="0.300" stop-color="#a0c742"/><stop offset="0.350" stop-color="#77c763"/><stop offset="0.400" stop-color="#4ec884"/><stop offset="0.450" stop-color="#31c5a0"/><stop offset="0.500" stop-color="#24bdb7"/><stop offset="0.550" stop-color="#17b5cd"/><stop offset="0.600" stop-color="#17a9dd"/><stop offset="0.650" stop-color="#219ae8"/><stop offset="0.700" stop-color="#2b8bf4"/><stop offset="0.750" stop-color="#347af6"/><stop offset="0.800" stop-color="#3d67f5"/><stop offset="0.850" stop-color="#4655f4"/><stop offset="0.900" stop-color="#4545dd"/><stop offset="0.950" stop-color="#4136c3"/><stop offset="1.000" stop-color="#3e26a8"/></linearGradient></defs>
<rect x="716.1" y="17.6" width="10.4" height="174.8" fill="url(#parg)" stroke="#333" stroke-width="0.5"/>
<line x1="724.5" x2="726.5" y1="175.4" y2="175.4" stroke="#333" stroke-width="0.5"/>
<text x="728.8" y="177.8" font-family='"Liberation Serif", serif' font-size="7" fill="#000">0.1</text>
<line x1="724.5" x2="726.5" y1="157.8" y2="157.8" stroke="#333" stroke-width="0.5"/>
<text x="728.8" y="160.2" font-family='"Liberation Serif", serif' font-size="7" fill="#000">0.2</text>
<line x1="724.5" x2="726.5" y1="140.3" y2="140.3" stroke="#333" stroke-width="0.5"/>
<text x="728.8" y="142.7" font-family='"Liberation Serif", serif' font-size="7" fill="#000">0.3</text>
<line x1="724.5" x2="726.5" y1="122.8" y2="122.8" stroke="#333" stroke-width="0.5"/>
<text x="728.8" y="125.2" font-family='"Liberation Serif", serif' font-size="7" fill="#000">0.4</text>
<line x1="724.5" x2="726.5" y1="105.2" y2="105.2" stroke="#333" stroke-width="0.5"/>
<text x="728.8" y="107.7" font-family='"Liberation Serif", serif' font-size="7" fill="#000">0.5</text>
<line x1="724.5" x2="726.5" y1="87.7" y2="87.7" stroke="#333" stroke-width="0.5"/>
<text x="728.8" y="90.1" font-family='"Liberation Serif", serif' font-size="7" fill="#000">0.6</text>
<line x1="724.5" x2="726.5" y1="70.2" y2="70.2" stroke="#333" stroke-width="0.5"/>
<text x="728.8" y="72.6" font-family='"Liberation Serif", serif' font-size="7" fill="#000">0.7</text>
<line x1="724.5" x2="726.5" y1="52.7" y2="52.7" stroke="#333" stroke-width="0.5"/>
<text x="728.8" y="55.1" font-family='"Liberation Serif", serif' font-size="7" fill="#000">0.8</text>
<line x1="724.5" x2="726.5" y1="35.1" y2="35.1" stroke="#333" stroke-width="0.5"/>
<text x="728.8" y="37.5" font-family='"Liberation Serif", serif' font-size="7" fill="#000">0.9</text>
<line x1="724.5" x2="726.5" y1="17.6" y2="17.6" stroke="#333" stroke-width="0.5"/>
<text x="728.8" y="20.0" font-family='"Liberation Serif", serif' font-size="7" fill="#000">1</text>
<text x="1.2" y="275.2" font-family='"Liberation Sans", sans-serif' font-weight="bold" font-size="10.3" fill="#000">B</text>
<line x1="137" x2="137" y1="425.7" y2="378.7" stroke="#ff4248" stroke-width="1.6" stroke-dasharray="5.2 4.5"/>
<line x1="137" x2="137" y1="472.7" y2="496.2" stroke="#ff4248" stroke-width="1.6" stroke-dasharray="5.2 4.5"/>
<line x1="126.3" x2="147.8" y1="378.7" y2="378.7" stroke="#ff4248" stroke-width="1.4"/>
<line x1="126.3" x2="147.8" y1="496.2" y2="496.2" stroke="#ff4248" stroke-width="1.4"/>
<rect x="114.6" y="425.7" width="44.7" height="47.0" fill="#b0e67e" stroke="#e8583c" stroke-width="1.2"/>
<line x1="114.6" x2="159.3" y1="449.2" y2="449.2" stroke="#2d6a1c" stroke-width="1.4"/>
<line x1="283.8" x2="283.8" y1="308.2" y2="284.7" stroke="#ff4248" stroke-width="1.6" stroke-dasharray="5.2 4.5"/>
<line x1="283.8" x2="283.8" y1="355.2" y2="402.2" stroke="#ff4248" stroke-width="1.6" stroke-dasharray="5.2 4.5"/>
<line x1="273.3" x2="294.7" y1="284.7" y2="284.7" stroke="#ff4248" stroke-width="1.4"/>
<line x1="273.3" x2="294.7" y1="402.2" y2="402.2" stroke="#ff4248" stroke-width="1.4"/>
<rect x="261.6" y="308.2" width="44.3" height="47.0" fill="#ff8080" stroke="#ff2d2d" stroke-width="1.2"/>
<line x1="261.6" x2="305.9" y1="331.7" y2="331.7" stroke="#5c0a0a" stroke-width="1.4"/>
<path d="M283.8 494.0 L286 496.2 L283.8 498.4 L281.6 496.2Z" fill="#ff0000"/>
<path d="M283.8 470.5 L286 472.7 L283.8 474.9 L281.6 472.7Z" fill="#ff0000"/>
<path d="M283.8 447.0 L286 449.2 L283.8 451.4 L281.6 449.2Z" fill="#ff0000"/>
<rect x="63.5" y="274.5" width="294.0" height="232.0" fill="none" stroke="#151515" stroke-width="1"/>
<line x1="63.5" x2="67.0" y1="496.2" y2="496.2" stroke="#262626" stroke-width="1"/>
<line x1="354.0" x2="357.5" y1="496.2" y2="496.2" stroke="#262626" stroke-width="1"/>
<text x="59.4" y="500.3" text-anchor="end" font-family='"Liberation Serif", serif' font-weight="bold" font-size="12" fill="#000">0</text>
<line x1="63.5" x2="67.0" y1="472.7" y2="472.7" stroke="#262626" stroke-width="1"/>
<line x1="354.0" x2="357.5" y1="472.7" y2="472.7" stroke="#262626" stroke-width="1"/>
<text x="59.4" y="476.8" text-anchor="end" font-family='"Liberation Serif", serif' font-weight="bold" font-size="12" fill="#000">1</text>
<line x1="63.5" x2="67.0" y1="449.2" y2="449.2" stroke="#262626" stroke-width="1"/>
<line x1="354.0" x2="357.5" y1="449.2" y2="449.2" stroke="#262626" stroke-width="1"/>
<text x="59.4" y="453.3" text-anchor="end" font-family='"Liberation Serif", serif' font-weight="bold" font-size="12" fill="#000">2</text>
<line x1="63.5" x2="67.0" y1="425.7" y2="425.7" stroke="#262626" stroke-width="1"/>
<line x1="354.0" x2="357.5" y1="425.7" y2="425.7" stroke="#262626" stroke-width="1"/>
<text x="59.4" y="429.8" text-anchor="end" font-family='"Liberation Serif", serif' font-weight="bold" font-size="12" fill="#000">3</text>
<line x1="63.5" x2="67.0" y1="402.2" y2="402.2" stroke="#262626" stroke-width="1"/>
<line x1="354.0" x2="357.5" y1="402.2" y2="402.2" stroke="#262626" stroke-width="1"/>
<text x="59.4" y="406.3" text-anchor="end" font-family='"Liberation Serif", serif' font-weight="bold" font-size="12" fill="#000">4</text>
<line x1="63.5" x2="67.0" y1="378.7" y2="378.7" stroke="#262626" stroke-width="1"/>
<line x1="354.0" x2="357.5" y1="378.7" y2="378.7" stroke="#262626" stroke-width="1"/>
<text x="59.4" y="382.8" text-anchor="end" font-family='"Liberation Serif", serif' font-weight="bold" font-size="12" fill="#000">5</text>
<line x1="63.5" x2="67.0" y1="355.2" y2="355.2" stroke="#262626" stroke-width="1"/>
<line x1="354.0" x2="357.5" y1="355.2" y2="355.2" stroke="#262626" stroke-width="1"/>
<text x="59.4" y="359.3" text-anchor="end" font-family='"Liberation Serif", serif' font-weight="bold" font-size="12" fill="#000">6</text>
<line x1="63.5" x2="67.0" y1="331.7" y2="331.7" stroke="#262626" stroke-width="1"/>
<line x1="354.0" x2="357.5" y1="331.7" y2="331.7" stroke="#262626" stroke-width="1"/>
<text x="59.4" y="335.8" text-anchor="end" font-family='"Liberation Serif", serif' font-weight="bold" font-size="12" fill="#000">7</text>
<line x1="63.5" x2="67.0" y1="308.2" y2="308.2" stroke="#262626" stroke-width="1"/>
<line x1="354.0" x2="357.5" y1="308.2" y2="308.2" stroke="#262626" stroke-width="1"/>
<text x="59.4" y="312.3" text-anchor="end" font-family='"Liberation Serif", serif' font-weight="bold" font-size="12" fill="#000">8</text>
<line x1="63.5" x2="67.0" y1="284.7" y2="284.7" stroke="#262626" stroke-width="1"/>
<line x1="354.0" x2="357.5" y1="284.7" y2="284.7" stroke="#262626" stroke-width="1"/>
<text x="59.4" y="288.8" text-anchor="end" font-family='"Liberation Serif", serif' font-weight="bold" font-size="12" fill="#000">9</text>
<line x1="137" x2="137" y1="503.0" y2="506.5" stroke="#262626" stroke-width="1"/>
<line x1="137" x2="137" y1="274.5" y2="278.0" stroke="#262626" stroke-width="1"/>
<text x="137" y="521.8" text-anchor="middle" font-family='"Liberation Serif", serif' font-weight="bold" font-size="12" fill="#000">A</text>
<line x1="283.8" x2="283.8" y1="503.0" y2="506.5" stroke="#262626" stroke-width="1"/>
<line x1="283.8" x2="283.8" y1="274.5" y2="278.0" stroke="#262626" stroke-width="1"/>
<text x="283.8" y="521.8" text-anchor="middle" font-family='"Liberation Serif", serif' font-weight="bold" font-size="12" fill="#000">B</text>
<text transform="translate(50,390.8) rotate(-90)" text-anchor="middle" font-family='"Liberation Serif", serif' font-weight="bold" font-size="12" fill="#000">MRS</text>
<text x="418.6" y="275.3" font-family='"Liberation Sans", sans-serif' font-weight="bold" font-size="10.3" fill="#000">D</text>
<ellipse cx="470.9" cy="341.9" rx="4.0" ry="3.45" fill="#f8766d"/>
<ellipse cx="470.9" cy="345.9" rx="4.0" ry="3.45" fill="#f8766d"/>
<ellipse cx="470.9" cy="349.1" rx="4.0" ry="3.45" fill="#f8766d"/>
<ellipse cx="470.9" cy="352.1" rx="4.0" ry="3.45" fill="#f8766d"/>
<ellipse cx="470.9" cy="355.3" rx="4.0" ry="3.45" fill="#f8766d"/>
<ellipse cx="470.9" cy="358.3" rx="4.0" ry="3.45" fill="#f8766d"/>
<ellipse cx="470.9" cy="360.8" rx="4.0" ry="3.45" fill="#f8766d"/>
<ellipse cx="470.9" cy="365.8" rx="4.0" ry="3.45" fill="#f8766d"/>
<ellipse cx="470.9" cy="371.2" rx="4.0" ry="3.45" fill="#f8766d"/>
<ellipse cx="470.9" cy="389.7" rx="4.0" ry="3.45" fill="#f8766d"/>
<ellipse cx="499.0" cy="338.4" rx="4.0" ry="3.45" fill="#f8766d"/>
<ellipse cx="499.0" cy="343.9" rx="4.0" ry="3.45" fill="#f8766d"/>
<ellipse cx="499.0" cy="352.1" rx="4.0" ry="3.45" fill="#f8766d"/>
<ellipse cx="499.0" cy="360.0" rx="4.0" ry="3.45" fill="#f8766d"/>
<ellipse cx="499.0" cy="368.3" rx="4.0" ry="3.45" fill="#f8766d"/>
<ellipse cx="499.0" cy="371.5" rx="4.0" ry="3.45" fill="#f8766d"/>
<ellipse cx="499.0" cy="376.5" rx="4.0" ry="3.45" fill="#f8766d"/>
<ellipse cx="499.0" cy="387.4" rx="4.0" ry="3.45" fill="#f8766d"/>
<ellipse cx="499.0" cy="396.9" rx="4.0" ry="3.45" fill="#f8766d"/>
<ellipse cx="499.0" cy="414.5" rx="4.0" ry="3.45" fill="#f8766d"/>
<ellipse cx="499.0" cy="418.5" rx="4.0" ry="3.45" fill="#f8766d"/>
<ellipse cx="499.0" cy="435.0" rx="4.0" ry="3.45" fill="#f8766d"/>
<ellipse cx="499.0" cy="436.8" rx="4.0" ry="3.45" fill="#f8766d"/>
<ellipse cx="499.0" cy="482.3" rx="4.0" ry="3.45" fill="#f8766d"/>
<ellipse cx="527.1" cy="335.2" rx="4.0" ry="3.45" fill="#f8766d"/>
<ellipse cx="527.1" cy="344.1" rx="4.0" ry="3.45" fill="#f8766d"/>
<ellipse cx="527.1" cy="360.0" rx="4.0" ry="3.45" fill="#f8766d"/>
<ellipse cx="527.1" cy="365.8" rx="4.0" ry="3.45" fill="#f8766d"/>
<ellipse cx="527.1" cy="369.5" rx="4.0" ry="3.45" fill="#f8766d"/>
<ellipse cx="527.1" cy="374.5" rx="4.0" ry="3.45" fill="#f8766d"/>
<ellipse cx="527.1" cy="381.2" rx="4.0" ry="3.45" fill="#f8766d"/>
<ellipse cx="527.1" cy="385.7" rx="4.0" ry="3.45" fill="#f8766d"/>
<ellipse cx="527.1" cy="411.5" rx="4.0" ry="3.45" fill="#f8766d"/>
<ellipse cx="527.1" cy="427.7" rx="4.0" ry="3.45" fill="#f8766d"/>
<ellipse cx="527.1" cy="482.3" rx="4.0" ry="3.45" fill="#f8766d"/>
<ellipse cx="555.2" cy="324.0" rx="4.0" ry="3.45" fill="#f8766d"/>
<ellipse cx="555.2" cy="333.4" rx="4.0" ry="3.45" fill="#f8766d"/>
<ellipse cx="555.2" cy="336.7" rx="4.0" ry="3.45" fill="#f8766d"/>
<ellipse cx="555.2" cy="340.4" rx="4.0" ry="3.45" fill="#f8766d"/>
<ellipse cx="555.2" cy="358.3" rx="4.0" ry="3.45" fill="#f8766d"/>
<ellipse cx="555.2" cy="360.8" rx="4.0" ry="3.45" fill="#f8766d"/>
<ellipse cx="555.2" cy="386.2" rx="4.0" ry="3.45" fill="#f8766d"/>
<ellipse cx="555.2" cy="389.4" rx="4.0" ry="3.45" fill="#f8766d"/>
<ellipse cx="555.2" cy="405.7" rx="4.0" ry="3.45" fill="#f8766d"/>
<ellipse cx="555.2" cy="411.5" rx="4.0" ry="3.45" fill="#f8766d"/>
<ellipse cx="555.2" cy="418.7" rx="4.0" ry="3.45" fill="#f8766d"/>
<ellipse cx="583.3" cy="309.8" rx="4.0" ry="3.45" fill="#f8766d"/>
<ellipse cx="583.3" cy="321.2" rx="4.0" ry="3.45" fill="#f8766d"/>
<ellipse cx="583.3" cy="331.4" rx="4.0" ry="3.45" fill="#f8766d"/>
<ellipse cx="583.3" cy="334.7" rx="4.0" ry="3.45" fill="#f8766d"/>
<ellipse cx="583.3" cy="342.1" rx="4.0" ry="3.45" fill="#f8766d"/>
<ellipse cx="583.3" cy="345.1" rx="4.0" ry="3.45" fill="#f8766d"/>
<ellipse cx="583.3" cy="349.1" rx="4.0" ry="3.45" fill="#f8766d"/>
<ellipse cx="583.3" cy="363.3" rx="4.0" ry="3.45" fill="#f8766d"/>
<ellipse cx="583.3" cy="366.5" rx="4.0" ry="3.45" fill="#f8766d"/>
<ellipse cx="583.3" cy="370.0" rx="4.0" ry="3.45" fill="#f8766d"/>
<ellipse cx="583.3" cy="374.0" rx="4.0" ry="3.45" fill="#f8766d"/>
<ellipse cx="583.3" cy="383.9" rx="4.0" ry="3.45" fill="#f8766d"/>
<ellipse cx="583.3" cy="386.9" rx="4.0" ry="3.45" fill="#f8766d"/>
<ellipse cx="611.4" cy="283.7" rx="4.0" ry="3.45" fill="#f8766d"/>
<ellipse cx="611.4" cy="296.6" rx="4.0" ry="3.45" fill="#f8766d"/>
<ellipse cx="611.4" cy="307.8" rx="4.0" ry="3.45" fill="#f8766d"/>
<ellipse cx="611.4" cy="316.5" rx="4.0" ry="3.45" fill="#f8766d"/>
<ellipse cx="611.4" cy="322.2" rx="4.0" ry="3.45" fill="#f8766d"/>
<ellipse cx="611.4" cy="335.2" rx="4.0" ry="3.45" fill="#f8766d"/>
<ellipse cx="611.4" cy="338.4" rx="4.0" ry="3.45" fill="#f8766d"/>
<ellipse cx="611.4" cy="342.1" rx="4.0" ry="3.45" fill="#f8766d"/>
<ellipse cx="611.4" cy="347.1" rx="4.0" ry="3.45" fill="#f8766d"/>
<ellipse cx="611.4" cy="350.8" rx="4.0" ry="3.45" fill="#f8766d"/>
<ellipse cx="611.4" cy="354.6" rx="4.0" ry="3.45" fill="#f8766d"/>
<ellipse cx="611.4" cy="362.5" rx="4.0" ry="3.45" fill="#f8766d"/>
<ellipse cx="611.4" cy="372.7" rx="4.0" ry="3.45" fill="#f8766d"/>
<ellipse cx="611.4" cy="391.4" rx="4.0" ry="3.45" fill="#f8766d"/>
<ellipse cx="611.4" cy="414.7" rx="4.0" ry="3.45" fill="#f8766d"/>
<ellipse cx="611.4" cy="427.7" rx="4.0" ry="3.45" fill="#f8766d"/>
<ellipse cx="639.5" cy="305.6" rx="4.0" ry="3.45" fill="#f8766d"/>
<ellipse cx="639.5" cy="318.5" rx="4.0" ry="3.45" fill="#f8766d"/>
<ellipse cx="639.5" cy="327.2" rx="4.0" ry="3.45" fill="#f8766d"/>
<ellipse cx="639.5" cy="331.0" rx="4.0" ry="3.45" fill="#f8766d"/>
<ellipse cx="639.5" cy="337.2" rx="4.0" ry="3.45" fill="#f8766d"/>
<ellipse cx="639.5" cy="356.6" rx="4.0" ry="3.45" fill="#f8766d"/>
<ellipse cx="639.5" cy="362.0" rx="4.0" ry="3.45" fill="#f8766d"/>
<ellipse cx="639.5" cy="374.5" rx="4.0" ry="3.45" fill="#f8766d"/>
<ellipse cx="639.5" cy="382.0" rx="4.0" ry="3.45" fill="#f8766d"/>
<ellipse cx="639.5" cy="382.2" rx="4.0" ry="3.45" fill="#f8766d"/>
<ellipse cx="639.5" cy="387.7" rx="4.0" ry="3.45" fill="#f8766d"/>
<ellipse cx="639.5" cy="389.9" rx="4.0" ry="3.45" fill="#f8766d"/>
<ellipse cx="667.6" cy="314.8" rx="4.0" ry="3.45" fill="#f8766d"/>
<ellipse cx="667.6" cy="319.8" rx="4.0" ry="3.45" fill="#f8766d"/>
<ellipse cx="667.6" cy="324.7" rx="4.0" ry="3.45" fill="#f8766d"/>
<ellipse cx="667.6" cy="342.6" rx="4.0" ry="3.45" fill="#f8766d"/>
<ellipse cx="667.6" cy="352.1" rx="4.0" ry="3.45" fill="#f8766d"/>
<ellipse cx="667.6" cy="355.8" rx="4.0" ry="3.45" fill="#f8766d"/>
<ellipse cx="667.6" cy="361.5" rx="4.0" ry="3.45" fill="#f8766d"/>
<ellipse cx="667.6" cy="370.7" rx="4.0" ry="3.45" fill="#f8766d"/>
<ellipse cx="667.6" cy="380.2" rx="4.0" ry="3.45" fill="#f8766d"/>
<ellipse cx="667.6" cy="380.7" rx="4.0" ry="3.45" fill="#f8766d"/>
<ellipse cx="667.6" cy="391.0" rx="4.0" ry="3.45" fill="#f8766d"/>
<ellipse cx="667.6" cy="396.5" rx="4.0" ry="3.45" fill="#f8766d"/>
<ellipse cx="667.6" cy="398.7" rx="4.0" ry="3.45" fill="#f8766d"/>
<ellipse cx="695.7" cy="307.3" rx="4.0" ry="3.45" fill="#f8766d"/>
<ellipse cx="695.7" cy="312.3" rx="4.0" ry="3.45" fill="#f8766d"/>
<ellipse cx="695.7" cy="347.1" rx="4.0" ry="3.45" fill="#f8766d"/>
<ellipse cx="695.7" cy="352.8" rx="4.0" ry="3.45" fill="#f8766d"/>
<ellipse cx="695.7" cy="376.5" rx="4.0" ry="3.45" fill="#f8766d"/>
<ellipse cx="695.7" cy="381.9" rx="4.0" ry="3.45" fill="#f8766d"/>
<ellipse cx="695.7" cy="382.2" rx="4.0" ry="3.45" fill="#f8766d"/>
<ellipse cx="723.8" cy="294.9" rx="4.0" ry="3.45" fill="#f8766d"/>
<ellipse cx="723.8" cy="302.3" rx="4.0" ry="3.45" fill="#f8766d"/>
<ellipse cx="723.8" cy="326.0" rx="4.0" ry="3.45" fill="#f8766d"/>
<ellipse cx="723.8" cy="347.6" rx="4.0" ry="3.45" fill="#f8766d"/>
<ellipse cx="723.8" cy="352.1" rx="4.0" ry="3.45" fill="#f8766d"/>
<ellipse cx="723.8" cy="360.0" rx="4.0" ry="3.45" fill="#f8766d"/>
<ellipse cx="723.8" cy="362.5" rx="4.0" ry="3.45" fill="#f8766d"/>
<polygon points="470.9,369.0 477.4,368.4 483.9,367.8 490.4,367.2 496.8,366.6 503.3,366.0 509.8,365.4 516.3,364.8 522.8,364.1 529.3,363.5 535.7,362.8 542.2,362.1 548.7,361.4 555.2,360.7 561.7,360.0 568.2,359.2 574.7,358.5 581.1,357.7 587.6,356.8 594.1,355.9 600.6,354.7 607.1,353.5 613.6,352.3 620.0,351.1 626.5,349.8 633.0,348.5 639.5,347.2 646.0,345.9 652.5,344.6 659.0,343.3 665.4,341.9 671.9,340.6 678.4,339.2 684.9,337.8 691.4,336.4 697.9,335.0 704.3,333.6 710.8,332.2 717.3,330.8 723.8,329.3 723.8,349.2 717.3,349.7 710.8,350.3 704.3,350.9 697.9,351.4 691.4,352.0 684.9,352.6 678.4,353.3 671.9,353.9 665.4,354.5 659.0,355.2 652.5,355.8 646.0,356.5 639.5,357.2 633.0,357.9 626.5,358.6 620.0,359.3 613.6,360.1 607.1,360.8 600.6,361.6 594.1,362.5 587.6,363.5 581.1,364.7 574.7,365.9 568.2,367.1 561.7,368.3 555.2,369.6 548.7,370.9 542.2,372.2 535.7,373.5 529.3,374.8 522.8,376.2 516.3,377.5 509.8,378.9 503.3,380.3 496.8,381.7 490.4,383.1 483.9,384.5 477.4,385.9 470.9,387.3" fill="#bebebe" fill-opacity="0.45"/>
<line x1="470.9" y1="378.1" x2="723.8" y2="339.2" stroke="#f8766d" stroke-width="1.5"/>
<rect x="458.6" y="274.7" width="277.7" height="217.5" fill="none" stroke="#8f8f8f" stroke-width="1.1"/>
<line x1="455.6" x2="458.6" y1="480.6" y2="480.6" stroke="#333" stroke-width="0.9"/>
<text transform="translate(453.7,485.6) scale(1.25,1)" text-anchor="end" font-family='"Liberation Serif", serif' font-size="13.8" fill="#1a1a1a">4.2</text>
<line x1="455.6" x2="458.6" y1="425.9" y2="425.9" stroke="#333" stroke-width="0.9"/>
<text transform="translate(453.7,430.9) scale(1.25,1)" text-anchor="end" font-family='"Liberation Serif", serif' font-size="13.8" fill="#1a1a1a">4.5</text>
<line x1="455.6" x2="458.6" y1="371.2" y2="371.2" stroke="#333" stroke-width="0.9"/>
<text transform="translate(453.7,376.2) scale(1.25,1)" text-anchor="end" font-family='"Liberation Serif", serif' font-size="13.8" fill="#1a1a1a">4.8</text>
<line x1="455.6" x2="458.6" y1="316.5" y2="316.5" stroke="#333" stroke-width="0.9"/>
<text transform="translate(453.7,321.5) scale(1.25,1)" text-anchor="end" font-family='"Liberation Serif", serif' font-size="13.8" fill="#1a1a1a">5.1</text>
<line x1="470.9" x2="470.9" y1="492.2" y2="494.7" stroke="#333" stroke-width="0.9"/>
<text transform="translate(470.9,505.7) scale(1.25,1)" text-anchor="middle" font-family='"Liberation Serif", serif' font-size="13.8" fill="#1a1a1a">0.0</text>
<line x1="541.1" x2="541.1" y1="492.2" y2="494.7" stroke="#333" stroke-width="0.9"/>
<text transform="translate(541.1,505.7) scale(1.25,1)" text-anchor="middle" font-family='"Liberation Serif", serif' font-size="13.8" fill="#1a1a1a">2.5</text>
<line x1="611.4" x2="611.4" y1="492.2" y2="494.7" stroke="#333" stroke-width="0.9"/>
<text transform="translate(611.4,505.7) scale(1.25,1)" text-anchor="middle" font-family='"Liberation Serif", serif' font-size="13.8" fill="#1a1a1a">5.0</text>
<line x1="681.6" x2="681.6" y1="492.2" y2="494.7" stroke="#333" stroke-width="0.9"/>
<text transform="translate(681.6,505.7) scale(1.25,1)" text-anchor="middle" font-family='"Liberation Serif", serif' font-size="13.8" fill="#1a1a1a">7.5</text>
<text transform="translate(597.4,520.6) scale(1.2,1)" text-anchor="middle" font-family='"Liberation Serif", serif' font-weight="bold" font-size="14.3" fill="#000">MRS</text>
<text transform="translate(426.6,382.7) scale(1.15,1) rotate(-90)" text-anchor="middle" font-family='"Liberation Serif", serif' font-weight="bold" font-size="14.4" fill="#000">Lactose</text>
</g>
</svg>
</body></html>
